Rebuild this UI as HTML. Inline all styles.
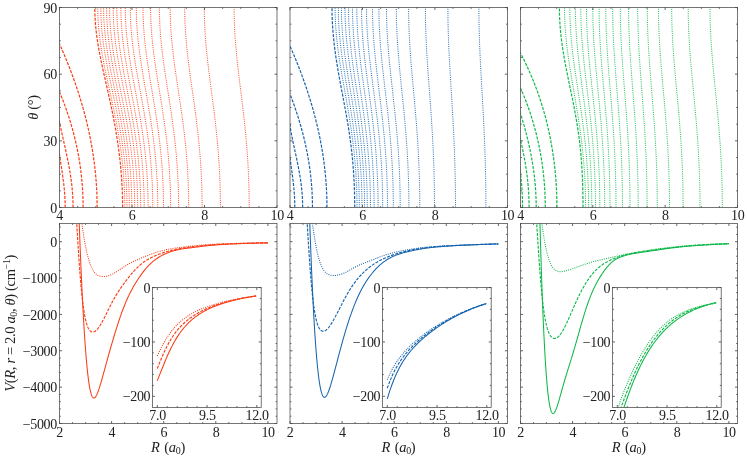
<!DOCTYPE html>
<html lang="en"><head><meta charset="utf-8"><title>Potential energy surfaces</title>
<style>html,body{margin:0;padding:0;background:#fff}svg{display:block}</style></head>
<body>
<svg width="747" height="458" viewBox="0 0 747 458">
<rect width="747" height="458" fill="#fff"/>
<defs>
<clipPath id="ct0"><rect x="59.5" y="7.5" width="217.5" height="200"/></clipPath>
<clipPath id="cb0"><rect x="59.5" y="223.5" width="217.5" height="200"/></clipPath>
<clipPath id="ct1"><rect x="290" y="7.5" width="217.4" height="200"/></clipPath>
<clipPath id="cb1"><rect x="290" y="223.5" width="217.4" height="200"/></clipPath>
<clipPath id="ct2"><rect x="520.5" y="7.5" width="217" height="200"/></clipPath>
<clipPath id="cb2"><rect x="520.5" y="223.5" width="217" height="200"/></clipPath>
</defs>
<g clip-path="url(#ct0)" fill="none" stroke="#fb3b14" stroke-width="1">
<g stroke-dasharray="3 1.3" stroke-width="1.2">
<path d="M122.6 207.5 L122.59 204.17 L122.55 200.83 L122.48 197.5 L122.39 194.17 L122.27 190.83 L122.13 187.5 L121.96 184.17 L121.76 180.83 L121.54 177.5 L121.29 174.17 L121.02 170.83 L120.72 167.5 L120.4 164.17 L120.05 160.83 L119.68 157.5 L119.28 154.17 L118.86 150.83 L118.42 147.5 L117.95 144.17 L117.46 140.83 L116.94 137.5 L116.41 134.17 L115.85 130.83 L115.27 127.5 L114.67 124.17 L114.05 120.83 L113.41 117.5 L112.75 114.17 L112.08 110.83 L111.39 107.5 L110.68 104.17 L109.96 100.83 L109.23 97.5 L108.49 94.17 L107.74 90.83 L106.99 87.5 L106.23 84.17 L105.48 80.83 L104.72 77.5 L103.97 74.17 L103.23 70.83 L102.5 67.5 L101.79 64.17 L101.09 60.83 L100.41 57.5 L99.76 54.17 L99.13 50.83 L98.54 47.5 L97.98 44.17 L97.45 40.83 L96.97 37.5 L96.53 34.17 L96.14 30.83 L95.79 27.5 L95.49 24.17 L95.24 20.83 L95.05 17.5 L94.91 14.17 L94.83 10.83 L94.8 7.5"/>
<path d="M65.19 207.5 L65.18 206.39 L65.17 205.27 L65.15 204.16 L65.13 203.04 L65.1 201.93 L65.06 200.82 L65.02 199.7 L64.97 198.59 L64.91 197.47 L64.84 196.36 L64.77 195.25 L64.7 194.13 L64.61 193.02 L64.53 191.9 L64.43 190.79 L64.33 189.68 L64.22 188.56 L64.11 187.45 L64 186.33 L63.87 185.22 L63.75 184.11 L63.61 182.99 L63.48 181.88 L63.34 180.76 L63.19 179.65 L63.05 178.54 L62.89 177.42 L62.74 176.31 L62.58 175.19 L62.42 174.08 L62.26 172.97 L62.09 171.85 L61.92 170.74 L61.76 169.62 L61.59 168.51 L61.42 167.4 L61.25 166.28 L61.08 165.17 L60.9 164.05 L60.73 162.94 L60.57 161.83 L60.4 160.71 L60.23 159.6 L60.07 158.48 L59.91 157.37 L59.75 156.26 L59.6 155.14 L59.45 154.03 L59.31 152.91 L59.17 151.8 L59.03 150.69 L58.91 149.57 L58.78 148.46 L58.67 147.34 L58.56 146.23 L58.47 145.12 L58.38 144 L58.3 142.89 L58.23 141.77 L58.17 140.66 L58.12 139.55 L58.08 138.43 L58.06 137.32 L58.04 136.2 L58.05 135.09 L58.06 133.98 L58.09 132.86 L58.14 131.75 L58.2 130.63"/>
<path d="M73.05 207.5 L73.04 205.9 L73.02 204.3 L72.99 202.71 L72.94 201.11 L72.89 199.51 L72.81 197.91 L72.73 196.31 L72.63 194.72 L72.52 193.12 L72.4 191.52 L72.27 189.92 L72.12 188.32 L71.96 186.73 L71.79 185.13 L71.61 183.53 L71.42 181.93 L71.21 180.33 L71 178.73 L70.77 177.14 L70.54 175.54 L70.29 173.94 L70.03 172.34 L69.77 170.74 L69.49 169.15 L69.21 167.55 L68.92 165.95 L68.62 164.35 L68.31 162.75 L68 161.16 L67.68 159.56 L67.35 157.96 L67.02 156.36 L66.68 154.76 L66.34 153.17 L65.99 151.57 L65.64 149.97 L65.29 148.37 L64.93 146.77 L64.57 145.18 L64.21 143.58 L63.85 141.98 L63.49 140.38 L63.13 138.78 L62.77 137.19 L62.41 135.59 L62.05 133.99 L61.7 132.39 L61.35 130.79 L61.01 129.19 L60.67 127.6 L60.33 126 L60.01 124.4 L59.69 122.8 L59.37 121.2 L59.07 119.61 L58.78 118.01 L58.5 116.41 L58.23 114.81 L57.97 113.21 L57.72 111.62 L57.49 110.02 L57.28 108.42 L57.08 106.82 L56.9 105.22 L56.73 103.63 L56.59 102.03 L56.46 100.43 L56.36 98.83 L56.28 97.23"/>
<path d="M83.11 207.5 L83.1 205.45 L83.08 203.41 L83.05 201.36 L83 199.31 L82.93 197.26 L82.85 195.22 L82.76 193.17 L82.65 191.12 L82.53 189.07 L82.4 187.03 L82.25 184.98 L82.08 182.93 L81.9 180.88 L81.71 178.84 L81.5 176.79 L81.28 174.74 L81.04 172.7 L80.79 170.65 L80.53 168.6 L80.25 166.55 L79.95 164.51 L79.64 162.46 L79.32 160.41 L78.98 158.36 L78.62 156.32 L78.25 154.27 L77.87 152.22 L77.47 150.17 L77.05 148.13 L76.62 146.08 L76.18 144.03 L75.72 141.99 L75.24 139.94 L74.75 137.89 L74.25 135.84 L73.72 133.8 L73.19 131.75 L72.63 129.7 L72.06 127.65 L71.48 125.61 L70.88 123.56 L70.26 121.51 L69.63 119.46 L68.98 117.42 L68.31 115.37 L67.63 113.32 L66.93 111.27 L66.21 109.23 L65.48 107.18 L64.73 105.13 L63.96 103.09 L63.18 101.04 L62.38 98.99 L61.56 96.94 L60.72 94.9 L59.87 92.85 L59 90.8 L58.11 88.75 L57.2 86.71 L56.28 84.66 L55.33 82.61 L54.37 80.56 L53.39 78.52 L52.39 76.47 L51.38 74.42 L50.34 72.38 L49.28 70.33 L48.21 68.28 L47.12 66.23"/>
<path d="M97.13 207.5 L97.12 204.75 L97.08 202.01 L97.03 199.26 L96.95 196.52 L96.86 193.77 L96.74 191.02 L96.6 188.28 L96.43 185.53 L96.25 182.79 L96.04 180.04 L95.82 177.3 L95.57 174.55 L95.3 171.8 L95 169.06 L94.69 166.31 L94.36 163.57 L94 160.82 L93.62 158.07 L93.22 155.33 L92.8 152.58 L92.36 149.84 L91.9 147.09 L91.41 144.34 L90.9 141.6 L90.38 138.85 L89.83 136.11 L89.26 133.36 L88.67 130.61 L88.06 127.87 L87.42 125.12 L86.77 122.38 L86.1 119.63 L85.4 116.89 L84.68 114.14 L83.95 111.39 L83.19 108.65 L82.41 105.9 L81.61 103.16 L80.79 100.41 L79.96 97.66 L79.1 94.92 L78.22 92.17 L77.32 89.43 L76.39 86.68 L75.45 83.93 L74.49 81.19 L73.51 78.44 L72.51 75.7 L71.49 72.95 L70.45 70.21 L69.4 67.46 L68.32 64.71 L67.22 61.97 L66.1 59.22 L64.96 56.48 L63.81 53.73 L62.63 50.98 L61.44 48.24 L60.23 45.49 L59 42.75 L57.75 40 L56.48 37.25 L55.19 34.51 L53.89 31.76 L52.56 29.02 L51.22 26.27 L49.86 23.53 L48.49 20.78 L47.09 18.03"/>
</g>
<g stroke-dasharray="1 1.2" stroke-width="0.95">
<path d="M124.8 207.5 L124.79 204.17 L124.75 200.83 L124.68 197.5 L124.59 194.17 L124.48 190.83 L124.33 187.5 L124.16 184.17 L123.97 180.83 L123.74 177.5 L123.5 174.17 L123.22 170.83 L122.92 167.5 L122.59 164.17 L122.24 160.83 L121.85 157.5 L121.45 154.17 L121.01 150.83 L120.55 147.5 L120.07 144.17 L119.56 140.83 L119.03 137.5 L118.47 134.17 L117.9 130.83 L117.3 127.5 L116.68 124.17 L116.04 120.83 L115.38 117.5 L114.71 114.17 L114.02 110.83 L113.32 107.5 L112.6 104.17 L111.88 100.83 L111.15 97.5 L110.42 94.17 L109.69 90.83 L108.95 87.5 L108.22 84.17 L107.49 80.83 L106.77 77.5 L106.06 74.17 L105.37 70.83 L104.68 67.5 L104.02 64.17 L103.38 60.83 L102.76 57.5 L102.17 54.17 L101.61 50.83 L101.07 47.5 L100.58 44.17 L100.11 40.83 L99.69 37.5 L99.3 34.17 L98.96 30.83 L98.65 27.5 L98.4 24.17 L98.18 20.83 L98.02 17.5 L97.9 14.17 L97.82 10.83 L97.8 7.5"/>
<path d="M127 207.5 L126.99 204.17 L126.95 200.83 L126.89 197.5 L126.8 194.17 L126.68 190.83 L126.55 187.5 L126.38 184.17 L126.19 180.83 L125.98 177.5 L125.73 174.17 L125.47 170.83 L125.17 167.5 L124.86 164.17 L124.51 160.83 L124.14 157.5 L123.75 154.17 L123.33 150.83 L122.88 147.5 L122.41 144.17 L121.92 140.83 L121.4 137.5 L120.86 134.17 L120.3 130.83 L119.72 127.5 L119.12 124.17 L118.5 120.83 L117.86 117.5 L117.2 114.17 L116.54 110.83 L115.86 107.5 L115.17 104.17 L114.47 100.83 L113.76 97.5 L113.05 94.17 L112.33 90.83 L111.62 87.5 L110.91 84.17 L110.2 80.83 L109.51 77.5 L108.82 74.17 L108.14 70.83 L107.48 67.5 L106.84 64.17 L106.21 60.83 L105.62 57.5 L105.04 54.17 L104.49 50.83 L103.98 47.5 L103.49 44.17 L103.04 40.83 L102.63 37.5 L102.26 34.17 L101.92 30.83 L101.63 27.5 L101.38 24.17 L101.17 20.83 L101.01 17.5 L100.89 14.17 L100.82 10.83 L100.8 7.5"/>
<path d="M129.3 207.5 L129.29 204.17 L129.25 200.83 L129.19 197.5 L129.1 194.17 L128.99 190.83 L128.85 187.5 L128.69 184.17 L128.51 180.83 L128.29 177.5 L128.06 174.17 L127.8 170.83 L127.51 167.5 L127.2 164.17 L126.86 160.83 L126.5 157.5 L126.11 154.17 L125.7 150.83 L125.26 147.5 L124.8 144.17 L124.31 140.83 L123.81 137.5 L123.28 134.17 L122.73 130.83 L122.16 127.5 L121.57 124.17 L120.96 120.83 L120.33 117.5 L119.69 114.17 L119.04 110.83 L118.37 107.5 L117.69 104.17 L117 100.83 L116.31 97.5 L115.61 94.17 L114.91 90.83 L114.21 87.5 L113.52 84.17 L112.82 80.83 L112.14 77.5 L111.46 74.17 L110.8 70.83 L110.15 67.5 L109.52 64.17 L108.91 60.83 L108.32 57.5 L107.76 54.17 L107.22 50.83 L106.72 47.5 L106.24 44.17 L105.8 40.83 L105.4 37.5 L105.03 34.17 L104.7 30.83 L104.41 27.5 L104.17 24.17 L103.96 20.83 L103.81 17.5 L103.69 14.17 L103.62 10.83 L103.6 7.5"/>
<path d="M131.8 207.5 L131.79 204.17 L131.75 200.83 L131.69 197.5 L131.61 194.17 L131.5 190.83 L131.36 187.5 L131.2 184.17 L131.02 180.83 L130.81 177.5 L130.58 174.17 L130.33 170.83 L130.04 167.5 L129.74 164.17 L129.41 160.83 L129.05 157.5 L128.67 154.17 L128.27 150.83 L127.84 147.5 L127.39 144.17 L126.91 140.83 L126.41 137.5 L125.9 134.17 L125.36 130.83 L124.8 127.5 L124.22 124.17 L123.62 120.83 L123.01 117.5 L122.38 114.17 L121.74 110.83 L121.08 107.5 L120.42 104.17 L119.74 100.83 L119.06 97.5 L118.38 94.17 L117.69 90.83 L117.01 87.5 L116.32 84.17 L115.65 80.83 L114.97 77.5 L114.31 74.17 L113.66 70.83 L113.03 67.5 L112.41 64.17 L111.81 60.83 L111.23 57.5 L110.68 54.17 L110.15 50.83 L109.66 47.5 L109.19 44.17 L108.76 40.83 L108.36 37.5 L108 34.17 L107.68 30.83 L107.4 27.5 L107.16 24.17 L106.96 20.83 L106.8 17.5 L106.69 14.17 L106.62 10.83 L106.6 7.5"/>
<path d="M134.7 207.5 L134.69 204.17 L134.65 200.83 L134.59 197.5 L134.51 194.17 L134.4 190.83 L134.26 187.5 L134.11 184.17 L133.93 180.83 L133.72 177.5 L133.49 174.17 L133.23 170.83 L132.95 167.5 L132.65 164.17 L132.32 160.83 L131.96 157.5 L131.58 154.17 L131.18 150.83 L130.75 147.5 L130.3 144.17 L129.83 140.83 L129.34 137.5 L128.82 134.17 L128.28 130.83 L127.72 127.5 L127.15 124.17 L126.55 120.83 L125.94 117.5 L125.32 114.17 L124.68 110.83 L124.02 107.5 L123.36 104.17 L122.69 100.83 L122.02 97.5 L121.33 94.17 L120.65 90.83 L119.97 87.5 L119.29 84.17 L118.61 80.83 L117.94 77.5 L117.28 74.17 L116.63 70.83 L116 67.5 L115.38 64.17 L114.79 60.83 L114.21 57.5 L113.66 54.17 L113.14 50.83 L112.64 47.5 L112.18 44.17 L111.75 40.83 L111.35 37.5 L111 34.17 L110.67 30.83 L110.39 27.5 L110.15 24.17 L109.96 20.83 L109.8 17.5 L109.69 14.17 L109.62 10.83 L109.6 7.5"/>
<path d="M137.7 207.5 L137.69 204.17 L137.65 200.83 L137.59 197.5 L137.51 194.17 L137.41 190.83 L137.28 187.5 L137.12 184.17 L136.94 180.83 L136.74 177.5 L136.52 174.17 L136.27 170.83 L135.99 167.5 L135.69 164.17 L135.37 160.83 L135.03 157.5 L134.66 154.17 L134.26 150.83 L133.85 147.5 L133.41 144.17 L132.95 140.83 L132.46 137.5 L131.96 134.17 L131.43 130.83 L130.89 127.5 L130.33 124.17 L129.75 120.83 L129.15 117.5 L128.54 114.17 L127.92 110.83 L127.28 107.5 L126.63 104.17 L125.98 100.83 L125.32 97.5 L124.65 94.17 L123.99 90.83 L123.32 87.5 L122.65 84.17 L121.99 80.83 L121.34 77.5 L120.7 74.17 L120.06 70.83 L119.45 67.5 L118.85 64.17 L118.26 60.83 L117.7 57.5 L117.17 54.17 L116.65 50.83 L116.17 47.5 L115.72 44.17 L115.3 40.83 L114.91 37.5 L114.56 34.17 L114.25 30.83 L113.97 27.5 L113.74 24.17 L113.55 20.83 L113.4 17.5 L113.29 14.17 L113.22 10.83 L113.2 7.5"/>
<path d="M140.7 207.5 L140.69 204.17 L140.65 200.83 L140.6 197.5 L140.52 194.17 L140.41 190.83 L140.29 187.5 L140.14 184.17 L139.96 180.83 L139.77 177.5 L139.55 174.17 L139.3 170.83 L139.03 167.5 L138.74 164.17 L138.43 160.83 L138.09 157.5 L137.73 154.17 L137.35 150.83 L136.94 147.5 L136.51 144.17 L136.06 140.83 L135.59 137.5 L135.1 134.17 L134.59 130.83 L134.06 127.5 L133.51 124.17 L132.94 120.83 L132.36 117.5 L131.76 114.17 L131.16 110.83 L130.53 107.5 L129.9 104.17 L129.27 100.83 L128.62 97.5 L127.97 94.17 L127.32 90.83 L126.67 87.5 L126.02 84.17 L125.38 80.83 L124.74 77.5 L124.11 74.17 L123.5 70.83 L122.89 67.5 L122.31 64.17 L121.74 60.83 L121.19 57.5 L120.67 54.17 L120.17 50.83 L119.7 47.5 L119.26 44.17 L118.85 40.83 L118.47 37.5 L118.13 34.17 L117.82 30.83 L117.56 27.5 L117.33 24.17 L117.14 20.83 L116.99 17.5 L116.88 14.17 L116.82 10.83 L116.8 7.5"/>
<path d="M144.2 207.5 L144.19 204.17 L144.16 200.83 L144.1 197.5 L144.02 194.17 L143.92 190.83 L143.8 187.5 L143.65 184.17 L143.48 180.83 L143.29 177.5 L143.07 174.17 L142.84 170.83 L142.58 167.5 L142.29 164.17 L141.99 160.83 L141.66 157.5 L141.31 154.17 L140.93 150.83 L140.54 147.5 L140.12 144.17 L139.68 140.83 L139.22 137.5 L138.74 134.17 L138.24 130.83 L137.72 127.5 L137.19 124.17 L136.64 120.83 L136.07 117.5 L135.49 114.17 L134.89 110.83 L134.29 107.5 L133.68 104.17 L133.05 100.83 L132.42 97.5 L131.79 94.17 L131.16 90.83 L130.52 87.5 L129.89 84.17 L129.26 80.83 L128.64 77.5 L128.03 74.17 L127.43 70.83 L126.84 67.5 L126.27 64.17 L125.72 60.83 L125.18 57.5 L124.67 54.17 L124.19 50.83 L123.73 47.5 L123.3 44.17 L122.9 40.83 L122.53 37.5 L122.2 34.17 L121.9 30.83 L121.64 27.5 L121.41 24.17 L121.23 20.83 L121.09 17.5 L120.98 14.17 L120.92 10.83 L120.9 7.5"/>
<path d="M148.1 207.5 L148.09 204.17 L148.06 200.83 L148 197.5 L147.92 194.17 L147.83 190.83 L147.7 187.5 L147.56 184.17 L147.4 180.83 L147.21 177.5 L147 174.17 L146.77 170.83 L146.51 167.5 L146.23 164.17 L145.93 160.83 L145.61 157.5 L145.27 154.17 L144.9 150.83 L144.51 147.5 L144.11 144.17 L143.68 140.83 L143.23 137.5 L142.76 134.17 L142.27 130.83 L141.76 127.5 L141.24 124.17 L140.7 120.83 L140.14 117.5 L139.58 114.17 L138.99 110.83 L138.4 107.5 L137.8 104.17 L137.19 100.83 L136.58 97.5 L135.96 94.17 L135.34 90.83 L134.72 87.5 L134.1 84.17 L133.48 80.83 L132.88 77.5 L132.28 74.17 L131.69 70.83 L131.11 67.5 L130.55 64.17 L130.01 60.83 L129.49 57.5 L128.99 54.17 L128.51 50.83 L128.07 47.5 L127.64 44.17 L127.25 40.83 L126.89 37.5 L126.57 34.17 L126.28 30.83 L126.02 27.5 L125.8 24.17 L125.62 20.83 L125.48 17.5 L125.38 14.17 L125.32 10.83 L125.3 7.5"/>
<path d="M152.8 207.5 L152.79 204.17 L152.76 200.83 L152.7 197.5 L152.63 194.17 L152.53 190.83 L152.41 187.5 L152.27 184.17 L152.11 180.83 L151.92 177.5 L151.71 174.17 L151.48 170.83 L151.23 167.5 L150.96 164.17 L150.66 160.83 L150.34 157.5 L150.01 154.17 L149.64 150.83 L149.26 147.5 L148.86 144.17 L148.44 140.83 L147.99 137.5 L147.53 134.17 L147.05 130.83 L146.55 127.5 L146.03 124.17 L145.5 120.83 L144.95 117.5 L144.39 114.17 L143.81 110.83 L143.23 107.5 L142.64 104.17 L142.04 100.83 L141.43 97.5 L140.82 94.17 L140.21 90.83 L139.59 87.5 L138.98 84.17 L138.38 80.83 L137.78 77.5 L137.19 74.17 L136.6 70.83 L136.04 67.5 L135.48 64.17 L134.95 60.83 L134.44 57.5 L133.94 54.17 L133.47 50.83 L133.03 47.5 L132.61 44.17 L132.23 40.83 L131.87 37.5 L131.55 34.17 L131.26 30.83 L131.01 27.5 L130.8 24.17 L130.62 20.83 L130.48 17.5 L130.38 14.17 L130.32 10.83 L130.3 7.5"/>
<path d="M157.8 207.5 L157.79 204.17 L157.76 200.83 L157.71 197.5 L157.63 194.17 L157.54 190.83 L157.43 187.5 L157.29 184.17 L157.14 180.83 L156.96 177.5 L156.76 174.17 L156.54 170.83 L156.3 167.5 L156.04 164.17 L155.76 160.83 L155.45 157.5 L155.13 154.17 L154.78 150.83 L154.42 147.5 L154.03 144.17 L153.63 140.83 L153.2 137.5 L152.76 134.17 L152.3 130.83 L151.82 127.5 L151.33 124.17 L150.82 120.83 L150.3 117.5 L149.76 114.17 L149.21 110.83 L148.66 107.5 L148.09 104.17 L147.51 100.83 L146.93 97.5 L146.35 94.17 L145.77 90.83 L145.18 87.5 L144.6 84.17 L144.02 80.83 L143.44 77.5 L142.88 74.17 L142.32 70.83 L141.78 67.5 L141.25 64.17 L140.74 60.83 L140.25 57.5 L139.78 54.17 L139.33 50.83 L138.91 47.5 L138.51 44.17 L138.14 40.83 L137.8 37.5 L137.49 34.17 L137.22 30.83 L136.98 27.5 L136.77 24.17 L136.6 20.83 L136.47 17.5 L136.38 14.17 L136.32 10.83 L136.3 7.5"/>
<path d="M163.5 207.5 L163.49 204.17 L163.46 200.83 L163.41 197.5 L163.34 194.17 L163.25 190.83 L163.14 187.5 L163.02 184.17 L162.87 180.83 L162.7 177.5 L162.51 174.17 L162.3 170.83 L162.07 167.5 L161.82 164.17 L161.55 160.83 L161.26 157.5 L160.95 154.17 L160.62 150.83 L160.28 147.5 L159.91 144.17 L159.52 140.83 L159.12 137.5 L158.7 134.17 L158.26 130.83 L157.8 127.5 L157.33 124.17 L156.85 120.83 L156.35 117.5 L155.84 114.17 L155.31 110.83 L154.78 107.5 L154.24 104.17 L153.69 100.83 L153.14 97.5 L152.58 94.17 L152.03 90.83 L151.47 87.5 L150.91 84.17 L150.36 80.83 L149.81 77.5 L149.27 74.17 L148.74 70.83 L148.23 67.5 L147.72 64.17 L147.24 60.83 L146.77 57.5 L146.32 54.17 L145.89 50.83 L145.49 47.5 L145.11 44.17 L144.76 40.83 L144.43 37.5 L144.14 34.17 L143.88 30.83 L143.65 27.5 L143.45 24.17 L143.29 20.83 L143.16 17.5 L143.07 14.17 L143.02 10.83 L143 7.5"/>
<path d="M170.6 207.5 L170.59 204.17 L170.56 200.83 L170.51 197.5 L170.45 194.17 L170.36 190.83 L170.25 187.5 L170.13 184.17 L169.98 180.83 L169.82 177.5 L169.63 174.17 L169.43 170.83 L169.21 167.5 L168.96 164.17 L168.7 160.83 L168.42 157.5 L168.12 154.17 L167.8 150.83 L167.46 147.5 L167.1 144.17 L166.72 140.83 L166.33 137.5 L165.91 134.17 L165.49 130.83 L165.04 127.5 L164.58 124.17 L164.11 120.83 L163.62 117.5 L163.12 114.17 L162.61 110.83 L162.09 107.5 L161.57 104.17 L161.03 100.83 L160.49 97.5 L159.95 94.17 L159.41 90.83 L158.86 87.5 L158.32 84.17 L157.78 80.83 L157.25 77.5 L156.72 74.17 L156.2 70.83 L155.7 67.5 L155.21 64.17 L154.73 60.83 L154.28 57.5 L153.84 54.17 L153.42 50.83 L153.03 47.5 L152.66 44.17 L152.31 40.83 L152 37.5 L151.71 34.17 L151.46 30.83 L151.23 27.5 L151.04 24.17 L150.88 20.83 L150.76 17.5 L150.67 14.17 L150.62 10.83 L150.6 7.5"/>
<path d="M178.6 207.5 L178.59 204.17 L178.56 200.83 L178.52 197.5 L178.45 194.17 L178.37 190.83 L178.27 187.5 L178.15 184.17 L178.01 180.83 L177.85 177.5 L177.67 174.17 L177.48 170.83 L177.26 167.5 L177.03 164.17 L176.78 160.83 L176.51 157.5 L176.22 154.17 L175.91 150.83 L175.58 147.5 L175.24 144.17 L174.88 140.83 L174.5 137.5 L174.1 134.17 L173.69 130.83 L173.26 127.5 L172.82 124.17 L172.37 120.83 L171.9 117.5 L171.42 114.17 L170.93 110.83 L170.43 107.5 L169.93 104.17 L169.41 100.83 L168.9 97.5 L168.38 94.17 L167.85 90.83 L167.33 87.5 L166.81 84.17 L166.29 80.83 L165.78 77.5 L165.28 74.17 L164.78 70.83 L164.3 67.5 L163.82 64.17 L163.37 60.83 L162.93 57.5 L162.51 54.17 L162.11 50.83 L161.73 47.5 L161.37 44.17 L161.04 40.83 L160.74 37.5 L160.47 34.17 L160.22 30.83 L160.01 27.5 L159.82 24.17 L159.67 20.83 L159.55 17.5 L159.47 14.17 L159.42 10.83 L159.4 7.5"/>
<path d="M188.7 207.5 L188.69 204.17 L188.66 200.83 L188.62 197.5 L188.56 194.17 L188.48 190.83 L188.38 187.5 L188.26 184.17 L188.13 180.83 L187.98 177.5 L187.81 174.17 L187.62 170.83 L187.41 167.5 L187.19 164.17 L186.94 160.83 L186.68 157.5 L186.4 154.17 L186.11 150.83 L185.79 147.5 L185.46 144.17 L185.11 140.83 L184.75 137.5 L184.37 134.17 L183.97 130.83 L183.56 127.5 L183.13 124.17 L182.69 120.83 L182.24 117.5 L181.78 114.17 L181.31 110.83 L180.83 107.5 L180.34 104.17 L179.85 100.83 L179.35 97.5 L178.85 94.17 L178.34 90.83 L177.84 87.5 L177.34 84.17 L176.84 80.83 L176.35 77.5 L175.86 74.17 L175.38 70.83 L174.92 67.5 L174.46 64.17 L174.02 60.83 L173.6 57.5 L173.19 54.17 L172.81 50.83 L172.44 47.5 L172.1 44.17 L171.78 40.83 L171.49 37.5 L171.23 34.17 L170.99 30.83 L170.78 27.5 L170.61 24.17 L170.46 20.83 L170.35 17.5 L170.27 14.17 L170.22 10.83 L170.2 7.5"/>
<path d="M202.1 207.5 L202.09 204.17 L202.07 200.83 L202.02 197.5 L201.97 194.17 L201.89 190.83 L201.8 187.5 L201.69 184.17 L201.56 180.83 L201.42 177.5 L201.26 174.17 L201.08 170.83 L200.89 167.5 L200.68 164.17 L200.45 160.83 L200.2 157.5 L199.94 154.17 L199.66 150.83 L199.36 147.5 L199.05 144.17 L198.72 140.83 L198.38 137.5 L198.02 134.17 L197.65 130.83 L197.26 127.5 L196.86 124.17 L196.45 120.83 L196.03 117.5 L195.59 114.17 L195.15 110.83 L194.7 107.5 L194.24 104.17 L193.78 100.83 L193.31 97.5 L192.83 94.17 L192.36 90.83 L191.89 87.5 L191.41 84.17 L190.95 80.83 L190.48 77.5 L190.02 74.17 L189.58 70.83 L189.14 67.5 L188.71 64.17 L188.3 60.83 L187.9 57.5 L187.52 54.17 L187.15 50.83 L186.81 47.5 L186.49 44.17 L186.19 40.83 L185.92 37.5 L185.67 34.17 L185.44 30.83 L185.25 27.5 L185.08 24.17 L184.95 20.83 L184.84 17.5 L184.76 14.17 L184.72 10.83 L184.7 7.5"/>
<path d="M220.4 207.5 L220.39 204.17 L220.37 200.83 L220.33 197.5 L220.28 194.17 L220.21 190.83 L220.12 187.5 L220.02 184.17 L219.9 180.83 L219.77 177.5 L219.62 174.17 L219.46 170.83 L219.28 167.5 L219.08 164.17 L218.87 160.83 L218.64 157.5 L218.4 154.17 L218.14 150.83 L217.87 147.5 L217.58 144.17 L217.28 140.83 L216.96 137.5 L216.63 134.17 L216.28 130.83 L215.92 127.5 L215.56 124.17 L215.17 120.83 L214.78 117.5 L214.38 114.17 L213.97 110.83 L213.55 107.5 L213.13 104.17 L212.7 100.83 L212.26 97.5 L211.83 94.17 L211.39 90.83 L210.95 87.5 L210.51 84.17 L210.08 80.83 L209.65 77.5 L209.23 74.17 L208.81 70.83 L208.41 67.5 L208.01 64.17 L207.63 60.83 L207.26 57.5 L206.91 54.17 L206.57 50.83 L206.25 47.5 L205.96 44.17 L205.68 40.83 L205.43 37.5 L205.19 34.17 L204.99 30.83 L204.81 27.5 L204.65 24.17 L204.53 20.83 L204.43 17.5 L204.36 14.17 L204.31 10.83 L204.3 7.5"/>
<path d="M249.2 207.5 L249.19 204.17 L249.17 200.83 L249.13 197.5 L249.08 194.17 L249.02 190.83 L248.94 187.5 L248.84 184.17 L248.73 180.83 L248.61 177.5 L248.47 174.17 L248.32 170.83 L248.15 167.5 L247.96 164.17 L247.77 160.83 L247.55 157.5 L247.32 154.17 L247.08 150.83 L246.83 147.5 L246.56 144.17 L246.27 140.83 L245.97 137.5 L245.66 134.17 L245.34 130.83 L245 127.5 L244.66 124.17 L244.3 120.83 L243.93 117.5 L243.55 114.17 L243.17 110.83 L242.78 107.5 L242.38 104.17 L241.98 100.83 L241.57 97.5 L241.16 94.17 L240.75 90.83 L240.34 87.5 L239.93 84.17 L239.52 80.83 L239.12 77.5 L238.72 74.17 L238.33 70.83 L237.95 67.5 L237.58 64.17 L237.22 60.83 L236.88 57.5 L236.54 54.17 L236.23 50.83 L235.93 47.5 L235.65 44.17 L235.39 40.83 L235.16 37.5 L234.94 34.17 L234.75 30.83 L234.58 27.5 L234.43 24.17 L234.31 20.83 L234.22 17.5 L234.15 14.17 L234.11 10.83 L234.1 7.5"/>
</g></g>
<g clip-path="url(#ct1)" fill="none" stroke="#1563ae" stroke-width="1">
<g stroke-dasharray="3 1.3" stroke-width="1.2">
<path d="M354.7 207.5 L354.69 204.17 L354.66 200.83 L354.61 197.5 L354.54 194.17 L354.45 190.83 L354.34 187.5 L354.2 184.17 L354.05 180.83 L353.87 177.5 L353.67 174.17 L353.45 170.83 L353.21 167.5 L352.94 164.17 L352.65 160.83 L352.33 157.5 L351.99 154.17 L351.63 150.83 L351.24 147.5 L350.82 144.17 L350.39 140.83 L349.93 137.5 L349.45 134.17 L348.94 130.83 L348.42 127.5 L347.88 124.17 L347.32 120.83 L346.74 117.5 L346.15 114.17 L345.55 110.83 L344.94 107.5 L344.32 104.17 L343.69 100.83 L343.06 97.5 L342.42 94.17 L341.79 90.83 L341.15 87.5 L340.53 84.17 L339.91 80.83 L339.3 77.5 L338.7 74.17 L338.11 70.83 L337.54 67.5 L336.99 64.17 L336.47 60.83 L335.96 57.5 L335.48 54.17 L335.02 50.83 L334.59 47.5 L334.19 44.17 L333.82 40.83 L333.48 37.5 L333.18 34.17 L332.9 30.83 L332.67 27.5 L332.46 24.17 L332.3 20.83 L332.17 17.5 L332.07 14.17 L332.02 10.83 L332 7.5"/>
<path d="M294.79 207.5 L294.78 206.43 L294.77 205.36 L294.76 204.29 L294.74 203.22 L294.71 202.15 L294.68 201.08 L294.64 200.01 L294.6 198.94 L294.55 197.87 L294.49 196.79 L294.43 195.72 L294.37 194.65 L294.29 193.58 L294.22 192.51 L294.13 191.44 L294.05 190.37 L293.96 189.3 L293.86 188.23 L293.76 187.16 L293.65 186.09 L293.54 185.02 L293.43 183.95 L293.31 182.88 L293.19 181.81 L293.06 180.74 L292.93 179.67 L292.8 178.6 L292.67 177.53 L292.53 176.45 L292.39 175.38 L292.24 174.31 L292.1 173.24 L291.95 172.17 L291.81 171.1 L291.66 170.03 L291.51 168.96 L291.36 167.89 L291.21 166.82 L291.06 165.75 L290.91 164.68 L290.76 163.61 L290.61 162.54 L290.46 161.47 L290.31 160.4 L290.17 159.33 L290.03 158.26 L289.89 157.19 L289.75 156.11 L289.62 155.04 L289.49 153.97 L289.37 152.9 L289.25 151.83 L289.14 150.76 L289.03 149.69 L288.93 148.62 L288.83 147.55 L288.74 146.48 L288.66 145.41 L288.59 144.34 L288.52 143.27 L288.47 142.2 L288.42 141.13 L288.38 140.06 L288.36 138.99 L288.34 137.92 L288.34 136.84 L288.35 135.77 L288.37 134.7 L288.4 133.63"/>
<path d="M302.64 207.5 L302.64 205.96 L302.62 204.42 L302.58 202.88 L302.53 201.34 L302.47 199.8 L302.4 198.26 L302.31 196.72 L302.21 195.18 L302.1 193.64 L301.97 192.1 L301.83 190.56 L301.68 189.02 L301.52 187.48 L301.35 185.94 L301.16 184.4 L300.96 182.86 L300.75 181.32 L300.53 179.78 L300.3 178.24 L300.06 176.7 L299.81 175.16 L299.55 173.62 L299.28 172.08 L299.01 170.54 L298.72 169 L298.43 167.46 L298.13 165.92 L297.82 164.38 L297.51 162.84 L297.2 161.3 L296.87 159.76 L296.55 158.22 L296.22 156.68 L295.89 155.14 L295.55 153.6 L295.22 152.06 L294.88 150.52 L294.54 148.98 L294.2 147.44 L293.87 145.9 L293.53 144.36 L293.2 142.82 L292.87 141.28 L292.55 139.74 L292.23 138.2 L291.92 136.66 L291.61 135.12 L291.32 133.58 L291.03 132.04 L290.75 130.5 L290.48 128.96 L290.22 127.41 L289.98 125.87 L289.75 124.33 L289.54 122.79 L289.34 121.25 L289.15 119.71 L288.99 118.17 L288.84 116.63 L288.72 115.09 L288.62 113.55 L288.53 112.01 L288.48 110.47 L288.44 108.93 L288.44 107.39 L288.46 105.85 L288.51 104.31 L288.59 102.77 L288.7 101.23"/>
<path d="M312.46 207.5 L312.46 205.48 L312.43 203.46 L312.4 201.44 L312.35 199.43 L312.28 197.41 L312.2 195.39 L312.11 193.37 L312 191.35 L311.88 189.33 L311.74 187.32 L311.59 185.3 L311.42 183.28 L311.24 181.26 L311.05 179.24 L310.84 177.22 L310.62 175.21 L310.38 173.19 L310.13 171.17 L309.86 169.15 L309.58 167.13 L309.28 165.11 L308.97 163.1 L308.65 161.08 L308.31 159.06 L307.96 157.04 L307.59 155.02 L307.21 153 L306.82 150.99 L306.41 148.97 L305.99 146.95 L305.55 144.93 L305.1 142.91 L304.64 140.89 L304.16 138.88 L303.66 136.86 L303.16 134.84 L302.64 132.82 L302.1 130.8 L301.55 128.78 L300.99 126.77 L300.42 124.75 L299.83 122.73 L299.22 120.71 L298.61 118.69 L297.98 116.67 L297.33 114.66 L296.67 112.64 L296 110.62 L295.32 108.6 L294.62 106.58 L293.91 104.56 L293.18 102.55 L292.44 100.53 L291.69 98.51 L290.93 96.49 L290.15 94.47 L289.36 92.45 L288.55 90.44 L287.74 88.42 L286.91 86.4 L286.06 84.38 L285.21 82.36 L284.34 80.34 L283.46 78.33 L282.56 76.31 L281.65 74.29 L280.73 72.27 L279.8 70.25 L278.86 68.23"/>
<path d="M326.97 207.5 L326.96 204.78 L326.92 202.07 L326.87 199.35 L326.79 196.63 L326.7 193.92 L326.58 191.2 L326.44 188.48 L326.27 185.76 L326.09 183.05 L325.88 180.33 L325.65 177.61 L325.41 174.9 L325.14 172.18 L324.84 169.46 L324.53 166.75 L324.19 164.03 L323.84 161.31 L323.46 158.6 L323.06 155.88 L322.64 153.16 L322.2 150.44 L321.74 147.73 L321.25 145.01 L320.75 142.29 L320.22 139.58 L319.68 136.86 L319.11 134.14 L318.52 131.43 L317.91 128.71 L317.28 125.99 L316.63 123.28 L315.96 120.56 L315.27 117.84 L314.56 115.13 L313.83 112.41 L313.08 109.69 L312.31 106.97 L311.51 104.26 L310.7 101.54 L309.87 98.82 L309.02 96.11 L308.15 93.39 L307.26 90.67 L306.36 87.96 L305.43 85.24 L304.48 82.52 L303.52 79.81 L302.53 77.09 L301.53 74.37 L300.51 71.65 L299.47 68.94 L298.41 66.22 L297.33 63.5 L296.24 60.79 L295.12 58.07 L293.99 55.35 L292.85 52.64 L291.68 49.92 L290.5 47.2 L289.3 44.49 L288.08 41.77 L286.85 39.05 L285.6 36.33 L284.33 33.62 L283.05 30.9 L281.75 28.18 L280.44 25.47 L279.11 22.75 L277.76 20.03"/>
</g>
<g stroke-dasharray="1 1.2" stroke-width="0.95">
<path d="M357 207.5 L356.99 204.17 L356.96 200.83 L356.91 197.5 L356.83 194.17 L356.74 190.83 L356.62 187.5 L356.48 184.17 L356.32 180.83 L356.14 177.5 L355.94 174.17 L355.72 170.83 L355.47 167.5 L355.21 164.17 L354.92 160.83 L354.61 157.5 L354.28 154.17 L353.93 150.83 L353.56 147.5 L353.16 144.17 L352.75 140.83 L352.32 137.5 L351.87 134.17 L351.4 130.83 L350.91 127.5 L350.41 124.17 L349.89 120.83 L349.36 117.5 L348.81 114.17 L348.25 110.83 L347.69 107.5 L347.11 104.17 L346.52 100.83 L345.93 97.5 L345.34 94.17 L344.74 90.83 L344.15 87.5 L343.55 84.17 L342.96 80.83 L342.38 77.5 L341.8 74.17 L341.24 70.83 L340.68 67.5 L340.15 64.17 L339.63 60.83 L339.12 57.5 L338.64 54.17 L338.19 50.83 L337.76 47.5 L337.35 44.17 L336.98 40.83 L336.63 37.5 L336.32 34.17 L336.04 30.83 L335.79 27.5 L335.58 24.17 L335.41 20.83 L335.27 17.5 L335.18 14.17 L335.12 10.83 L335.1 7.5"/>
<path d="M359.3 207.5 L359.29 204.17 L359.26 200.83 L359.21 197.5 L359.14 194.17 L359.05 190.83 L358.94 187.5 L358.8 184.17 L358.65 180.83 L358.48 177.5 L358.29 174.17 L358.07 170.83 L357.84 167.5 L357.58 164.17 L357.31 160.83 L357.01 157.5 L356.69 154.17 L356.35 150.83 L356 147.5 L355.62 144.17 L355.23 140.83 L354.81 137.5 L354.38 134.17 L353.93 130.83 L353.46 127.5 L352.98 124.17 L352.48 120.83 L351.97 117.5 L351.45 114.17 L350.91 110.83 L350.37 107.5 L349.81 104.17 L349.25 100.83 L348.69 97.5 L348.12 94.17 L347.55 90.83 L346.97 87.5 L346.4 84.17 L345.84 80.83 L345.28 77.5 L344.73 74.17 L344.18 70.83 L343.65 67.5 L343.14 64.17 L342.64 60.83 L342.16 57.5 L341.7 54.17 L341.26 50.83 L340.85 47.5 L340.46 44.17 L340.1 40.83 L339.77 37.5 L339.47 34.17 L339.2 30.83 L338.96 27.5 L338.76 24.17 L338.6 20.83 L338.47 17.5 L338.37 14.17 L338.32 10.83 L338.3 7.5"/>
<path d="M362 207.5 L361.99 204.17 L361.96 200.83 L361.91 197.5 L361.84 194.17 L361.75 190.83 L361.64 187.5 L361.51 184.17 L361.36 180.83 L361.19 177.5 L361 174.17 L360.79 170.83 L360.56 167.5 L360.31 164.17 L360.04 160.83 L359.75 157.5 L359.44 154.17 L359.11 150.83 L358.76 147.5 L358.39 144.17 L358 140.83 L357.6 137.5 L357.17 134.17 L356.73 130.83 L356.27 127.5 L355.8 124.17 L355.31 120.83 L354.81 117.5 L354.3 114.17 L353.77 110.83 L353.24 107.5 L352.69 104.17 L352.14 100.83 L351.59 97.5 L351.03 94.17 L350.47 90.83 L349.91 87.5 L349.35 84.17 L348.79 80.83 L348.25 77.5 L347.7 74.17 L347.17 70.83 L346.65 67.5 L346.15 64.17 L345.66 60.83 L345.19 57.5 L344.73 54.17 L344.3 50.83 L343.9 47.5 L343.52 44.17 L343.16 40.83 L342.84 37.5 L342.54 34.17 L342.28 30.83 L342.05 27.5 L341.85 24.17 L341.69 20.83 L341.56 17.5 L341.47 14.17 L341.42 10.83 L341.4 7.5"/>
<path d="M364.6 207.5 L364.59 204.17 L364.56 200.83 L364.52 197.5 L364.45 194.17 L364.36 190.83 L364.26 187.5 L364.14 184.17 L363.99 180.83 L363.83 177.5 L363.65 174.17 L363.45 170.83 L363.23 167.5 L363 164.17 L362.74 160.83 L362.46 157.5 L362.17 154.17 L361.85 150.83 L361.52 147.5 L361.17 144.17 L360.8 140.83 L360.41 137.5 L360.01 134.17 L359.59 130.83 L359.15 127.5 L358.7 124.17 L358.24 120.83 L357.76 117.5 L357.27 114.17 L356.77 110.83 L356.26 107.5 L355.75 104.17 L355.22 100.83 L354.69 97.5 L354.16 94.17 L353.63 90.83 L353.1 87.5 L352.56 84.17 L352.04 80.83 L351.51 77.5 L351 74.17 L350.49 70.83 L350 67.5 L349.52 64.17 L349.05 60.83 L348.6 57.5 L348.17 54.17 L347.76 50.83 L347.38 47.5 L347.02 44.17 L346.68 40.83 L346.37 37.5 L346.09 34.17 L345.84 30.83 L345.62 27.5 L345.43 24.17 L345.28 20.83 L345.16 17.5 L345.07 14.17 L345.02 10.83 L345 7.5"/>
<path d="M367.3 207.5 L367.29 204.17 L367.26 200.83 L367.22 197.5 L367.16 194.17 L367.07 190.83 L366.97 187.5 L366.86 184.17 L366.72 180.83 L366.56 177.5 L366.39 174.17 L366.2 170.83 L365.99 167.5 L365.76 164.17 L365.51 160.83 L365.25 157.5 L364.97 154.17 L364.66 150.83 L364.34 147.5 L364.01 144.17 L363.65 140.83 L363.28 137.5 L362.89 134.17 L362.49 130.83 L362.07 127.5 L361.64 124.17 L361.2 120.83 L360.74 117.5 L360.27 114.17 L359.79 110.83 L359.3 107.5 L358.81 104.17 L358.31 100.83 L357.8 97.5 L357.29 94.17 L356.78 90.83 L356.26 87.5 L355.75 84.17 L355.25 80.83 L354.75 77.5 L354.25 74.17 L353.77 70.83 L353.29 67.5 L352.83 64.17 L352.39 60.83 L351.96 57.5 L351.54 54.17 L351.15 50.83 L350.78 47.5 L350.43 44.17 L350.11 40.83 L349.81 37.5 L349.54 34.17 L349.3 30.83 L349.09 27.5 L348.91 24.17 L348.77 20.83 L348.65 17.5 L348.57 14.17 L348.52 10.83 L348.5 7.5"/>
<path d="M370.5 207.5 L370.49 204.17 L370.47 200.83 L370.42 197.5 L370.36 194.17 L370.28 190.83 L370.19 187.5 L370.07 184.17 L369.94 180.83 L369.8 177.5 L369.63 174.17 L369.45 170.83 L369.25 167.5 L369.03 164.17 L368.79 160.83 L368.54 157.5 L368.26 154.17 L367.98 150.83 L367.67 147.5 L367.35 144.17 L367.01 140.83 L366.65 137.5 L366.28 134.17 L365.9 130.83 L365.5 127.5 L365.08 124.17 L364.66 120.83 L364.22 117.5 L363.77 114.17 L363.31 110.83 L362.84 107.5 L362.37 104.17 L361.89 100.83 L361.4 97.5 L360.91 94.17 L360.42 90.83 L359.93 87.5 L359.45 84.17 L358.96 80.83 L358.48 77.5 L358.01 74.17 L357.54 70.83 L357.09 67.5 L356.65 64.17 L356.22 60.83 L355.81 57.5 L355.41 54.17 L355.04 50.83 L354.68 47.5 L354.35 44.17 L354.04 40.83 L353.76 37.5 L353.5 34.17 L353.27 30.83 L353.07 27.5 L352.9 24.17 L352.75 20.83 L352.64 17.5 L352.56 14.17 L352.52 10.83 L352.5 7.5"/>
<path d="M374.1 207.5 L374.09 204.17 L374.07 200.83 L374.03 197.5 L373.97 194.17 L373.89 190.83 L373.8 187.5 L373.69 184.17 L373.57 180.83 L373.42 177.5 L373.26 174.17 L373.09 170.83 L372.89 167.5 L372.68 164.17 L372.46 160.83 L372.21 157.5 L371.95 154.17 L371.67 150.83 L371.38 147.5 L371.07 144.17 L370.74 140.83 L370.4 137.5 L370.05 134.17 L369.68 130.83 L369.29 127.5 L368.89 124.17 L368.48 120.83 L368.06 117.5 L367.63 114.17 L367.19 110.83 L366.74 107.5 L366.29 104.17 L365.82 100.83 L365.36 97.5 L364.89 94.17 L364.42 90.83 L363.95 87.5 L363.48 84.17 L363.01 80.83 L362.55 77.5 L362.09 74.17 L361.65 70.83 L361.21 67.5 L360.79 64.17 L360.38 60.83 L359.98 57.5 L359.6 54.17 L359.24 50.83 L358.9 47.5 L358.58 44.17 L358.28 40.83 L358.01 37.5 L357.76 34.17 L357.54 30.83 L357.35 27.5 L357.18 24.17 L357.04 20.83 L356.94 17.5 L356.86 14.17 L356.82 10.83 L356.8 7.5"/>
<path d="M378.1 207.5 L378.09 204.17 L378.07 200.83 L378.03 197.5 L377.97 194.17 L377.9 190.83 L377.81 187.5 L377.71 184.17 L377.59 180.83 L377.45 177.5 L377.3 174.17 L377.13 170.83 L376.94 167.5 L376.74 164.17 L376.52 160.83 L376.29 157.5 L376.04 154.17 L375.77 150.83 L375.49 147.5 L375.19 144.17 L374.88 140.83 L374.55 137.5 L374.21 134.17 L373.85 130.83 L373.49 127.5 L373.1 124.17 L372.71 120.83 L372.31 117.5 L371.89 114.17 L371.47 110.83 L371.04 107.5 L370.6 104.17 L370.16 100.83 L369.71 97.5 L369.26 94.17 L368.81 90.83 L368.36 87.5 L367.91 84.17 L367.46 80.83 L367.02 77.5 L366.58 74.17 L366.15 70.83 L365.73 67.5 L365.33 64.17 L364.93 60.83 L364.55 57.5 L364.19 54.17 L363.84 50.83 L363.51 47.5 L363.21 44.17 L362.92 40.83 L362.66 37.5 L362.42 34.17 L362.21 30.83 L362.02 27.5 L361.87 24.17 L361.73 20.83 L361.63 17.5 L361.56 14.17 L361.51 10.83 L361.5 7.5"/>
<path d="M382.7 207.5 L382.69 204.17 L382.67 200.83 L382.63 197.5 L382.58 194.17 L382.51 190.83 L382.42 187.5 L382.32 184.17 L382.2 180.83 L382.07 177.5 L381.92 174.17 L381.75 170.83 L381.57 167.5 L381.37 164.17 L381.16 160.83 L380.93 157.5 L380.69 154.17 L380.43 150.83 L380.15 147.5 L379.86 144.17 L379.56 140.83 L379.24 137.5 L378.9 134.17 L378.56 130.83 L378.2 127.5 L377.83 124.17 L377.44 120.83 L377.05 117.5 L376.64 114.17 L376.23 110.83 L375.81 107.5 L375.38 104.17 L374.95 100.83 L374.51 97.5 L374.07 94.17 L373.63 90.83 L373.19 87.5 L372.75 84.17 L372.31 80.83 L371.88 77.5 L371.46 74.17 L371.04 70.83 L370.63 67.5 L370.23 64.17 L369.85 60.83 L369.48 57.5 L369.12 54.17 L368.78 50.83 L368.46 47.5 L368.17 44.17 L367.89 40.83 L367.63 37.5 L367.4 34.17 L367.19 30.83 L367.01 27.5 L366.86 24.17 L366.73 20.83 L366.63 17.5 L366.56 14.17 L366.51 10.83 L366.5 7.5"/>
<path d="M387.5 207.5 L387.49 204.17 L387.47 200.83 L387.44 197.5 L387.38 194.17 L387.32 190.83 L387.24 187.5 L387.15 184.17 L387.04 180.83 L386.91 177.5 L386.78 174.17 L386.62 170.83 L386.45 167.5 L386.27 164.17 L386.08 160.83 L385.86 157.5 L385.64 154.17 L385.4 150.83 L385.14 147.5 L384.87 144.17 L384.59 140.83 L384.29 137.5 L383.99 134.17 L383.66 130.83 L383.33 127.5 L382.99 124.17 L382.63 120.83 L382.27 117.5 L381.89 114.17 L381.51 110.83 L381.12 107.5 L380.72 104.17 L380.32 100.83 L379.92 97.5 L379.51 94.17 L379.1 90.83 L378.7 87.5 L378.29 84.17 L377.88 80.83 L377.48 77.5 L377.09 74.17 L376.7 70.83 L376.32 67.5 L375.96 64.17 L375.6 60.83 L375.26 57.5 L374.93 54.17 L374.61 50.83 L374.32 47.5 L374.04 44.17 L373.78 40.83 L373.55 37.5 L373.33 34.17 L373.14 30.83 L372.97 27.5 L372.83 24.17 L372.71 20.83 L372.62 17.5 L372.55 14.17 L372.51 10.83 L372.5 7.5"/>
<path d="M393.3 207.5 L393.29 204.17 L393.27 200.83 L393.24 197.5 L393.19 194.17 L393.13 190.83 L393.05 187.5 L392.96 184.17 L392.86 180.83 L392.74 177.5 L392.6 174.17 L392.46 170.83 L392.3 167.5 L392.12 164.17 L391.93 160.83 L391.73 157.5 L391.51 154.17 L391.28 150.83 L391.04 147.5 L390.78 144.17 L390.51 140.83 L390.22 137.5 L389.93 134.17 L389.62 130.83 L389.3 127.5 L388.97 124.17 L388.63 120.83 L388.28 117.5 L387.92 114.17 L387.55 110.83 L387.18 107.5 L386.8 104.17 L386.41 100.83 L386.02 97.5 L385.63 94.17 L385.24 90.83 L384.85 87.5 L384.46 84.17 L384.07 80.83 L383.68 77.5 L383.31 74.17 L382.93 70.83 L382.57 67.5 L382.22 64.17 L381.88 60.83 L381.55 57.5 L381.23 54.17 L380.93 50.83 L380.65 47.5 L380.38 44.17 L380.13 40.83 L379.91 37.5 L379.7 34.17 L379.52 30.83 L379.36 27.5 L379.22 24.17 L379.1 20.83 L379.01 17.5 L378.95 14.17 L378.91 10.83 L378.9 7.5"/>
<path d="M400.2 207.5 L400.19 204.17 L400.17 200.83 L400.14 197.5 L400.09 194.17 L400.04 190.83 L399.96 187.5 L399.88 184.17 L399.78 180.83 L399.66 177.5 L399.54 174.17 L399.4 170.83 L399.25 167.5 L399.08 164.17 L398.9 160.83 L398.71 157.5 L398.5 154.17 L398.28 150.83 L398.05 147.5 L397.8 144.17 L397.54 140.83 L397.27 137.5 L396.99 134.17 L396.7 130.83 L396.39 127.5 L396.08 124.17 L395.75 120.83 L395.42 117.5 L395.08 114.17 L394.73 110.83 L394.37 107.5 L394.01 104.17 L393.65 100.83 L393.28 97.5 L392.9 94.17 L392.53 90.83 L392.16 87.5 L391.79 84.17 L391.42 80.83 L391.05 77.5 L390.69 74.17 L390.34 70.83 L389.99 67.5 L389.66 64.17 L389.33 60.83 L389.02 57.5 L388.72 54.17 L388.43 50.83 L388.16 47.5 L387.91 44.17 L387.67 40.83 L387.46 37.5 L387.26 34.17 L387.09 30.83 L386.93 27.5 L386.8 24.17 L386.69 20.83 L386.61 17.5 L386.55 14.17 L386.51 10.83 L386.5 7.5"/>
<path d="M408.9 207.5 L408.89 204.17 L408.88 200.83 L408.85 197.5 L408.8 194.17 L408.75 190.83 L408.68 187.5 L408.6 184.17 L408.51 180.83 L408.41 177.5 L408.29 174.17 L408.16 170.83 L408.02 167.5 L407.87 164.17 L407.7 160.83 L407.53 157.5 L407.34 154.17 L407.13 150.83 L406.92 147.5 L406.69 144.17 L406.46 140.83 L406.21 137.5 L405.95 134.17 L405.68 130.83 L405.4 127.5 L405.11 124.17 L404.81 120.83 L404.5 117.5 L404.19 114.17 L403.87 110.83 L403.54 107.5 L403.21 104.17 L402.87 100.83 L402.53 97.5 L402.19 94.17 L401.85 90.83 L401.5 87.5 L401.16 84.17 L400.82 80.83 L400.49 77.5 L400.16 74.17 L399.83 70.83 L399.51 67.5 L399.2 64.17 L398.9 60.83 L398.62 57.5 L398.34 54.17 L398.08 50.83 L397.83 47.5 L397.6 44.17 L397.38 40.83 L397.18 37.5 L397 34.17 L396.84 30.83 L396.7 27.5 L396.58 24.17 L396.48 20.83 L396.4 17.5 L396.34 14.17 L396.31 10.83 L396.3 7.5"/>
<path d="M419.8 207.5 L419.79 204.17 L419.78 200.83 L419.75 197.5 L419.71 194.17 L419.67 190.83 L419.61 187.5 L419.54 184.17 L419.45 180.83 L419.36 177.5 L419.26 174.17 L419.14 170.83 L419.02 167.5 L418.88 164.17 L418.74 160.83 L418.58 157.5 L418.41 154.17 L418.23 150.83 L418.04 147.5 L417.84 144.17 L417.63 140.83 L417.41 137.5 L417.18 134.17 L416.94 130.83 L416.69 127.5 L416.43 124.17 L416.16 120.83 L415.89 117.5 L415.61 114.17 L415.33 110.83 L415.04 107.5 L414.74 104.17 L414.44 100.83 L414.14 97.5 L413.84 94.17 L413.53 90.83 L413.23 87.5 L412.92 84.17 L412.62 80.83 L412.32 77.5 L412.03 74.17 L411.74 70.83 L411.46 67.5 L411.18 64.17 L410.91 60.83 L410.66 57.5 L410.41 54.17 L410.18 50.83 L409.96 47.5 L409.75 44.17 L409.56 40.83 L409.38 37.5 L409.22 34.17 L409.08 30.83 L408.95 27.5 L408.85 24.17 L408.76 20.83 L408.69 17.5 L408.64 14.17 L408.61 10.83 L408.6 7.5"/>
<path d="M434.5 207.5 L434.5 204.17 L434.48 200.83 L434.46 197.5 L434.43 194.17 L434.39 190.83 L434.34 187.5 L434.29 184.17 L434.22 180.83 L434.14 177.5 L434.06 174.17 L433.97 170.83 L433.87 167.5 L433.76 164.17 L433.64 160.83 L433.51 157.5 L433.37 154.17 L433.22 150.83 L433.07 147.5 L432.91 144.17 L432.73 140.83 L432.56 137.5 L432.37 134.17 L432.17 130.83 L431.97 127.5 L431.76 124.17 L431.55 120.83 L431.32 117.5 L431.1 114.17 L430.87 110.83 L430.63 107.5 L430.39 104.17 L430.15 100.83 L429.9 97.5 L429.65 94.17 L429.41 90.83 L429.16 87.5 L428.91 84.17 L428.67 80.83 L428.42 77.5 L428.18 74.17 L427.95 70.83 L427.72 67.5 L427.5 64.17 L427.28 60.83 L427.07 57.5 L426.87 54.17 L426.68 50.83 L426.5 47.5 L426.34 44.17 L426.18 40.83 L426.04 37.5 L425.91 34.17 L425.79 30.83 L425.69 27.5 L425.6 24.17 L425.53 20.83 L425.47 17.5 L425.43 14.17 L425.41 10.83 L425.4 7.5"/>
<path d="M455.5 207.5 L455.5 204.17 L455.49 200.83 L455.47 197.5 L455.44 194.17 L455.41 190.83 L455.37 187.5 L455.32 184.17 L455.27 180.83 L455.2 177.5 L455.13 174.17 L455.06 170.83 L454.97 167.5 L454.88 164.17 L454.78 160.83 L454.67 157.5 L454.56 154.17 L454.43 150.83 L454.3 147.5 L454.17 144.17 L454.03 140.83 L453.88 137.5 L453.72 134.17 L453.56 130.83 L453.39 127.5 L453.21 124.17 L453.03 120.83 L452.85 117.5 L452.66 114.17 L452.46 110.83 L452.27 107.5 L452.07 104.17 L451.86 100.83 L451.66 97.5 L451.45 94.17 L451.25 90.83 L451.04 87.5 L450.83 84.17 L450.63 80.83 L450.43 77.5 L450.23 74.17 L450.03 70.83 L449.84 67.5 L449.65 64.17 L449.47 60.83 L449.3 57.5 L449.13 54.17 L448.97 50.83 L448.82 47.5 L448.68 44.17 L448.55 40.83 L448.43 37.5 L448.32 34.17 L448.23 30.83 L448.14 27.5 L448.07 24.17 L448.01 20.83 L447.96 17.5 L447.93 14.17 L447.91 10.83 L447.9 7.5"/>
<path d="M485.9 207.5 L485.9 204.17 L485.89 200.83 L485.87 197.5 L485.85 194.17 L485.82 190.83 L485.78 187.5 L485.73 184.17 L485.68 180.83 L485.63 177.5 L485.56 174.17 L485.49 170.83 L485.41 167.5 L485.33 164.17 L485.24 160.83 L485.14 157.5 L485.03 154.17 L484.92 150.83 L484.8 147.5 L484.67 144.17 L484.54 140.83 L484.4 137.5 L484.26 134.17 L484.11 130.83 L483.95 127.5 L483.79 124.17 L483.63 120.83 L483.46 117.5 L483.28 114.17 L483.1 110.83 L482.92 107.5 L482.74 104.17 L482.55 100.83 L482.36 97.5 L482.17 94.17 L481.98 90.83 L481.79 87.5 L481.6 84.17 L481.41 80.83 L481.23 77.5 L481.04 74.17 L480.86 70.83 L480.68 67.5 L480.51 64.17 L480.35 60.83 L480.19 57.5 L480.03 54.17 L479.89 50.83 L479.75 47.5 L479.62 44.17 L479.5 40.83 L479.39 37.5 L479.29 34.17 L479.2 30.83 L479.12 27.5 L479.05 24.17 L479 20.83 L478.96 17.5 L478.92 14.17 L478.91 10.83 L478.9 7.5"/>
</g></g>
<g clip-path="url(#ct2)" fill="none" stroke="#0cb848" stroke-width="1">
<g stroke-dasharray="3 1.3" stroke-width="1.2">
<path d="M583 207.5 L582.99 204.17 L582.97 200.83 L582.94 197.5 L582.89 194.17 L582.82 190.83 L582.74 187.5 L582.65 184.17 L582.53 180.83 L582.4 177.5 L582.25 174.17 L582.08 170.83 L581.88 167.5 L581.67 164.17 L581.43 160.83 L581.17 157.5 L580.88 154.17 L580.56 150.83 L580.22 147.5 L579.85 144.17 L579.46 140.83 L579.04 137.5 L578.59 134.17 L578.11 130.83 L577.61 127.5 L577.08 124.17 L576.53 120.83 L575.96 117.5 L575.36 114.17 L574.74 110.83 L574.11 107.5 L573.46 104.17 L572.8 100.83 L572.12 97.5 L571.44 94.17 L570.75 90.83 L570.05 87.5 L569.36 84.17 L568.67 80.83 L567.98 77.5 L567.31 74.17 L566.64 70.83 L565.99 67.5 L565.35 64.17 L564.74 60.83 L564.14 57.5 L563.58 54.17 L563.04 50.83 L562.53 47.5 L562.05 44.17 L561.61 40.83 L561.2 37.5 L560.83 34.17 L560.5 30.83 L560.21 27.5 L559.97 24.17 L559.76 20.83 L559.61 17.5 L559.49 14.17 L559.42 10.83 L559.4 7.5"/>
<path d="M522.5 207.5 L522.5 206.61 L522.49 205.73 L522.49 204.84 L522.48 203.95 L522.47 203.07 L522.45 202.18 L522.43 201.29 L522.41 200.41 L522.39 199.52 L522.36 198.64 L522.34 197.75 L522.3 196.86 L522.27 195.98 L522.23 195.09 L522.2 194.2 L522.15 193.32 L522.11 192.43 L522.06 191.54 L522.01 190.66 L521.96 189.77 L521.91 188.88 L521.85 188 L521.79 187.11 L521.73 186.22 L521.66 185.34 L521.59 184.45 L521.52 183.57 L521.45 182.68 L521.37 181.79 L521.3 180.91 L521.22 180.02 L521.13 179.13 L521.05 178.25 L520.96 177.36 L520.87 176.47 L520.78 175.59 L520.69 174.7 L520.59 173.81 L520.49 172.93 L520.39 172.04 L520.29 171.15 L520.18 170.27 L520.07 169.38 L519.96 168.5 L519.85 167.61 L519.74 166.72 L519.62 165.84 L519.51 164.95 L519.39 164.06 L519.26 163.18 L519.14 162.29 L519.01 161.4 L518.89 160.52 L518.76 159.63 L518.63 158.74 L518.49 157.86 L518.36 156.97 L518.22 156.08 L518.08 155.2 L517.94 154.31 L517.8 153.43 L517.66 152.54 L517.51 151.65 L517.37 150.77 L517.22 149.88 L517.07 148.99 L516.92 148.11 L516.77 147.22 L516.62 146.33"/>
<path d="M529.1 207.5 L529.1 206.13 L529.09 204.76 L529.07 203.39 L529.04 202.02 L529.01 200.65 L528.97 199.29 L528.92 197.92 L528.86 196.55 L528.8 195.18 L528.72 193.81 L528.65 192.44 L528.56 191.07 L528.46 189.7 L528.36 188.33 L528.25 186.96 L528.14 185.59 L528.01 184.23 L527.88 182.86 L527.75 181.49 L527.6 180.12 L527.45 178.75 L527.29 177.38 L527.13 176.01 L526.95 174.64 L526.77 173.27 L526.59 171.9 L526.4 170.53 L526.2 169.17 L525.99 167.8 L525.78 166.43 L525.56 165.06 L525.34 163.69 L525.11 162.32 L524.87 160.95 L524.63 159.58 L524.38 158.21 L524.12 156.84 L523.86 155.47 L523.6 154.11 L523.33 152.74 L523.05 151.37 L522.77 150 L522.48 148.63 L522.19 147.26 L521.9 145.89 L521.59 144.52 L521.29 143.15 L520.98 141.78 L520.66 140.41 L520.35 139.05 L520.02 137.68 L519.7 136.31 L519.37 134.94 L519.03 133.57 L518.7 132.2 L518.35 130.83 L518.01 129.46 L517.66 128.09 L517.31 126.72 L516.96 125.36 L516.61 123.99 L516.25 122.62 L515.89 121.25 L515.53 119.88 L515.17 118.51 L514.8 117.14 L514.44 115.77 L514.07 114.4 L513.7 113.03"/>
<path d="M536.2 207.5 L536.19 205.75 L536.18 204 L536.15 202.25 L536.11 200.5 L536.05 198.76 L535.99 197.01 L535.91 195.26 L535.83 193.51 L535.73 191.76 L535.62 190.01 L535.5 188.26 L535.36 186.51 L535.22 184.77 L535.06 183.02 L534.9 181.27 L534.72 179.52 L534.53 177.77 L534.33 176.02 L534.12 174.27 L533.89 172.52 L533.66 170.78 L533.41 169.03 L533.16 167.28 L532.89 165.53 L532.61 163.78 L532.33 162.03 L532.03 160.28 L531.72 158.53 L531.4 156.79 L531.07 155.04 L530.73 153.29 L530.38 151.54 L530.02 149.79 L529.65 148.04 L529.27 146.29 L528.88 144.54 L528.48 142.79 L528.07 141.05 L527.66 139.3 L527.23 137.55 L526.79 135.8 L526.35 134.05 L525.9 132.3 L525.43 130.55 L524.96 128.8 L524.48 127.06 L524 125.31 L523.5 123.56 L523 121.81 L522.49 120.06 L521.97 118.31 L521.44 116.56 L520.91 114.81 L520.37 113.07 L519.82 111.32 L519.27 109.57 L518.71 107.82 L518.14 106.07 L517.57 104.32 L516.99 102.57 L516.4 100.82 L515.81 99.07 L515.21 97.33 L514.61 95.58 L514 93.83 L513.39 92.08 L512.78 90.33 L512.16 88.58 L511.53 86.83"/>
<path d="M545.26 207.5 L545.25 205.38 L545.23 203.26 L545.19 201.14 L545.14 199.03 L545.08 196.91 L545 194.79 L544.9 192.67 L544.79 190.55 L544.67 188.43 L544.53 186.32 L544.38 184.2 L544.21 182.08 L544.03 179.96 L543.83 177.84 L543.62 175.72 L543.39 173.61 L543.15 171.49 L542.89 169.37 L542.62 167.25 L542.33 165.13 L542.03 163.01 L541.71 160.9 L541.38 158.78 L541.03 156.66 L540.67 154.54 L540.29 152.42 L539.89 150.3 L539.48 148.19 L539.05 146.07 L538.61 143.95 L538.14 141.83 L537.67 139.71 L537.17 137.59 L536.66 135.48 L536.14 133.36 L535.59 131.24 L535.03 129.12 L534.45 127 L533.86 124.88 L533.24 122.77 L532.61 120.65 L531.96 118.53 L531.3 116.41 L530.61 114.29 L529.91 112.17 L529.19 110.06 L528.44 107.94 L527.69 105.82 L526.91 103.7 L526.11 101.58 L525.29 99.46 L524.45 97.35 L523.6 95.23 L522.72 93.11 L521.82 90.99 L520.9 88.87 L519.96 86.75 L519 84.64 L518.02 82.52 L517.02 80.4 L515.99 78.28 L514.95 76.16 L513.88 74.04 L512.79 71.93 L511.67 69.81 L510.54 67.69 L509.38 65.57 L508.19 63.45 L506.99 61.33"/>
<path d="M556.93 207.5 L556.92 204.88 L556.89 202.25 L556.85 199.63 L556.78 197.01 L556.7 194.39 L556.6 191.76 L556.48 189.14 L556.34 186.52 L556.18 183.9 L556 181.27 L555.8 178.65 L555.59 176.03 L555.35 173.4 L555.1 170.78 L554.83 168.16 L554.53 165.54 L554.22 162.91 L553.89 160.29 L553.54 157.67 L553.16 155.05 L552.77 152.42 L552.36 149.8 L551.92 147.18 L551.47 144.56 L550.99 141.93 L550.5 139.31 L549.98 136.69 L549.44 134.06 L548.88 131.44 L548.29 128.82 L547.69 126.2 L547.06 123.57 L546.4 120.95 L545.73 118.33 L545.03 115.71 L544.31 113.08 L543.56 110.46 L542.79 107.84 L541.99 105.21 L541.17 102.59 L540.32 99.97 L539.45 97.35 L538.55 94.72 L537.62 92.1 L536.67 89.48 L535.69 86.86 L534.68 84.23 L533.65 81.61 L532.58 78.99 L531.49 76.36 L530.37 73.74 L529.22 71.12 L528.03 68.5 L526.82 65.87 L525.58 63.25 L524.3 60.63 L522.99 58.01 L521.65 55.38 L520.28 52.76 L518.87 50.14 L517.43 47.51 L515.95 44.89 L514.44 42.27 L512.89 39.65 L511.31 37.02 L509.69 34.4 L508.03 31.78 L506.33 29.16 L504.6 26.53"/>
</g>
<g stroke-dasharray="1 1.2" stroke-width="0.95">
<path d="M585.6 207.5 L585.59 204.17 L585.56 200.83 L585.51 197.5 L585.44 194.17 L585.35 190.83 L585.23 187.5 L585.1 184.17 L584.95 180.83 L584.77 177.5 L584.58 174.17 L584.37 170.83 L584.13 167.5 L583.87 164.17 L583.6 160.83 L583.3 157.5 L582.98 154.17 L582.64 150.83 L582.28 147.5 L581.9 144.17 L581.51 140.83 L581.09 137.5 L580.66 134.17 L580.2 130.83 L579.74 127.5 L579.25 124.17 L578.75 120.83 L578.24 117.5 L577.71 114.17 L577.17 110.83 L576.63 107.5 L576.07 104.17 L575.51 100.83 L574.94 97.5 L574.36 94.17 L573.79 90.83 L573.21 87.5 L572.64 84.17 L572.07 80.83 L571.51 77.5 L570.96 74.17 L570.41 70.83 L569.88 67.5 L569.36 64.17 L568.86 60.83 L568.38 57.5 L567.92 54.17 L567.48 50.83 L567.06 47.5 L566.67 44.17 L566.31 40.83 L565.97 37.5 L565.67 34.17 L565.4 30.83 L565.17 27.5 L564.97 24.17 L564.8 20.83 L564.67 17.5 L564.58 14.17 L564.52 10.83 L564.5 7.5"/>
<path d="M588.6 207.5 L588.59 204.17 L588.56 200.83 L588.52 197.5 L588.46 194.17 L588.37 190.83 L588.27 187.5 L588.16 184.17 L588.02 180.83 L587.86 177.5 L587.69 174.17 L587.5 170.83 L587.29 167.5 L587.06 164.17 L586.81 160.83 L586.55 157.5 L586.27 154.17 L585.96 150.83 L585.64 147.5 L585.31 144.17 L584.95 140.83 L584.58 137.5 L584.19 134.17 L583.79 130.83 L583.37 127.5 L582.94 124.17 L582.5 120.83 L582.04 117.5 L581.57 114.17 L581.09 110.83 L580.6 107.5 L580.11 104.17 L579.61 100.83 L579.1 97.5 L578.59 94.17 L578.08 90.83 L577.56 87.5 L577.05 84.17 L576.55 80.83 L576.05 77.5 L575.55 74.17 L575.07 70.83 L574.59 67.5 L574.13 64.17 L573.69 60.83 L573.26 57.5 L572.84 54.17 L572.45 50.83 L572.08 47.5 L571.73 44.17 L571.41 40.83 L571.11 37.5 L570.84 34.17 L570.6 30.83 L570.39 27.5 L570.21 24.17 L570.07 20.83 L569.95 17.5 L569.87 14.17 L569.82 10.83 L569.8 7.5"/>
<path d="M591.8 207.5 L591.79 204.17 L591.77 200.83 L591.73 197.5 L591.67 194.17 L591.6 190.83 L591.52 187.5 L591.41 184.17 L591.29 180.83 L591.16 177.5 L591.01 174.17 L590.84 170.83 L590.66 167.5 L590.46 164.17 L590.24 160.83 L590.01 157.5 L589.76 154.17 L589.5 150.83 L589.22 147.5 L588.93 144.17 L588.62 140.83 L588.29 137.5 L587.96 134.17 L587.61 130.83 L587.24 127.5 L586.86 124.17 L586.48 120.83 L586.08 117.5 L585.67 114.17 L585.25 110.83 L584.82 107.5 L584.39 104.17 L583.95 100.83 L583.51 97.5 L583.07 94.17 L582.62 90.83 L582.17 87.5 L581.73 84.17 L581.29 80.83 L580.85 77.5 L580.42 74.17 L580 70.83 L579.58 67.5 L579.18 64.17 L578.79 60.83 L578.41 57.5 L578.05 54.17 L577.71 50.83 L577.39 47.5 L577.09 44.17 L576.8 40.83 L576.55 37.5 L576.31 34.17 L576.1 30.83 L575.92 27.5 L575.76 24.17 L575.63 20.83 L575.53 17.5 L575.46 14.17 L575.41 10.83 L575.4 7.5"/>
<path d="M595.5 207.5 L595.49 204.17 L595.47 200.83 L595.44 197.5 L595.39 194.17 L595.32 190.83 L595.25 187.5 L595.15 184.17 L595.05 180.83 L594.93 177.5 L594.79 174.17 L594.64 170.83 L594.48 167.5 L594.3 164.17 L594.1 160.83 L593.9 157.5 L593.67 154.17 L593.44 150.83 L593.19 147.5 L592.93 144.17 L592.65 140.83 L592.36 137.5 L592.06 134.17 L591.74 130.83 L591.41 127.5 L591.08 124.17 L590.73 120.83 L590.37 117.5 L590 114.17 L589.63 110.83 L589.25 107.5 L588.86 104.17 L588.47 100.83 L588.07 97.5 L587.67 94.17 L587.27 90.83 L586.87 87.5 L586.47 84.17 L586.08 80.83 L585.68 77.5 L585.3 74.17 L584.92 70.83 L584.55 67.5 L584.19 64.17 L583.84 60.83 L583.5 57.5 L583.18 54.17 L582.87 50.83 L582.58 47.5 L582.31 44.17 L582.06 40.83 L581.83 37.5 L581.62 34.17 L581.43 30.83 L581.26 27.5 L581.12 24.17 L581.01 20.83 L580.92 17.5 L580.85 14.17 L580.81 10.83 L580.8 7.5"/>
<path d="M599.8 207.5 L599.79 204.17 L599.77 200.83 L599.74 197.5 L599.7 194.17 L599.64 190.83 L599.57 187.5 L599.49 184.17 L599.39 180.83 L599.28 177.5 L599.16 174.17 L599.02 170.83 L598.87 167.5 L598.71 164.17 L598.54 160.83 L598.35 157.5 L598.15 154.17 L597.93 150.83 L597.71 147.5 L597.47 144.17 L597.22 140.83 L596.96 137.5 L596.68 134.17 L596.4 130.83 L596.1 127.5 L595.8 124.17 L595.48 120.83 L595.16 117.5 L594.83 114.17 L594.49 110.83 L594.14 107.5 L593.79 104.17 L593.44 100.83 L593.08 97.5 L592.72 94.17 L592.36 90.83 L591.99 87.5 L591.63 84.17 L591.27 80.83 L590.92 77.5 L590.57 74.17 L590.23 70.83 L589.89 67.5 L589.56 64.17 L589.25 60.83 L588.94 57.5 L588.65 54.17 L588.38 50.83 L588.11 47.5 L587.87 44.17 L587.64 40.83 L587.43 37.5 L587.24 34.17 L587.07 30.83 L586.92 27.5 L586.79 24.17 L586.69 20.83 L586.61 17.5 L586.55 14.17 L586.51 10.83 L586.5 7.5"/>
<path d="M604.7 207.5 L604.69 204.17 L604.68 200.83 L604.65 197.5 L604.61 194.17 L604.56 190.83 L604.49 187.5 L604.42 184.17 L604.33 180.83 L604.23 177.5 L604.12 174.17 L604 170.83 L603.87 167.5 L603.73 164.17 L603.57 160.83 L603.4 157.5 L603.22 154.17 L603.03 150.83 L602.83 147.5 L602.62 144.17 L602.39 140.83 L602.16 137.5 L601.91 134.17 L601.66 130.83 L601.39 127.5 L601.12 124.17 L600.84 120.83 L600.55 117.5 L600.25 114.17 L599.95 110.83 L599.64 107.5 L599.32 104.17 L599.01 100.83 L598.69 97.5 L598.36 94.17 L598.04 90.83 L597.72 87.5 L597.39 84.17 L597.07 80.83 L596.75 77.5 L596.44 74.17 L596.13 70.83 L595.83 67.5 L595.54 64.17 L595.26 60.83 L594.99 57.5 L594.73 54.17 L594.48 50.83 L594.24 47.5 L594.02 44.17 L593.82 40.83 L593.63 37.5 L593.46 34.17 L593.31 30.83 L593.18 27.5 L593.06 24.17 L592.97 20.83 L592.89 17.5 L592.84 14.17 L592.81 10.83 L592.8 7.5"/>
<path d="M610 207.5 L609.99 204.17 L609.98 200.83 L609.95 197.5 L609.92 194.17 L609.87 190.83 L609.81 187.5 L609.74 184.17 L609.66 180.83 L609.57 177.5 L609.47 174.17 L609.36 170.83 L609.24 167.5 L609.11 164.17 L608.96 160.83 L608.81 157.5 L608.65 154.17 L608.47 150.83 L608.29 147.5 L608.09 144.17 L607.89 140.83 L607.67 137.5 L607.45 134.17 L607.21 130.83 L606.97 127.5 L606.72 124.17 L606.46 120.83 L606.2 117.5 L605.92 114.17 L605.65 110.83 L605.36 107.5 L605.08 104.17 L604.79 100.83 L604.49 97.5 L604.2 94.17 L603.9 90.83 L603.6 87.5 L603.31 84.17 L603.01 80.83 L602.72 77.5 L602.44 74.17 L602.15 70.83 L601.88 67.5 L601.61 64.17 L601.35 60.83 L601.1 57.5 L600.86 54.17 L600.64 50.83 L600.42 47.5 L600.22 44.17 L600.03 40.83 L599.86 37.5 L599.71 34.17 L599.57 30.83 L599.44 27.5 L599.34 24.17 L599.25 20.83 L599.19 17.5 L599.14 14.17 L599.11 10.83 L599.1 7.5"/>
<path d="M616 207.5 L616 204.17 L615.98 200.83 L615.96 197.5 L615.92 194.17 L615.88 190.83 L615.82 187.5 L615.76 184.17 L615.69 180.83 L615.6 177.5 L615.51 174.17 L615.4 170.83 L615.29 167.5 L615.17 164.17 L615.03 160.83 L614.89 157.5 L614.73 154.17 L614.57 150.83 L614.4 147.5 L614.21 144.17 L614.02 140.83 L613.82 137.5 L613.61 134.17 L613.39 130.83 L613.16 127.5 L612.93 124.17 L612.69 120.83 L612.44 117.5 L612.19 114.17 L611.93 110.83 L611.66 107.5 L611.39 104.17 L611.12 100.83 L610.85 97.5 L610.57 94.17 L610.29 90.83 L610.01 87.5 L609.74 84.17 L609.46 80.83 L609.19 77.5 L608.92 74.17 L608.66 70.83 L608.4 67.5 L608.15 64.17 L607.91 60.83 L607.67 57.5 L607.45 54.17 L607.24 50.83 L607.04 47.5 L606.85 44.17 L606.67 40.83 L606.51 37.5 L606.37 34.17 L606.24 30.83 L606.12 27.5 L606.02 24.17 L605.94 20.83 L605.88 17.5 L605.84 14.17 L605.81 10.83 L605.8 7.5"/>
<path d="M622.5 207.5 L622.5 204.17 L622.48 200.83 L622.46 197.5 L622.42 194.17 L622.38 190.83 L622.33 187.5 L622.27 184.17 L622.2 180.83 L622.12 177.5 L622.03 174.17 L621.93 170.83 L621.82 167.5 L621.7 164.17 L621.57 160.83 L621.43 157.5 L621.28 154.17 L621.13 150.83 L620.96 147.5 L620.78 144.17 L620.6 140.83 L620.41 137.5 L620.2 134.17 L619.99 130.83 L619.78 127.5 L619.55 124.17 L619.32 120.83 L619.08 117.5 L618.84 114.17 L618.59 110.83 L618.33 107.5 L618.07 104.17 L617.81 100.83 L617.55 97.5 L617.28 94.17 L617.01 90.83 L616.75 87.5 L616.48 84.17 L616.22 80.83 L615.96 77.5 L615.7 74.17 L615.45 70.83 L615.2 67.5 L614.96 64.17 L614.73 60.83 L614.5 57.5 L614.29 54.17 L614.08 50.83 L613.89 47.5 L613.71 44.17 L613.54 40.83 L613.38 37.5 L613.24 34.17 L613.12 30.83 L613.01 27.5 L612.92 24.17 L612.84 20.83 L612.78 17.5 L612.73 14.17 L612.71 10.83 L612.7 7.5"/>
<path d="M630 207.5 L630 204.17 L629.98 200.83 L629.96 197.5 L629.93 194.17 L629.88 190.83 L629.83 187.5 L629.77 184.17 L629.7 180.83 L629.62 177.5 L629.53 174.17 L629.43 170.83 L629.32 167.5 L629.21 164.17 L629.08 160.83 L628.94 157.5 L628.8 154.17 L628.64 150.83 L628.47 147.5 L628.3 144.17 L628.12 140.83 L627.93 137.5 L627.73 134.17 L627.52 130.83 L627.3 127.5 L627.08 124.17 L626.85 120.83 L626.62 117.5 L626.37 114.17 L626.13 110.83 L625.87 107.5 L625.62 104.17 L625.36 100.83 L625.1 97.5 L624.83 94.17 L624.57 90.83 L624.31 87.5 L624.04 84.17 L623.78 80.83 L623.52 77.5 L623.27 74.17 L623.02 70.83 L622.77 67.5 L622.54 64.17 L622.3 60.83 L622.08 57.5 L621.87 54.17 L621.67 50.83 L621.48 47.5 L621.3 44.17 L621.13 40.83 L620.98 37.5 L620.84 34.17 L620.72 30.83 L620.61 27.5 L620.51 24.17 L620.44 20.83 L620.38 17.5 L620.33 14.17 L620.31 10.83 L620.3 7.5"/>
<path d="M638.2 207.5 L638.2 204.17 L638.18 200.83 L638.16 197.5 L638.13 194.17 L638.08 190.83 L638.03 187.5 L637.97 184.17 L637.9 180.83 L637.82 177.5 L637.74 174.17 L637.64 170.83 L637.53 167.5 L637.41 164.17 L637.29 160.83 L637.15 157.5 L637.01 154.17 L636.85 150.83 L636.69 147.5 L636.52 144.17 L636.34 140.83 L636.15 137.5 L635.95 134.17 L635.74 130.83 L635.53 127.5 L635.31 124.17 L635.08 120.83 L634.85 117.5 L634.61 114.17 L634.37 110.83 L634.12 107.5 L633.86 104.17 L633.61 100.83 L633.35 97.5 L633.09 94.17 L632.83 90.83 L632.57 87.5 L632.3 84.17 L632.05 80.83 L631.79 77.5 L631.54 74.17 L631.29 70.83 L631.05 67.5 L630.81 64.17 L630.58 60.83 L630.36 57.5 L630.15 54.17 L629.95 50.83 L629.76 47.5 L629.59 44.17 L629.42 40.83 L629.27 37.5 L629.13 34.17 L629.01 30.83 L628.9 27.5 L628.81 24.17 L628.74 20.83 L628.68 17.5 L628.63 14.17 L628.61 10.83 L628.6 7.5"/>
<path d="M647.1 207.5 L647.1 204.17 L647.08 200.83 L647.06 197.5 L647.03 194.17 L646.99 190.83 L646.94 187.5 L646.88 184.17 L646.81 180.83 L646.73 177.5 L646.65 174.17 L646.55 170.83 L646.44 167.5 L646.33 164.17 L646.21 160.83 L646.07 157.5 L645.93 154.17 L645.78 150.83 L645.62 147.5 L645.45 144.17 L645.28 140.83 L645.09 137.5 L644.9 134.17 L644.7 130.83 L644.49 127.5 L644.27 124.17 L644.05 120.83 L643.82 117.5 L643.59 114.17 L643.35 110.83 L643.1 107.5 L642.85 104.17 L642.6 100.83 L642.35 97.5 L642.09 94.17 L641.84 90.83 L641.58 87.5 L641.33 84.17 L641.07 80.83 L640.82 77.5 L640.58 74.17 L640.33 70.83 L640.1 67.5 L639.87 64.17 L639.64 60.83 L639.43 57.5 L639.22 54.17 L639.03 50.83 L638.84 47.5 L638.67 44.17 L638.51 40.83 L638.36 37.5 L638.22 34.17 L638.1 30.83 L638 27.5 L637.91 24.17 L637.83 20.83 L637.78 17.5 L637.73 14.17 L637.71 10.83 L637.7 7.5"/>
<path d="M657.3 207.5 L657.3 204.17 L657.28 200.83 L657.26 197.5 L657.22 194.17 L657.18 190.83 L657.13 187.5 L657.06 184.17 L656.99 180.83 L656.91 177.5 L656.82 174.17 L656.71 170.83 L656.6 167.5 L656.48 164.17 L656.35 160.83 L656.21 157.5 L656.06 154.17 L655.9 150.83 L655.73 147.5 L655.55 144.17 L655.36 140.83 L655.16 137.5 L654.96 134.17 L654.74 130.83 L654.52 127.5 L654.29 124.17 L654.05 120.83 L653.81 117.5 L653.56 114.17 L653.31 110.83 L653.05 107.5 L652.78 104.17 L652.52 100.83 L652.25 97.5 L651.97 94.17 L651.7 90.83 L651.43 87.5 L651.16 84.17 L650.89 80.83 L650.62 77.5 L650.36 74.17 L650.1 70.83 L649.85 67.5 L649.6 64.17 L649.37 60.83 L649.14 57.5 L648.92 54.17 L648.71 50.83 L648.51 47.5 L648.33 44.17 L648.16 40.83 L648 37.5 L647.86 34.17 L647.73 30.83 L647.62 27.5 L647.52 24.17 L647.44 20.83 L647.38 17.5 L647.34 14.17 L647.31 10.83 L647.3 7.5"/>
<path d="M669.5 207.5 L669.49 204.17 L669.48 200.83 L669.45 197.5 L669.42 194.17 L669.37 190.83 L669.31 187.5 L669.24 184.17 L669.16 180.83 L669.07 177.5 L668.97 174.17 L668.86 170.83 L668.73 167.5 L668.6 164.17 L668.46 160.83 L668.3 157.5 L668.13 154.17 L667.96 150.83 L667.77 147.5 L667.57 144.17 L667.37 140.83 L667.15 137.5 L666.92 134.17 L666.69 130.83 L666.44 127.5 L666.19 124.17 L665.93 120.83 L665.66 117.5 L665.39 114.17 L665.11 110.83 L664.82 107.5 L664.53 104.17 L664.24 100.83 L663.94 97.5 L663.64 94.17 L663.34 90.83 L663.04 87.5 L662.74 84.17 L662.45 80.83 L662.16 77.5 L661.87 74.17 L661.58 70.83 L661.3 67.5 L661.03 64.17 L660.77 60.83 L660.52 57.5 L660.28 54.17 L660.05 50.83 L659.83 47.5 L659.63 44.17 L659.44 40.83 L659.27 37.5 L659.11 34.17 L658.97 30.83 L658.85 27.5 L658.74 24.17 L658.66 20.83 L658.59 17.5 L658.54 14.17 L658.51 10.83 L658.5 7.5"/>
<path d="M683.1 207.5 L683.09 204.17 L683.08 200.83 L683.05 197.5 L683.01 194.17 L682.96 190.83 L682.9 187.5 L682.83 184.17 L682.75 180.83 L682.65 177.5 L682.55 174.17 L682.43 170.83 L682.31 167.5 L682.17 164.17 L682.02 160.83 L681.86 157.5 L681.68 154.17 L681.5 150.83 L681.31 147.5 L681.1 144.17 L680.89 140.83 L680.66 137.5 L680.43 134.17 L680.18 130.83 L679.93 127.5 L679.67 124.17 L679.4 120.83 L679.12 117.5 L678.84 114.17 L678.55 110.83 L678.25 107.5 L677.95 104.17 L677.65 100.83 L677.34 97.5 L677.03 94.17 L676.72 90.83 L676.41 87.5 L676.1 84.17 L675.79 80.83 L675.49 77.5 L675.19 74.17 L674.89 70.83 L674.61 67.5 L674.33 64.17 L674.06 60.83 L673.8 57.5 L673.55 54.17 L673.31 50.83 L673.08 47.5 L672.87 44.17 L672.68 40.83 L672.5 37.5 L672.33 34.17 L672.19 30.83 L672.06 27.5 L671.95 24.17 L671.86 20.83 L671.79 17.5 L671.74 14.17 L671.71 10.83 L671.7 7.5"/>
<path d="M700 207.5 L699.99 204.17 L699.98 200.83 L699.95 197.5 L699.91 194.17 L699.86 190.83 L699.8 187.5 L699.72 184.17 L699.64 180.83 L699.54 177.5 L699.43 174.17 L699.31 170.83 L699.18 167.5 L699.03 164.17 L698.88 160.83 L698.71 157.5 L698.53 154.17 L698.35 150.83 L698.14 147.5 L697.93 144.17 L697.71 140.83 L697.48 137.5 L697.24 134.17 L696.98 130.83 L696.72 127.5 L696.45 124.17 L696.17 120.83 L695.88 117.5 L695.59 114.17 L695.29 110.83 L694.98 107.5 L694.67 104.17 L694.35 100.83 L694.04 97.5 L693.72 94.17 L693.4 90.83 L693.07 87.5 L692.75 84.17 L692.44 80.83 L692.12 77.5 L691.81 74.17 L691.51 70.83 L691.21 67.5 L690.92 64.17 L690.64 60.83 L690.37 57.5 L690.11 54.17 L689.86 50.83 L689.63 47.5 L689.41 44.17 L689.21 40.83 L689.02 37.5 L688.86 34.17 L688.71 30.83 L688.57 27.5 L688.46 24.17 L688.37 20.83 L688.29 17.5 L688.24 14.17 L688.21 10.83 L688.2 7.5"/>
<path d="M722.3 207.5 L722.29 204.17 L722.28 200.83 L722.25 197.5 L722.21 194.17 L722.15 190.83 L722.09 187.5 L722.01 184.17 L721.92 180.83 L721.82 177.5 L721.71 174.17 L721.58 170.83 L721.44 167.5 L721.29 164.17 L721.13 160.83 L720.96 157.5 L720.77 154.17 L720.57 150.83 L720.37 147.5 L720.15 144.17 L719.91 140.83 L719.67 137.5 L719.42 134.17 L719.15 130.83 L718.88 127.5 L718.6 124.17 L718.31 120.83 L718.01 117.5 L717.7 114.17 L717.39 110.83 L717.07 107.5 L716.74 104.17 L716.42 100.83 L716.08 97.5 L715.75 94.17 L715.42 90.83 L715.08 87.5 L714.75 84.17 L714.42 80.83 L714.09 77.5 L713.76 74.17 L713.45 70.83 L713.14 67.5 L712.83 64.17 L712.54 60.83 L712.26 57.5 L711.99 54.17 L711.73 50.83 L711.49 47.5 L711.26 44.17 L711.05 40.83 L710.86 37.5 L710.68 34.17 L710.53 30.83 L710.39 27.5 L710.27 24.17 L710.17 20.83 L710.1 17.5 L710.04 14.17 L710.01 10.83 L710 7.5"/>
</g></g>
<g fill="none" stroke="#fb3b14" stroke-width="1.05">
<clipPath id="ci0"><rect x="152.5" y="287.5" width="108.7" height="120"/></clipPath>
<path clip-path="url(#cb0)" d="M81.06 217.01 L81.23 218.33 L81.4 219.63 L81.56 220.91 L81.73 222.17 L81.89 223.41 L82.06 224.64 L82.23 225.84 L82.39 227.03 L82.56 228.2 L82.72 229.36 L82.89 230.49 L83.06 231.61 L83.22 232.71 L83.39 233.79 L83.55 234.85 L83.72 235.9 L83.89 236.93 L84.05 237.94 L84.22 238.93 L84.38 239.91 L84.55 240.87 L84.72 241.81 L84.88 242.74 L85.05 243.64 L85.21 244.54 L85.38 245.41 L85.54 246.27 L85.71 247.11 L85.88 247.94 L86.04 248.75 L86.21 249.54 L86.37 250.32 L86.54 251.08 L86.71 251.82 L86.87 252.55 L87.04 253.27 L87.2 253.97 L87.37 254.65 L87.54 255.32 L87.7 255.98 L87.87 256.62 L88.03 257.25 L88.2 257.86 L88.37 258.46 L88.53 259.04 L88.7 259.61 L88.86 260.17 L89.03 260.71 L89.2 261.25 L89.36 261.76 L89.53 262.27 L89.69 262.76 L89.86 263.24 L90.03 263.71 L90.19 264.17 L90.36 264.61 L90.52 265.04 L90.69 265.46 L90.86 265.87 L91.02 266.27 L91.19 266.66 L91.35 267.04 L91.52 267.4 L91.69 267.76 L91.85 268.1 L92.02 268.44 L92.18 268.77 L92.35 269.08 L92.52 269.39 L92.68 269.69 L92.85 269.98 L93.01 270.26 L93.18 270.53 L93.34 270.79 L93.51 271.04 L93.68 271.29 L93.84 271.53 L94.01 271.76 L94.17 271.98 L94.34 272.2 L94.51 272.4 L94.67 272.61 L94.84 272.8 L95 272.99 L95.17 273.17 L95.34 273.34 L95.5 273.51 L95.67 273.67 L95.83 273.83 L96 273.98 L96.17 274.12 L96.33 274.26 L96.5 274.39 L96.66 274.52 L96.83 274.64 L97 274.76 L97.16 274.87 L97.33 274.98 L97.49 275.09 L97.66 275.19 L97.83 275.28 L97.99 275.37 L98.16 275.46 L98.32 275.54 L98.49 275.62 L98.66 275.69 L98.82 275.77 L98.99 275.83 L99.15 275.9 L99.32 275.96 L99.49 276.02 L99.65 276.07 L99.82 276.12 L99.98 276.17 L100.15 276.22 L100.32 276.26 L100.48 276.3 L100.65 276.34 L100.81 276.37 L100.98 276.4 L101.14 276.43 L101.31 276.46 L101.48 276.48 L101.64 276.5 L101.81 276.52 L101.97 276.54 L102.14 276.55 L102.31 276.57 L102.47 276.58 L102.64 276.59 L102.8 276.59 L102.97 276.6 L103.14 276.6 L103.3 276.6 L103.47 276.6 L103.63 276.6 L103.8 276.59 L103.97 276.58 L104.13 276.57 L104.3 276.56 L104.46 276.55 L104.63 276.54 L104.8 276.52 L104.96 276.5 L105.13 276.48 L105.29 276.46 L105.46 276.44 L105.63 276.41 L105.79 276.39 L105.96 276.36 L106.12 276.33 L106.29 276.3 L106.46 276.26 L106.62 276.23 L106.79 276.19 L106.95 276.16 L107.12 276.12 L107.29 276.08 L107.45 276.03 L107.62 275.99 L107.78 275.94 L107.95 275.9 L108.11 275.85 L108.28 275.8 L108.45 275.75 L108.61 275.69 L108.78 275.64 L108.94 275.58 L109.11 275.52 L109.28 275.47 L109.44 275.41 L109.61 275.34 L109.77 275.28 L109.94 275.22 L110.11 275.15 L110.27 275.08 L110.44 275.01 L110.6 274.94 L110.77 274.87 L110.94 274.8 L111.1 274.73 L111.27 274.65 L111.43 274.57 L111.6 274.5 L112.39 274.11 L113.17 273.71 L113.96 273.27 L114.74 272.82 L115.53 272.35 L116.31 271.87 L117.1 271.37 L117.88 270.86 L118.67 270.34 L119.45 269.82 L120.24 269.29 L121.03 268.77 L121.81 268.24 L122.6 267.72 L123.38 267.21 L124.17 266.71 L124.95 266.21 L125.74 265.73 L126.52 265.26 L127.31 264.8 L128.09 264.35 L128.88 263.92 L129.66 263.49 L130.45 263.08 L131.24 262.68 L132.02 262.29 L132.81 261.9 L133.59 261.53 L134.38 261.16 L135.16 260.79 L135.95 260.44 L136.73 260.08 L137.52 259.73 L138.3 259.38 L139.09 259.04 L139.88 258.7 L140.66 258.36 L141.45 258.03 L142.23 257.69 L143.02 257.36 L143.8 257.04 L144.59 256.71 L145.37 256.39 L146.16 256.08 L146.94 255.76 L147.73 255.45 L148.52 255.15 L149.3 254.84 L150.09 254.55 L150.87 254.25 L151.66 253.96 L152.44 253.68 L153.23 253.4 L154.01 253.13 L154.8 252.86 L155.58 252.6 L156.37 252.35 L157.15 252.1 L157.94 251.86 L158.73 251.62 L159.51 251.39 L160.3 251.17 L161.08 250.95 L161.87 250.74 L162.65 250.54 L163.44 250.34 L164.22 250.15 L165.01 249.97 L165.79 249.79 L166.58 249.62 L167.37 249.46 L168.15 249.3 L168.94 249.15 L169.72 249 L170.51 248.86 L171.29 248.72 L172.08 248.59 L172.86 248.46 L173.65 248.33 L174.43 248.21 L175.22 248.09 L176.01 247.98 L176.79 247.86 L177.58 247.75 L178.36 247.64 L179.15 247.53 L179.93 247.43 L180.72 247.33 L181.5 247.23 L182.29 247.13 L183.07 247.03 L183.86 246.93 L184.64 246.84 L185.43 246.74 L186.22 246.65 L187 246.56 L187.79 246.47 L188.57 246.38 L189.36 246.3 L190.14 246.21 L190.93 246.13 L191.71 246.04 L192.5 245.96 L193.28 245.88 L194.07 245.8 L194.86 245.72 L195.64 245.64 L196.43 245.57 L197.21 245.49 L198 245.42 L198.78 245.35 L199.57 245.28 L200.35 245.21 L201.14 245.14 L201.92 245.08 L202.71 245.01 L203.49 244.95 L204.28 244.89 L205.07 244.83 L205.85 244.77 L206.64 244.72 L207.42 244.66 L208.21 244.61 L208.99 244.56 L209.78 244.51 L210.56 244.46 L211.35 244.41 L212.13 244.36 L212.92 244.32 L213.71 244.27 L214.49 244.23 L215.28 244.19 L216.06 244.15 L216.85 244.11 L217.63 244.07 L218.42 244.03 L219.2 243.99 L219.99 243.96 L220.77 243.92 L221.56 243.89 L222.35 243.86 L223.13 243.82 L223.92 243.79 L224.7 243.76 L225.49 243.73 L226.27 243.7 L227.06 243.67 L227.84 243.65 L228.63 243.62 L229.41 243.59 L230.2 243.57 L230.98 243.54 L231.77 243.52 L232.56 243.49 L233.34 243.47 L234.13 243.44 L234.91 243.42 L235.7 243.4 L236.48 243.38 L237.27 243.36 L238.05 243.33 L238.84 243.31 L239.62 243.29 L240.41 243.27 L241.2 243.25 L241.98 243.24 L242.77 243.22 L243.55 243.2 L244.34 243.18 L245.12 243.16 L245.91 243.15 L246.69 243.13 L247.48 243.11 L248.26 243.1 L249.05 243.08 L249.84 243.06 L250.62 243.05 L251.41 243.03 L252.19 243.02 L252.98 243 L253.76 242.99 L254.55 242.97 L255.33 242.96 L256.12 242.94 L256.9 242.93 L257.69 242.92 L258.47 242.9 L259.26 242.89 L260.05 242.88 L260.83 242.87 L261.62 242.85 L262.4 242.84 L263.19 242.83 L263.97 242.82 L264.76 242.8 L265.54 242.79 L266.33 242.78 L267.11 242.77 L267.9 242.76" stroke-dasharray="1 1.2"/>
<path clip-path="url(#ci0)" d="M157.3 355.94 L158.41 353.59 L159.52 351.3 L160.63 349.08 L161.75 346.92 L162.86 344.84 L163.97 342.82 L165.08 340.88 L166.19 339.02 L167.3 337.24 L168.41 335.54 L169.52 333.91 L170.64 332.37 L171.75 330.9 L172.86 329.5 L173.97 328.17 L175.08 326.9 L176.19 325.7 L177.3 324.55 L178.41 323.46 L179.53 322.42 L180.64 321.43 L181.75 320.49 L182.86 319.58 L183.97 318.72 L185.08 317.9 L186.19 317.11 L187.3 316.35 L188.42 315.63 L189.53 314.94 L190.64 314.27 L191.75 313.63 L192.86 313.02 L193.97 312.42 L195.08 311.85 L196.19 311.3 L197.31 310.77 L198.42 310.26 L199.53 309.77 L200.64 309.29 L201.75 308.83 L202.86 308.38 L203.97 307.95 L205.08 307.53 L206.2 307.12 L207.31 306.72 L208.42 306.33 L209.53 305.96 L210.64 305.6 L211.75 305.24 L212.86 304.89 L213.97 304.56 L215.09 304.23 L216.2 303.91 L217.31 303.59 L218.42 303.29 L219.53 302.99 L220.64 302.7 L221.75 302.41 L222.86 302.13 L223.98 301.86 L225.09 301.59 L226.2 301.33 L227.31 301.07 L228.42 300.82 L229.53 300.57 L230.64 300.33 L231.76 300.09 L232.87 299.86 L233.98 299.63 L235.09 299.41 L236.2 299.19 L237.31 298.97 L238.42 298.76 L239.53 298.55 L240.65 298.35 L241.76 298.15 L242.87 297.95 L243.98 297.76 L245.09 297.57 L246.2 297.38 L247.31 297.2 L248.42 297.02 L249.54 296.84 L250.65 296.67 L251.76 296.5 L252.87 296.33 L253.98 296.17 L255.09 296.01 L256.2 295.85" stroke-dasharray="1 1.2"/>
<path clip-path="url(#cb0)" d="M76.25 215.62 L76.42 218.4 L76.58 221.18 L76.75 223.97 L76.92 226.74 L77.08 229.51 L77.25 232.26 L77.41 235 L77.58 237.72 L77.75 240.41 L77.91 243.08 L78.08 245.71 L78.24 248.32 L78.41 250.89 L78.57 253.42 L78.74 255.92 L78.91 258.38 L79.07 260.79 L79.24 263.17 L79.4 265.49 L79.57 267.78 L79.74 270.02 L79.9 272.21 L80.07 274.35 L80.23 276.45 L80.4 278.5 L80.57 280.5 L80.73 282.45 L80.9 284.35 L81.06 286.2 L81.23 288.01 L81.4 289.76 L81.56 291.47 L81.73 293.13 L81.89 294.74 L82.06 296.31 L82.23 297.83 L82.39 299.3 L82.56 300.73 L82.72 302.11 L82.89 303.45 L83.06 304.74 L83.22 306 L83.39 307.21 L83.55 308.38 L83.72 309.51 L83.89 310.6 L84.05 311.65 L84.22 312.66 L84.38 313.64 L84.55 314.58 L84.72 315.49 L84.88 316.36 L85.05 317.2 L85.21 318 L85.38 318.78 L85.54 319.52 L85.71 320.23 L85.88 320.92 L86.04 321.57 L86.21 322.2 L86.37 322.81 L86.54 323.38 L86.71 323.93 L86.87 324.46 L87.04 324.96 L87.2 325.44 L87.37 325.9 L87.54 326.34 L87.7 326.76 L87.87 327.15 L88.03 327.53 L88.2 327.89 L88.37 328.23 L88.53 328.55 L88.7 328.85 L88.86 329.14 L89.03 329.41 L89.2 329.67 L89.36 329.91 L89.53 330.13 L89.69 330.34 L89.86 330.54 L90.03 330.72 L90.19 330.89 L90.36 331.05 L90.52 331.2 L90.69 331.33 L90.86 331.45 L91.02 331.56 L91.19 331.66 L91.35 331.75 L91.52 331.82 L91.69 331.89 L91.85 331.94 L92.02 331.99 L92.18 332.03 L92.35 332.05 L92.52 332.07 L92.68 332.08 L92.85 332.08 L93.01 332.07 L93.18 332.05 L93.34 332.02 L93.51 331.99 L93.68 331.94 L93.84 331.89 L94.01 331.83 L94.17 331.76 L94.34 331.69 L94.51 331.61 L94.67 331.52 L94.84 331.42 L95 331.32 L95.17 331.2 L95.34 331.09 L95.5 330.96 L95.67 330.83 L95.83 330.69 L96 330.55 L96.17 330.4 L96.33 330.24 L96.5 330.08 L96.66 329.92 L96.83 329.74 L97 329.56 L97.16 329.38 L97.33 329.19 L97.49 328.99 L97.66 328.79 L97.83 328.59 L97.99 328.38 L98.16 328.16 L98.32 327.94 L98.49 327.72 L98.66 327.49 L98.82 327.25 L98.99 327.02 L99.15 326.77 L99.32 326.53 L99.49 326.28 L99.65 326.03 L99.82 325.77 L99.98 325.51 L100.15 325.24 L100.32 324.98 L100.48 324.7 L100.65 324.43 L100.81 324.15 L100.98 323.87 L101.14 323.59 L101.31 323.3 L101.48 323.01 L101.64 322.72 L101.81 322.43 L101.97 322.13 L102.14 321.83 L102.31 321.53 L102.47 321.23 L102.64 320.92 L102.8 320.62 L102.97 320.31 L103.14 320 L103.3 319.68 L103.47 319.37 L103.63 319.05 L103.8 318.74 L103.97 318.42 L104.13 318.1 L104.3 317.77 L104.46 317.45 L104.63 317.13 L104.8 316.8 L104.96 316.47 L105.13 316.15 L105.29 315.82 L105.46 315.49 L105.63 315.16 L105.79 314.83 L105.96 314.5 L106.12 314.16 L106.29 313.83 L106.46 313.5 L106.62 313.16 L106.79 312.83 L106.95 312.5 L107.12 312.16 L107.29 311.83 L107.45 311.49 L107.62 311.16 L107.78 310.82 L107.95 310.49 L108.11 310.15 L108.28 309.82 L108.45 309.48 L108.61 309.15 L108.78 308.82 L108.94 308.48 L109.11 308.15 L109.28 307.82 L109.44 307.49 L109.61 307.16 L109.77 306.83 L109.94 306.5 L110.11 306.17 L110.27 305.84 L110.44 305.51 L110.6 305.19 L110.77 304.86 L110.94 304.54 L111.1 304.22 L111.27 303.89 L111.43 303.57 L111.6 303.26 L112.39 301.76 L113.17 300.3 L113.96 298.88 L114.74 297.49 L115.53 296.15 L116.31 294.83 L117.1 293.56 L117.88 292.32 L118.67 291.11 L119.45 289.92 L120.24 288.77 L121.03 287.63 L121.81 286.51 L122.6 285.41 L123.38 284.32 L124.17 283.25 L124.95 282.19 L125.74 281.14 L126.52 280.1 L127.31 279.08 L128.09 278.07 L128.88 277.07 L129.66 276.09 L130.45 275.12 L131.24 274.17 L132.02 273.24 L132.81 272.33 L133.59 271.44 L134.38 270.57 L135.16 269.72 L135.95 268.9 L136.73 268.1 L137.52 267.33 L138.3 266.58 L139.09 265.86 L139.88 265.16 L140.66 264.49 L141.45 263.85 L142.23 263.23 L143.02 262.64 L143.8 262.07 L144.59 261.52 L145.37 260.99 L146.16 260.49 L146.94 260 L147.73 259.53 L148.52 259.07 L149.3 258.64 L150.09 258.21 L150.87 257.8 L151.66 257.41 L152.44 257.02 L153.23 256.65 L154.01 256.29 L154.8 255.94 L155.58 255.6 L156.37 255.27 L157.15 254.95 L157.94 254.64 L158.73 254.33 L159.51 254.04 L160.3 253.75 L161.08 253.47 L161.87 253.19 L162.65 252.93 L163.44 252.67 L164.22 252.41 L165.01 252.17 L165.79 251.93 L166.58 251.69 L167.37 251.46 L168.15 251.24 L168.94 251.02 L169.72 250.81 L170.51 250.61 L171.29 250.41 L172.08 250.21 L172.86 250.02 L173.65 249.84 L174.43 249.67 L175.22 249.49 L176.01 249.33 L176.79 249.17 L177.58 249.01 L178.36 248.86 L179.15 248.72 L179.93 248.57 L180.72 248.44 L181.5 248.3 L182.29 248.17 L183.07 248.05 L183.86 247.93 L184.64 247.81 L185.43 247.69 L186.22 247.58 L187 247.47 L187.79 247.36 L188.57 247.25 L189.36 247.14 L190.14 247.04 L190.93 246.94 L191.71 246.84 L192.5 246.74 L193.28 246.64 L194.07 246.54 L194.86 246.45 L195.64 246.35 L196.43 246.26 L197.21 246.17 L198 246.08 L198.78 245.99 L199.57 245.91 L200.35 245.82 L201.14 245.74 L201.92 245.66 L202.71 245.58 L203.49 245.51 L204.28 245.43 L205.07 245.36 L205.85 245.29 L206.64 245.22 L207.42 245.15 L208.21 245.09 L208.99 245.03 L209.78 244.96 L210.56 244.9 L211.35 244.85 L212.13 244.79 L212.92 244.74 L213.71 244.68 L214.49 244.63 L215.28 244.58 L216.06 244.53 L216.85 244.48 L217.63 244.43 L218.42 244.39 L219.2 244.34 L219.99 244.3 L220.77 244.26 L221.56 244.22 L222.35 244.18 L223.13 244.14 L223.92 244.1 L224.7 244.06 L225.49 244.03 L226.27 243.99 L227.06 243.96 L227.84 243.92 L228.63 243.89 L229.41 243.86 L230.2 243.82 L230.98 243.79 L231.77 243.76 L232.56 243.73 L233.34 243.7 L234.13 243.67 L234.91 243.64 L235.7 243.62 L236.48 243.59 L237.27 243.56 L238.05 243.54 L238.84 243.51 L239.62 243.49 L240.41 243.46 L241.2 243.44 L241.98 243.41 L242.77 243.39 L243.55 243.37 L244.34 243.35 L245.12 243.32 L245.91 243.3 L246.69 243.28 L247.48 243.26 L248.26 243.24 L249.05 243.22 L249.84 243.2 L250.62 243.18 L251.41 243.16 L252.19 243.14 L252.98 243.12 L253.76 243.11 L254.55 243.09 L255.33 243.07 L256.12 243.05 L256.9 243.04 L257.69 243.02 L258.47 243 L259.26 242.99 L260.05 242.97 L260.83 242.96 L261.62 242.94 L262.4 242.92 L263.19 242.91 L263.97 242.89 L264.76 242.88 L265.54 242.87 L266.33 242.85 L267.11 242.84 L267.9 242.82" stroke-dasharray="3 1.3" stroke-width="1.15"/>
<path clip-path="url(#ci0)" d="M157.3 368.45 L158.41 365.62 L159.52 362.85 L160.63 360.16 L161.75 357.54 L162.86 354.99 L163.97 352.54 L165.08 350.17 L166.19 347.89 L167.3 345.71 L168.41 343.63 L169.52 341.65 L170.64 339.77 L171.75 337.98 L172.86 336.28 L173.97 334.66 L175.08 333.13 L176.19 331.67 L177.3 330.28 L178.41 328.96 L179.53 327.7 L180.64 326.5 L181.75 325.35 L182.86 324.26 L183.97 323.21 L185.08 322.21 L186.19 321.24 L187.3 320.32 L188.42 319.43 L189.53 318.58 L190.64 317.76 L191.75 316.98 L192.86 316.22 L193.97 315.48 L195.08 314.78 L196.19 314.1 L197.31 313.44 L198.42 312.8 L199.53 312.19 L200.64 311.59 L201.75 311.02 L202.86 310.46 L203.97 309.92 L205.08 309.4 L206.2 308.89 L207.31 308.4 L208.42 307.92 L209.53 307.46 L210.64 307.01 L211.75 306.57 L212.86 306.15 L213.97 305.73 L215.09 305.33 L216.2 304.94 L217.31 304.56 L218.42 304.19 L219.53 303.84 L220.64 303.49 L221.75 303.15 L222.86 302.81 L223.98 302.49 L225.09 302.18 L226.2 301.87 L227.31 301.57 L228.42 301.28 L229.53 301 L230.64 300.73 L231.76 300.46 L232.87 300.2 L233.98 299.94 L235.09 299.69 L236.2 299.45 L237.31 299.21 L238.42 298.98 L239.53 298.75 L240.65 298.53 L241.76 298.32 L242.87 298.11 L243.98 297.91 L245.09 297.71 L246.2 297.51 L247.31 297.32 L248.42 297.14 L249.54 296.96 L250.65 296.78 L251.76 296.61 L252.87 296.44 L253.98 296.27 L255.09 296.11 L256.2 295.96" stroke-dasharray="3 1.3" stroke-width="1.15"/>
<path clip-path="url(#cb0)" d="M78.91 214.42 L79.07 219.14 L79.24 223.78 L79.4 228.33 L79.57 232.8 L79.74 237.2 L79.9 241.52 L80.07 245.76 L80.23 249.93 L80.4 254.02 L80.57 258.05 L80.73 262 L80.9 265.89 L81.06 269.71 L81.23 273.46 L81.4 277.15 L81.56 280.77 L81.73 284.33 L81.89 287.83 L82.06 291.26 L82.23 294.64 L82.39 297.95 L82.56 301.2 L82.72 304.39 L82.89 307.52 L83.06 310.58 L83.22 313.6 L83.39 316.55 L83.55 319.44 L83.72 322.27 L83.89 325.05 L84.05 327.77 L84.22 330.43 L84.38 333.03 L84.55 335.58 L84.72 338.07 L84.88 340.5 L85.05 342.87 L85.21 345.19 L85.38 347.46 L85.54 349.66 L85.71 351.81 L85.88 353.91 L86.04 355.95 L86.21 357.94 L86.37 359.87 L86.54 361.75 L86.71 363.57 L86.87 365.34 L87.04 367.05 L87.2 368.72 L87.37 370.33 L87.54 371.88 L87.7 373.39 L87.87 374.85 L88.03 376.25 L88.2 377.6 L88.37 378.91 L88.53 380.16 L88.7 381.37 L88.86 382.52 L89.03 383.63 L89.2 384.7 L89.36 385.71 L89.53 386.68 L89.69 387.6 L89.86 388.48 L90.03 389.32 L90.19 390.11 L90.36 390.86 L90.52 391.56 L90.69 392.23 L90.86 392.85 L91.02 393.44 L91.19 393.98 L91.35 394.49 L91.52 394.96 L91.69 395.39 L91.85 395.79 L92.02 396.15 L92.18 396.47 L92.35 396.77 L92.52 397.02 L92.68 397.25 L92.85 397.45 L93.01 397.61 L93.18 397.74 L93.34 397.85 L93.51 397.92 L93.68 397.97 L93.84 397.99 L94.01 397.98 L94.17 397.95 L94.34 397.9 L94.51 397.81 L94.67 397.71 L94.84 397.58 L95 397.44 L95.17 397.27 L95.34 397.07 L95.5 396.86 L95.67 396.63 L95.83 396.39 L96 396.12 L96.17 395.84 L96.33 395.54 L96.5 395.22 L96.66 394.89 L96.83 394.54 L97 394.18 L97.16 393.8 L97.33 393.42 L97.49 393.01 L97.66 392.6 L97.83 392.18 L97.99 391.74 L98.16 391.29 L98.32 390.84 L98.49 390.37 L98.66 389.89 L98.82 389.41 L98.99 388.92 L99.15 388.42 L99.32 387.91 L99.49 387.39 L99.65 386.87 L99.82 386.34 L99.98 385.8 L100.15 385.26 L100.32 384.72 L100.48 384.16 L100.65 383.61 L100.81 383.05 L100.98 382.48 L101.14 381.91 L101.31 381.34 L101.48 380.76 L101.64 380.18 L101.81 379.6 L101.97 379.01 L102.14 378.42 L102.31 377.83 L102.47 377.24 L102.64 376.64 L102.8 376.04 L102.97 375.45 L103.14 374.85 L103.3 374.24 L103.47 373.64 L103.63 373.04 L103.8 372.43 L103.97 371.83 L104.13 371.22 L104.3 370.62 L104.46 370.01 L104.63 369.4 L104.8 368.79 L104.96 368.19 L105.13 367.58 L105.29 366.97 L105.46 366.37 L105.63 365.76 L105.79 365.15 L105.96 364.55 L106.12 363.94 L106.29 363.34 L106.46 362.73 L106.62 362.13 L106.79 361.53 L106.95 360.92 L107.12 360.32 L107.29 359.72 L107.45 359.12 L107.62 358.52 L107.78 357.92 L107.95 357.33 L108.11 356.73 L108.28 356.14 L108.45 355.54 L108.61 354.95 L108.78 354.36 L108.94 353.77 L109.11 353.18 L109.28 352.59 L109.44 352 L109.61 351.42 L109.77 350.83 L109.94 350.25 L110.11 349.67 L110.27 349.09 L110.44 348.51 L110.6 347.93 L110.77 347.35 L110.94 346.77 L111.1 346.2 L111.27 345.62 L111.43 345.05 L111.6 344.48 L112.39 341.8 L113.17 339.14 L113.96 336.51 L114.74 333.92 L115.53 331.36 L116.31 328.84 L117.1 326.36 L117.88 323.92 L118.67 321.52 L119.45 319.17 L120.24 316.87 L121.03 314.62 L121.81 312.43 L122.6 310.3 L123.38 308.22 L124.17 306.21 L124.95 304.25 L125.74 302.36 L126.52 300.52 L127.31 298.74 L128.09 297.02 L128.88 295.35 L129.66 293.74 L130.45 292.17 L131.24 290.66 L132.02 289.18 L132.81 287.75 L133.59 286.36 L134.38 285.01 L135.16 283.7 L135.95 282.41 L136.73 281.16 L137.52 279.94 L138.3 278.75 L139.09 277.58 L139.88 276.44 L140.66 275.33 L141.45 274.24 L142.23 273.18 L143.02 272.14 L143.8 271.13 L144.59 270.15 L145.37 269.19 L146.16 268.26 L146.94 267.36 L147.73 266.49 L148.52 265.65 L149.3 264.83 L150.09 264.05 L150.87 263.3 L151.66 262.57 L152.44 261.88 L153.23 261.21 L154.01 260.58 L154.8 259.96 L155.58 259.38 L156.37 258.82 L157.15 258.28 L157.94 257.77 L158.73 257.27 L159.51 256.8 L160.3 256.35 L161.08 255.91 L161.87 255.49 L162.65 255.09 L163.44 254.7 L164.22 254.32 L165.01 253.96 L165.79 253.62 L166.58 253.28 L167.37 252.96 L168.15 252.65 L168.94 252.35 L169.72 252.07 L170.51 251.79 L171.29 251.53 L172.08 251.27 L172.86 251.03 L173.65 250.8 L174.43 250.58 L175.22 250.37 L176.01 250.18 L176.79 249.99 L177.58 249.81 L178.36 249.64 L179.15 249.48 L179.93 249.33 L180.72 249.19 L181.5 249.06 L182.29 248.93 L183.07 248.81 L183.86 248.69 L184.64 248.58 L185.43 248.47 L186.22 248.36 L187 248.26 L187.79 248.16 L188.57 248.05 L189.36 247.95 L190.14 247.86 L190.93 247.76 L191.71 247.66 L192.5 247.56 L193.28 247.46 L194.07 247.36 L194.86 247.26 L195.64 247.16 L196.43 247.06 L197.21 246.96 L198 246.86 L198.78 246.76 L199.57 246.66 L200.35 246.56 L201.14 246.47 L201.92 246.37 L202.71 246.28 L203.49 246.19 L204.28 246.1 L205.07 246.01 L205.85 245.92 L206.64 245.84 L207.42 245.76 L208.21 245.68 L208.99 245.6 L209.78 245.52 L210.56 245.44 L211.35 245.37 L212.13 245.3 L212.92 245.23 L213.71 245.16 L214.49 245.09 L215.28 245.03 L216.06 244.97 L216.85 244.91 L217.63 244.85 L218.42 244.79 L219.2 244.73 L219.99 244.67 L220.77 244.62 L221.56 244.57 L222.35 244.52 L223.13 244.47 L223.92 244.42 L224.7 244.37 L225.49 244.32 L226.27 244.28 L227.06 244.23 L227.84 244.19 L228.63 244.15 L229.41 244.1 L230.2 244.06 L230.98 244.02 L231.77 243.99 L232.56 243.95 L233.34 243.91 L234.13 243.88 L234.91 243.84 L235.7 243.81 L236.48 243.77 L237.27 243.74 L238.05 243.71 L238.84 243.68 L239.62 243.65 L240.41 243.62 L241.2 243.59 L241.98 243.56 L242.77 243.53 L243.55 243.5 L244.34 243.48 L245.12 243.45 L245.91 243.42 L246.69 243.4 L247.48 243.37 L248.26 243.35 L249.05 243.33 L249.84 243.3 L250.62 243.28 L251.41 243.26 L252.19 243.24 L252.98 243.21 L253.76 243.19 L254.55 243.17 L255.33 243.15 L256.12 243.13 L256.9 243.11 L257.69 243.09 L258.47 243.08 L259.26 243.06 L260.05 243.04 L260.83 243.02 L261.62 243 L262.4 242.99 L263.19 242.97 L263.97 242.95 L264.76 242.94 L265.54 242.92 L266.33 242.91 L267.11 242.89 L267.9 242.88"/>
<path clip-path="url(#ci0)" d="M157.3 380.61 L158.41 377.85 L159.52 375.09 L160.63 372.32 L161.75 369.55 L162.86 366.78 L163.97 364.03 L165.08 361.32 L166.19 358.66 L167.3 356.08 L168.41 353.58 L169.52 351.16 L170.64 348.84 L171.75 346.61 L172.86 344.47 L173.97 342.43 L175.08 340.49 L176.19 338.63 L177.3 336.85 L178.41 335.16 L179.53 333.55 L180.64 332 L181.75 330.53 L182.86 329.13 L183.97 327.78 L185.08 326.5 L186.19 325.28 L187.3 324.1 L188.42 322.98 L189.53 321.91 L190.64 320.88 L191.75 319.9 L192.86 318.96 L193.97 318.06 L195.08 317.19 L196.19 316.36 L197.31 315.56 L198.42 314.8 L199.53 314.06 L200.64 313.36 L201.75 312.67 L202.86 312.02 L203.97 311.39 L205.08 310.78 L206.2 310.2 L207.31 309.63 L208.42 309.09 L209.53 308.56 L210.64 308.05 L211.75 307.56 L212.86 307.09 L213.97 306.63 L215.09 306.18 L216.2 305.75 L217.31 305.33 L218.42 304.92 L219.53 304.53 L220.64 304.15 L221.75 303.78 L222.86 303.42 L223.98 303.07 L225.09 302.73 L226.2 302.39 L227.31 302.07 L228.42 301.76 L229.53 301.45 L230.64 301.15 L231.76 300.86 L232.87 300.58 L233.98 300.3 L235.09 300.03 L236.2 299.77 L237.31 299.51 L238.42 299.26 L239.53 299.01 L240.65 298.77 L241.76 298.54 L242.87 298.31 L243.98 298.08 L245.09 297.86 L246.2 297.65 L247.31 297.44 L248.42 297.23 L249.54 297.03 L250.65 296.84 L251.76 296.64 L252.87 296.46 L253.98 296.27 L255.09 296.09 L256.2 295.91"/>
</g>
<g fill="none" stroke="#1563ae" stroke-width="1.05">
<clipPath id="ci1"><rect x="382.5" y="287.5" width="108.7" height="120"/></clipPath>
<path clip-path="url(#cb1)" d="M311.56 216.75 L311.73 218.1 L311.9 219.43 L312.06 220.73 L312.23 222.02 L312.39 223.29 L312.56 224.54 L312.73 225.77 L312.89 226.98 L313.06 228.17 L313.22 229.34 L313.39 230.5 L313.56 231.63 L313.72 232.75 L313.89 233.84 L314.05 234.92 L314.22 235.98 L314.39 237.02 L314.55 238.05 L314.72 239.05 L314.88 240.04 L315.05 241.01 L315.22 241.96 L315.38 242.89 L315.55 243.81 L315.71 244.7 L315.88 245.58 L316.04 246.44 L316.21 247.29 L316.38 248.12 L316.54 248.93 L316.71 249.72 L316.87 250.5 L317.04 251.26 L317.21 252.01 L317.37 252.74 L317.54 253.45 L317.7 254.14 L317.87 254.82 L318.04 255.49 L318.2 256.14 L318.37 256.77 L318.53 257.39 L318.7 258 L318.87 258.58 L319.03 259.16 L319.2 259.72 L319.36 260.27 L319.53 260.8 L319.7 261.32 L319.86 261.82 L320.03 262.31 L320.19 262.79 L320.36 263.25 L320.53 263.71 L320.69 264.15 L320.86 264.57 L321.02 264.99 L321.19 265.39 L321.36 265.78 L321.52 266.16 L321.69 266.53 L321.85 266.89 L322.02 267.24 L322.19 267.57 L322.35 267.9 L322.52 268.21 L322.68 268.52 L322.85 268.81 L323.02 269.1 L323.18 269.38 L323.35 269.64 L323.51 269.9 L323.68 270.15 L323.84 270.39 L324.01 270.63 L324.18 270.85 L324.34 271.07 L324.51 271.28 L324.67 271.48 L324.84 271.67 L325.01 271.86 L325.17 272.04 L325.34 272.22 L325.5 272.38 L325.67 272.54 L325.84 272.7 L326 272.85 L326.17 272.99 L326.33 273.13 L326.5 273.26 L326.67 273.39 L326.83 273.51 L327 273.62 L327.16 273.73 L327.33 273.84 L327.5 273.94 L327.66 274.04 L327.83 274.13 L327.99 274.22 L328.16 274.31 L328.33 274.39 L328.49 274.47 L328.66 274.54 L328.82 274.61 L328.99 274.68 L329.16 274.74 L329.32 274.8 L329.49 274.86 L329.65 274.91 L329.82 274.96 L329.99 275.01 L330.15 275.05 L330.32 275.1 L330.48 275.14 L330.65 275.17 L330.82 275.21 L330.98 275.24 L331.15 275.27 L331.31 275.3 L331.48 275.33 L331.64 275.35 L331.81 275.37 L331.98 275.39 L332.14 275.41 L332.31 275.43 L332.47 275.44 L332.64 275.45 L332.81 275.46 L332.97 275.47 L333.14 275.48 L333.3 275.49 L333.47 275.49 L333.64 275.49 L333.8 275.49 L333.97 275.49 L334.13 275.49 L334.3 275.49 L334.47 275.48 L334.63 275.47 L334.8 275.47 L334.96 275.46 L335.13 275.45 L335.3 275.43 L335.46 275.42 L335.63 275.41 L335.79 275.39 L335.96 275.37 L336.13 275.35 L336.29 275.33 L336.46 275.31 L336.62 275.29 L336.79 275.27 L336.96 275.24 L337.12 275.21 L337.29 275.19 L337.45 275.16 L337.62 275.13 L337.79 275.1 L337.95 275.06 L338.12 275.03 L338.28 275 L338.45 274.96 L338.61 274.92 L338.78 274.88 L338.95 274.84 L339.11 274.8 L339.28 274.76 L339.44 274.72 L339.61 274.67 L339.78 274.63 L339.94 274.58 L340.11 274.53 L340.27 274.48 L340.44 274.43 L340.61 274.38 L340.77 274.33 L340.94 274.27 L341.1 274.22 L341.27 274.16 L341.44 274.11 L341.6 274.05 L341.77 273.99 L341.93 273.93 L342.1 273.86 L342.89 273.56 L343.67 273.23 L344.46 272.88 L345.24 272.5 L346.03 272.12 L346.81 271.71 L347.6 271.29 L348.38 270.87 L349.17 270.43 L349.95 269.99 L350.74 269.55 L351.53 269.1 L352.31 268.66 L353.1 268.23 L353.88 267.8 L354.67 267.38 L355.45 266.97 L356.24 266.57 L357.02 266.19 L357.81 265.81 L358.59 265.44 L359.38 265.09 L360.16 264.74 L360.95 264.41 L361.74 264.08 L362.52 263.76 L363.31 263.44 L364.09 263.13 L364.88 262.83 L365.66 262.52 L366.45 262.22 L367.23 261.91 L368.02 261.61 L368.8 261.31 L369.59 261 L370.38 260.7 L371.16 260.39 L371.95 260.08 L372.73 259.77 L373.52 259.46 L374.3 259.15 L375.09 258.84 L375.87 258.53 L376.66 258.22 L377.44 257.91 L378.23 257.6 L379.02 257.3 L379.8 257 L380.59 256.7 L381.37 256.41 L382.16 256.12 L382.94 255.84 L383.73 255.56 L384.51 255.29 L385.3 255.02 L386.08 254.76 L386.87 254.5 L387.65 254.25 L388.44 254.01 L389.23 253.77 L390.01 253.54 L390.8 253.32 L391.58 253.1 L392.37 252.89 L393.15 252.68 L393.94 252.48 L394.72 252.29 L395.51 252.11 L396.29 251.92 L397.08 251.75 L397.87 251.58 L398.65 251.41 L399.44 251.25 L400.22 251.1 L401.01 250.94 L401.79 250.8 L402.58 250.65 L403.36 250.51 L404.15 250.36 L404.93 250.23 L405.72 250.09 L406.51 249.95 L407.29 249.82 L408.08 249.69 L408.86 249.55 L409.65 249.42 L410.43 249.29 L411.22 249.16 L412 249.04 L412.79 248.91 L413.57 248.79 L414.36 248.67 L415.14 248.55 L415.93 248.43 L416.72 248.32 L417.5 248.21 L418.29 248.1 L419.07 247.99 L419.86 247.89 L420.64 247.79 L421.43 247.7 L422.21 247.6 L423 247.51 L423.78 247.43 L424.57 247.34 L425.36 247.26 L426.14 247.19 L426.93 247.11 L427.71 247.04 L428.5 246.97 L429.28 246.9 L430.07 246.84 L430.85 246.78 L431.64 246.71 L432.42 246.65 L433.21 246.6 L433.99 246.54 L434.78 246.48 L435.57 246.43 L436.35 246.38 L437.14 246.32 L437.92 246.27 L438.71 246.22 L439.49 246.18 L440.28 246.13 L441.06 246.08 L441.85 246.03 L442.63 245.99 L443.42 245.94 L444.21 245.9 L444.99 245.86 L445.78 245.81 L446.56 245.77 L447.35 245.73 L448.13 245.69 L448.92 245.65 L449.7 245.61 L450.49 245.57 L451.27 245.53 L452.06 245.49 L452.85 245.46 L453.63 245.42 L454.42 245.38 L455.2 245.35 L455.99 245.31 L456.77 245.28 L457.56 245.24 L458.34 245.21 L459.13 245.17 L459.91 245.14 L460.7 245.11 L461.48 245.07 L462.27 245.04 L463.06 245.01 L463.84 244.98 L464.63 244.95 L465.41 244.92 L466.2 244.88 L466.98 244.85 L467.77 244.82 L468.55 244.79 L469.34 244.76 L470.12 244.74 L470.91 244.71 L471.7 244.68 L472.48 244.65 L473.27 244.62 L474.05 244.59 L474.84 244.57 L475.62 244.54 L476.41 244.51 L477.19 244.48 L477.98 244.46 L478.76 244.43 L479.55 244.4 L480.34 244.38 L481.12 244.35 L481.91 244.33 L482.69 244.3 L483.48 244.28 L484.26 244.25 L485.05 244.23 L485.83 244.2 L486.62 244.18 L487.4 244.15 L488.19 244.13 L488.97 244.11 L489.76 244.08 L490.55 244.06 L491.33 244.04 L492.12 244.01 L492.9 243.99 L493.69 243.97 L494.47 243.95 L495.26 243.92 L496.04 243.9 L496.83 243.88 L497.61 243.86 L498.4 243.84" stroke-dasharray="1 1.2"/>
<path clip-path="url(#ci1)" d="M387.3 379.65 L388.41 376.99 L389.52 374.5 L390.63 372.17 L391.75 369.99 L392.86 367.95 L393.97 366.03 L395.08 364.23 L396.19 362.52 L397.3 360.9 L398.41 359.35 L399.52 357.87 L400.64 356.45 L401.75 355.07 L402.86 353.75 L403.97 352.46 L405.08 351.22 L406.19 350.01 L407.3 348.84 L408.41 347.7 L409.53 346.59 L410.64 345.51 L411.75 344.45 L412.86 343.42 L413.97 342.42 L415.08 341.44 L416.19 340.48 L417.3 339.54 L418.42 338.62 L419.53 337.72 L420.64 336.84 L421.75 335.97 L422.86 335.12 L423.97 334.29 L425.08 333.47 L426.19 332.67 L427.31 331.88 L428.42 331.1 L429.53 330.34 L430.64 329.59 L431.75 328.85 L432.86 328.12 L433.97 327.41 L435.08 326.71 L436.2 326.01 L437.31 325.33 L438.42 324.66 L439.53 324 L440.64 323.35 L441.75 322.71 L442.86 322.07 L443.97 321.45 L445.09 320.84 L446.2 320.23 L447.31 319.64 L448.42 319.05 L449.53 318.47 L450.64 317.9 L451.75 317.34 L452.86 316.79 L453.98 316.24 L455.09 315.7 L456.2 315.17 L457.31 314.65 L458.42 314.14 L459.53 313.63 L460.64 313.14 L461.76 312.65 L462.87 312.16 L463.98 311.69 L465.09 311.22 L466.2 310.76 L467.31 310.31 L468.42 309.86 L469.53 309.42 L470.65 308.99 L471.76 308.56 L472.87 308.14 L473.98 307.73 L475.09 307.33 L476.2 306.93 L477.31 306.54 L478.42 306.15 L479.54 305.77 L480.65 305.4 L481.76 305.04 L482.87 304.68 L483.98 304.32 L485.09 303.98 L486.2 303.64" stroke-dasharray="1 1.2"/>
<path clip-path="url(#cb1)" d="M306.75 215.7 L306.92 218.49 L307.08 221.29 L307.25 224.08 L307.42 226.86 L307.58 229.63 L307.75 232.39 L307.91 235.12 L308.08 237.84 L308.25 240.53 L308.41 243.19 L308.58 245.81 L308.74 248.41 L308.91 250.97 L309.07 253.49 L309.24 255.98 L309.41 258.42 L309.57 260.82 L309.74 263.18 L309.9 265.5 L310.07 267.76 L310.24 269.99 L310.4 272.16 L310.57 274.29 L310.73 276.37 L310.9 278.4 L311.07 280.38 L311.23 282.31 L311.4 284.2 L311.56 286.04 L311.73 287.82 L311.9 289.56 L312.06 291.25 L312.23 292.9 L312.39 294.49 L312.56 296.04 L312.73 297.55 L312.89 299 L313.06 300.41 L313.22 301.78 L313.39 303.11 L313.56 304.39 L313.72 305.62 L313.89 306.82 L314.05 307.98 L314.22 309.09 L314.39 310.17 L314.55 311.21 L314.72 312.21 L314.88 313.17 L315.05 314.1 L315.22 314.99 L315.38 315.85 L315.55 316.68 L315.71 317.47 L315.88 318.24 L316.04 318.97 L316.21 319.67 L316.38 320.35 L316.54 320.99 L316.71 321.61 L316.87 322.2 L317.04 322.77 L317.21 323.31 L317.37 323.83 L317.54 324.32 L317.7 324.79 L317.87 325.24 L318.04 325.67 L318.2 326.08 L318.37 326.47 L318.53 326.84 L318.7 327.19 L318.87 327.52 L319.03 327.83 L319.2 328.13 L319.36 328.41 L319.53 328.67 L319.7 328.92 L319.86 329.16 L320.03 329.38 L320.19 329.58 L320.36 329.77 L320.53 329.95 L320.69 330.11 L320.86 330.27 L321.02 330.41 L321.19 330.53 L321.36 330.65 L321.52 330.75 L321.69 330.85 L321.85 330.93 L322.02 331 L322.19 331.07 L322.35 331.12 L322.52 331.16 L322.68 331.19 L322.85 331.22 L323.02 331.23 L323.18 331.24 L323.35 331.23 L323.51 331.22 L323.68 331.2 L323.84 331.17 L324.01 331.14 L324.18 331.09 L324.34 331.04 L324.51 330.98 L324.67 330.91 L324.84 330.84 L325.01 330.76 L325.17 330.67 L325.34 330.57 L325.5 330.47 L325.67 330.36 L325.84 330.25 L326 330.13 L326.17 330 L326.33 329.87 L326.5 329.73 L326.67 329.58 L326.83 329.43 L327 329.28 L327.16 329.12 L327.33 328.95 L327.5 328.78 L327.66 328.6 L327.83 328.42 L327.99 328.23 L328.16 328.04 L328.33 327.84 L328.49 327.64 L328.66 327.44 L328.82 327.23 L328.99 327.01 L329.16 326.79 L329.32 326.57 L329.49 326.35 L329.65 326.12 L329.82 325.88 L329.99 325.65 L330.15 325.41 L330.32 325.16 L330.48 324.92 L330.65 324.67 L330.82 324.42 L330.98 324.16 L331.15 323.9 L331.31 323.64 L331.48 323.38 L331.64 323.11 L331.81 322.84 L331.98 322.57 L332.14 322.29 L332.31 322.02 L332.47 321.74 L332.64 321.46 L332.81 321.17 L332.97 320.89 L333.14 320.6 L333.3 320.31 L333.47 320.02 L333.64 319.73 L333.8 319.44 L333.97 319.14 L334.13 318.84 L334.3 318.54 L334.47 318.24 L334.63 317.94 L334.8 317.64 L334.96 317.33 L335.13 317.03 L335.3 316.72 L335.46 316.41 L335.63 316.1 L335.79 315.79 L335.96 315.48 L336.13 315.16 L336.29 314.85 L336.46 314.54 L336.62 314.22 L336.79 313.9 L336.96 313.58 L337.12 313.27 L337.29 312.95 L337.45 312.63 L337.62 312.31 L337.79 311.98 L337.95 311.66 L338.12 311.34 L338.28 311.02 L338.45 310.69 L338.61 310.37 L338.78 310.05 L338.95 309.72 L339.11 309.4 L339.28 309.07 L339.44 308.75 L339.61 308.42 L339.78 308.1 L339.94 307.77 L340.11 307.44 L340.27 307.12 L340.44 306.79 L340.61 306.47 L340.77 306.14 L340.94 305.82 L341.1 305.5 L341.27 305.17 L341.44 304.85 L341.6 304.52 L341.77 304.2 L341.93 303.88 L342.1 303.56 L342.89 302.04 L343.67 300.55 L344.46 299.07 L345.24 297.62 L346.03 296.2 L346.81 294.81 L347.6 293.44 L348.38 292.11 L349.17 290.82 L349.95 289.55 L350.74 288.31 L351.53 287.11 L352.31 285.93 L353.1 284.79 L353.88 283.68 L354.67 282.59 L355.45 281.54 L356.24 280.51 L357.02 279.52 L357.81 278.56 L358.59 277.62 L359.38 276.72 L360.16 275.84 L360.95 274.99 L361.74 274.17 L362.52 273.37 L363.31 272.6 L364.09 271.85 L364.88 271.12 L365.66 270.42 L366.45 269.73 L367.23 269.07 L368.02 268.42 L368.8 267.79 L369.59 267.17 L370.38 266.58 L371.16 266 L371.95 265.44 L372.73 264.89 L373.52 264.36 L374.3 263.84 L375.09 263.34 L375.87 262.85 L376.66 262.37 L377.44 261.91 L378.23 261.46 L379.02 261.02 L379.8 260.6 L380.59 260.19 L381.37 259.78 L382.16 259.39 L382.94 259.01 L383.73 258.63 L384.51 258.27 L385.3 257.92 L386.08 257.58 L386.87 257.24 L387.65 256.92 L388.44 256.6 L389.23 256.29 L390.01 255.99 L390.8 255.7 L391.58 255.41 L392.37 255.13 L393.15 254.86 L393.94 254.59 L394.72 254.33 L395.51 254.07 L396.29 253.82 L397.08 253.58 L397.87 253.34 L398.65 253.11 L399.44 252.88 L400.22 252.66 L401.01 252.44 L401.79 252.22 L402.58 252.02 L403.36 251.81 L404.15 251.61 L404.93 251.42 L405.72 251.23 L406.51 251.04 L407.29 250.86 L408.08 250.68 L408.86 250.5 L409.65 250.33 L410.43 250.17 L411.22 250 L412 249.84 L412.79 249.69 L413.57 249.54 L414.36 249.39 L415.14 249.25 L415.93 249.11 L416.72 248.97 L417.5 248.84 L418.29 248.71 L419.07 248.59 L419.86 248.47 L420.64 248.35 L421.43 248.24 L422.21 248.13 L423 248.03 L423.78 247.93 L424.57 247.83 L425.36 247.73 L426.14 247.64 L426.93 247.55 L427.71 247.46 L428.5 247.38 L429.28 247.3 L430.07 247.22 L430.85 247.15 L431.64 247.07 L432.42 247 L433.21 246.93 L433.99 246.86 L434.78 246.8 L435.57 246.73 L436.35 246.67 L437.14 246.61 L437.92 246.55 L438.71 246.49 L439.49 246.44 L440.28 246.38 L441.06 246.33 L441.85 246.27 L442.63 246.22 L443.42 246.17 L444.21 246.12 L444.99 246.07 L445.78 246.02 L446.56 245.98 L447.35 245.93 L448.13 245.89 L448.92 245.84 L449.7 245.8 L450.49 245.76 L451.27 245.71 L452.06 245.67 L452.85 245.63 L453.63 245.59 L454.42 245.55 L455.2 245.51 L455.99 245.47 L456.77 245.43 L457.56 245.4 L458.34 245.36 L459.13 245.32 L459.91 245.29 L460.7 245.25 L461.48 245.21 L462.27 245.18 L463.06 245.14 L463.84 245.11 L464.63 245.08 L465.41 245.04 L466.2 245.01 L466.98 244.98 L467.77 244.94 L468.55 244.91 L469.34 244.88 L470.12 244.85 L470.91 244.82 L471.7 244.78 L472.48 244.75 L473.27 244.72 L474.05 244.69 L474.84 244.66 L475.62 244.63 L476.41 244.6 L477.19 244.57 L477.98 244.55 L478.76 244.52 L479.55 244.49 L480.34 244.46 L481.12 244.43 L481.91 244.41 L482.69 244.38 L483.48 244.35 L484.26 244.32 L485.05 244.3 L485.83 244.27 L486.62 244.24 L487.4 244.22 L488.19 244.19 L488.97 244.17 L489.76 244.14 L490.55 244.12 L491.33 244.09 L492.12 244.07 L492.9 244.04 L493.69 244.02 L494.47 243.99 L495.26 243.97 L496.04 243.95 L496.83 243.92 L497.61 243.9 L498.4 243.88" stroke-dasharray="3 1.3" stroke-width="1.15"/>
<path clip-path="url(#ci1)" d="M387.3 388.17 L388.41 385.06 L389.52 382.12 L390.63 379.37 L391.75 376.77 L392.86 374.33 L393.97 372.03 L395.08 369.86 L396.19 367.81 L397.3 365.87 L398.41 364.03 L399.52 362.27 L400.64 360.6 L401.75 359 L402.86 357.47 L403.97 356.01 L405.08 354.6 L406.19 353.24 L407.3 351.92 L408.41 350.66 L409.53 349.43 L410.64 348.24 L411.75 347.08 L412.86 345.95 L413.97 344.86 L415.08 343.79 L416.19 342.75 L417.3 341.73 L418.42 340.73 L419.53 339.75 L420.64 338.8 L421.75 337.86 L422.86 336.94 L423.97 336.04 L425.08 335.16 L426.19 334.29 L427.31 333.43 L428.42 332.59 L429.53 331.77 L430.64 330.96 L431.75 330.16 L432.86 329.37 L433.97 328.6 L435.08 327.84 L436.2 327.09 L437.31 326.35 L438.42 325.63 L439.53 324.92 L440.64 324.21 L441.75 323.52 L442.86 322.84 L443.97 322.17 L445.09 321.52 L446.2 320.87 L447.31 320.23 L448.42 319.6 L449.53 318.99 L450.64 318.38 L451.75 317.78 L452.86 317.2 L453.98 316.62 L455.09 316.05 L456.2 315.5 L457.31 314.95 L458.42 314.41 L459.53 313.88 L460.64 313.36 L461.76 312.85 L462.87 312.35 L463.98 311.85 L465.09 311.37 L466.2 310.89 L467.31 310.42 L468.42 309.97 L469.53 309.52 L470.65 309.07 L471.76 308.64 L472.87 308.21 L473.98 307.8 L475.09 307.39 L476.2 306.98 L477.31 306.59 L478.42 306.2 L479.54 305.82 L480.65 305.45 L481.76 305.08 L482.87 304.73 L483.98 304.37 L485.09 304.03 L486.2 303.69" stroke-dasharray="3 1.3" stroke-width="1.15"/>
<path clip-path="url(#cb1)" d="M309.57 217.46 L309.74 222.23 L309.9 226.92 L310.07 231.53 L310.24 236.07 L310.4 240.53 L310.57 244.91 L310.73 249.22 L310.9 253.45 L311.07 257.61 L311.23 261.7 L311.4 265.71 L311.56 269.65 L311.73 273.51 L311.9 277.3 L312.06 281.02 L312.23 284.68 L312.39 288.25 L312.56 291.76 L312.73 295.2 L312.89 298.58 L313.06 301.88 L313.22 305.11 L313.39 308.28 L313.56 311.38 L313.72 314.41 L313.89 317.38 L314.05 320.28 L314.22 323.12 L314.39 325.89 L314.55 328.6 L314.72 331.25 L314.88 333.83 L315.05 336.35 L315.22 338.81 L315.38 341.21 L315.55 343.55 L315.71 345.83 L315.88 348.05 L316.04 350.21 L316.21 352.31 L316.38 354.35 L316.54 356.34 L316.71 358.27 L316.87 360.15 L317.04 361.97 L317.21 363.74 L317.37 365.45 L317.54 367.11 L317.7 368.72 L317.87 370.27 L318.04 371.78 L318.2 373.23 L318.37 374.63 L318.53 375.99 L318.7 377.29 L318.87 378.55 L319.03 379.76 L319.2 380.92 L319.36 382.03 L319.53 383.1 L319.7 384.13 L319.86 385.11 L320.03 386.05 L320.19 386.94 L320.36 387.79 L320.53 388.6 L320.69 389.37 L320.86 390.1 L321.02 390.79 L321.19 391.44 L321.36 392.05 L321.52 392.63 L321.69 393.17 L321.85 393.67 L322.02 394.13 L322.19 394.57 L322.35 394.96 L322.52 395.33 L322.68 395.66 L322.85 395.95 L323.02 396.22 L323.18 396.46 L323.35 396.66 L323.51 396.84 L323.68 396.99 L323.84 397.11 L324.01 397.2 L324.18 397.26 L324.34 397.3 L324.51 397.31 L324.67 397.3 L324.84 397.26 L325.01 397.2 L325.17 397.12 L325.34 397.02 L325.5 396.89 L325.67 396.74 L325.84 396.57 L326 396.38 L326.17 396.17 L326.33 395.95 L326.5 395.7 L326.67 395.44 L326.83 395.16 L327 394.86 L327.16 394.55 L327.33 394.22 L327.5 393.88 L327.66 393.52 L327.83 393.15 L327.99 392.77 L328.16 392.37 L328.33 391.96 L328.49 391.54 L328.66 391.11 L328.82 390.66 L328.99 390.21 L329.16 389.74 L329.32 389.27 L329.49 388.78 L329.65 388.29 L329.82 387.79 L329.99 387.28 L330.15 386.76 L330.32 386.24 L330.48 385.71 L330.65 385.17 L330.82 384.63 L330.98 384.07 L331.15 383.52 L331.31 382.96 L331.48 382.39 L331.64 381.82 L331.81 381.24 L331.98 380.66 L332.14 380.07 L332.31 379.48 L332.47 378.89 L332.64 378.3 L332.81 377.7 L332.97 377.09 L333.14 376.49 L333.3 375.88 L333.47 375.27 L333.64 374.66 L333.8 374.04 L333.97 373.43 L334.13 372.81 L334.3 372.19 L334.47 371.56 L334.63 370.94 L334.8 370.32 L334.96 369.69 L335.13 369.07 L335.3 368.44 L335.46 367.81 L335.63 367.18 L335.79 366.55 L335.96 365.92 L336.13 365.29 L336.29 364.66 L336.46 364.03 L336.62 363.4 L336.79 362.77 L336.96 362.14 L337.12 361.51 L337.29 360.88 L337.45 360.25 L337.62 359.62 L337.79 358.99 L337.95 358.36 L338.12 357.73 L338.28 357.1 L338.45 356.47 L338.61 355.85 L338.78 355.22 L338.95 354.59 L339.11 353.97 L339.28 353.35 L339.44 352.73 L339.61 352.1 L339.78 351.48 L339.94 350.87 L340.11 350.25 L340.27 349.63 L340.44 349.02 L340.61 348.4 L340.77 347.79 L340.94 347.18 L341.1 346.57 L341.27 345.96 L341.44 345.35 L341.6 344.75 L341.77 344.15 L341.93 343.55 L342.1 342.95 L342.89 340.13 L343.67 337.36 L344.46 334.64 L345.24 331.97 L346.03 329.35 L346.81 326.79 L347.6 324.28 L348.38 321.84 L349.17 319.44 L349.95 317.11 L350.74 314.83 L351.53 312.62 L352.31 310.46 L353.1 308.36 L353.88 306.32 L354.67 304.33 L355.45 302.41 L356.24 300.54 L357.02 298.74 L357.81 296.98 L358.59 295.29 L359.38 293.65 L360.16 292.06 L360.95 290.53 L361.74 289.05 L362.52 287.61 L363.31 286.22 L364.09 284.87 L364.88 283.57 L365.66 282.31 L366.45 281.08 L367.23 279.9 L368.02 278.74 L368.8 277.63 L369.59 276.54 L370.38 275.49 L371.16 274.47 L371.95 273.49 L372.73 272.53 L373.52 271.6 L374.3 270.7 L375.09 269.83 L375.87 268.98 L376.66 268.17 L377.44 267.38 L378.23 266.61 L379.02 265.88 L379.8 265.16 L380.59 264.47 L381.37 263.81 L382.16 263.16 L382.94 262.54 L383.73 261.95 L384.51 261.37 L385.3 260.82 L386.08 260.29 L386.87 259.78 L387.65 259.29 L388.44 258.81 L389.23 258.36 L390.01 257.93 L390.8 257.51 L391.58 257.12 L392.37 256.73 L393.15 256.37 L393.94 256.02 L394.72 255.69 L395.51 255.37 L396.29 255.06 L397.08 254.77 L397.87 254.49 L398.65 254.22 L399.44 253.96 L400.22 253.71 L401.01 253.48 L401.79 253.24 L402.58 253.02 L403.36 252.81 L404.15 252.6 L404.93 252.39 L405.72 252.2 L406.51 252 L407.29 251.81 L408.08 251.62 L408.86 251.44 L409.65 251.26 L410.43 251.08 L411.22 250.91 L412 250.74 L412.79 250.57 L413.57 250.4 L414.36 250.24 L415.14 250.08 L415.93 249.93 L416.72 249.77 L417.5 249.62 L418.29 249.48 L419.07 249.33 L419.86 249.19 L420.64 249.06 L421.43 248.93 L422.21 248.8 L423 248.67 L423.78 248.55 L424.57 248.43 L425.36 248.32 L426.14 248.21 L426.93 248.1 L427.71 247.99 L428.5 247.89 L429.28 247.79 L430.07 247.7 L430.85 247.6 L431.64 247.51 L432.42 247.42 L433.21 247.34 L433.99 247.26 L434.78 247.18 L435.57 247.1 L436.35 247.02 L437.14 246.95 L437.92 246.88 L438.71 246.81 L439.49 246.74 L440.28 246.67 L441.06 246.61 L441.85 246.55 L442.63 246.49 L443.42 246.43 L444.21 246.37 L444.99 246.31 L445.78 246.25 L446.56 246.2 L447.35 246.15 L448.13 246.1 L448.92 246.04 L449.7 245.99 L450.49 245.95 L451.27 245.9 L452.06 245.85 L452.85 245.8 L453.63 245.76 L454.42 245.71 L455.2 245.67 L455.99 245.63 L456.77 245.58 L457.56 245.54 L458.34 245.5 L459.13 245.46 L459.91 245.42 L460.7 245.38 L461.48 245.34 L462.27 245.31 L463.06 245.27 L463.84 245.23 L464.63 245.19 L465.41 245.16 L466.2 245.12 L466.98 245.09 L467.77 245.05 L468.55 245.02 L469.34 244.98 L470.12 244.95 L470.91 244.92 L471.7 244.88 L472.48 244.85 L473.27 244.82 L474.05 244.79 L474.84 244.75 L475.62 244.72 L476.41 244.69 L477.19 244.66 L477.98 244.63 L478.76 244.6 L479.55 244.57 L480.34 244.54 L481.12 244.51 L481.91 244.48 L482.69 244.45 L483.48 244.42 L484.26 244.4 L485.05 244.37 L485.83 244.34 L486.62 244.31 L487.4 244.29 L488.19 244.26 L488.97 244.23 L489.76 244.21 L490.55 244.18 L491.33 244.15 L492.12 244.13 L492.9 244.1 L493.69 244.08 L494.47 244.05 L495.26 244.03 L496.04 244 L496.83 243.98 L497.61 243.95 L498.4 243.93"/>
<path clip-path="url(#ci1)" d="M387.3 398.87 L388.41 395.2 L389.52 391.71 L390.63 388.41 L391.75 385.27 L392.86 382.3 L393.97 379.49 L395.08 376.84 L396.19 374.33 L397.3 371.95 L398.41 369.7 L399.52 367.57 L400.64 365.54 L401.75 363.62 L402.86 361.79 L403.97 360.05 L405.08 358.38 L406.19 356.79 L407.3 355.26 L408.41 353.8 L409.53 352.39 L410.64 351.04 L411.75 349.73 L412.86 348.46 L413.97 347.24 L415.08 346.05 L416.19 344.9 L417.3 343.78 L418.42 342.69 L419.53 341.63 L420.64 340.6 L421.75 339.59 L422.86 338.6 L423.97 337.64 L425.08 336.69 L426.19 335.77 L427.31 334.86 L428.42 333.97 L429.53 333.1 L430.64 332.24 L431.75 331.4 L432.86 330.57 L433.97 329.76 L435.08 328.96 L436.2 328.17 L437.31 327.4 L438.42 326.64 L439.53 325.89 L440.64 325.16 L441.75 324.43 L442.86 323.72 L443.97 323.02 L445.09 322.33 L446.2 321.65 L447.31 320.98 L448.42 320.32 L449.53 319.68 L450.64 319.04 L451.75 318.41 L452.86 317.8 L453.98 317.19 L455.09 316.6 L456.2 316.01 L457.31 315.43 L458.42 314.87 L459.53 314.31 L460.64 313.76 L461.76 313.22 L462.87 312.69 L463.98 312.17 L465.09 311.66 L466.2 311.16 L467.31 310.66 L468.42 310.18 L469.53 309.7 L470.65 309.24 L471.76 308.78 L472.87 308.33 L473.98 307.88 L475.09 307.45 L476.2 307.02 L477.31 306.6 L478.42 306.19 L479.54 305.79 L480.65 305.4 L481.76 305.01 L482.87 304.63 L483.98 304.25 L485.09 303.89 L486.2 303.53"/>
</g>
<g fill="none" stroke="#0cb848" stroke-width="1.05">
<clipPath id="ci2"><rect x="612.5" y="287.5" width="108.7" height="120"/></clipPath>
<path clip-path="url(#cb2)" d="M541.23 217.94 L541.4 219.36 L541.57 220.74 L541.73 222.1 L541.9 223.42 L542.06 224.72 L542.23 225.98 L542.4 227.22 L542.56 228.43 L542.73 229.62 L542.89 230.78 L543.06 231.91 L543.23 233.02 L543.39 234.1 L543.56 235.17 L543.72 236.21 L543.89 237.23 L544.06 238.22 L544.22 239.2 L544.39 240.15 L544.55 241.09 L544.72 242 L544.89 242.9 L545.05 243.78 L545.22 244.63 L545.38 245.47 L545.55 246.29 L545.72 247.09 L545.88 247.88 L546.05 248.65 L546.21 249.4 L546.38 250.13 L546.54 250.84 L546.71 251.54 L546.88 252.23 L547.04 252.89 L547.21 253.54 L547.37 254.18 L547.54 254.8 L547.71 255.4 L547.87 255.99 L548.04 256.56 L548.2 257.12 L548.37 257.67 L548.54 258.2 L548.7 258.71 L548.87 259.21 L549.03 259.7 L549.2 260.17 L549.37 260.63 L549.53 261.08 L549.7 261.52 L549.86 261.94 L550.03 262.35 L550.2 262.74 L550.36 263.13 L550.53 263.5 L550.69 263.86 L550.86 264.21 L551.03 264.55 L551.19 264.88 L551.36 265.19 L551.52 265.5 L551.69 265.79 L551.86 266.08 L552.02 266.35 L552.19 266.62 L552.35 266.87 L552.52 267.12 L552.69 267.36 L552.85 267.59 L553.02 267.81 L553.18 268.02 L553.35 268.22 L553.52 268.42 L553.68 268.61 L553.85 268.79 L554.01 268.96 L554.18 269.12 L554.34 269.28 L554.51 269.44 L554.68 269.58 L554.84 269.72 L555.01 269.85 L555.17 269.98 L555.34 270.1 L555.51 270.21 L555.67 270.32 L555.84 270.43 L556 270.53 L556.17 270.62 L556.34 270.71 L556.5 270.79 L556.67 270.87 L556.83 270.95 L557 271.02 L557.17 271.09 L557.33 271.15 L557.5 271.21 L557.66 271.26 L557.83 271.31 L558 271.36 L558.16 271.4 L558.33 271.44 L558.49 271.48 L558.66 271.51 L558.83 271.54 L558.99 271.56 L559.16 271.59 L559.32 271.61 L559.49 271.63 L559.66 271.64 L559.82 271.65 L559.99 271.66 L560.15 271.67 L560.32 271.68 L560.49 271.68 L560.65 271.68 L560.82 271.67 L560.98 271.67 L561.15 271.66 L561.32 271.65 L561.48 271.64 L561.65 271.63 L561.81 271.62 L561.98 271.6 L562.14 271.58 L562.31 271.56 L562.48 271.54 L562.64 271.52 L562.81 271.49 L562.97 271.46 L563.14 271.44 L563.31 271.41 L563.47 271.38 L563.64 271.34 L563.8 271.31 L563.97 271.28 L564.14 271.24 L564.3 271.2 L564.47 271.17 L564.63 271.13 L564.8 271.09 L564.97 271.05 L565.13 271.01 L565.3 270.96 L565.46 270.92 L565.63 270.88 L565.8 270.83 L565.96 270.79 L566.13 270.74 L566.29 270.7 L566.46 270.65 L566.63 270.6 L566.79 270.55 L566.96 270.5 L567.12 270.46 L567.29 270.41 L567.46 270.36 L567.62 270.31 L567.79 270.26 L567.95 270.21 L568.12 270.16 L568.29 270.1 L568.45 270.05 L568.62 270 L568.78 269.95 L568.95 269.9 L569.11 269.84 L569.28 269.79 L569.45 269.74 L569.61 269.69 L569.78 269.63 L569.94 269.58 L570.11 269.53 L570.28 269.47 L570.44 269.42 L570.61 269.37 L570.77 269.31 L570.94 269.26 L571.11 269.2 L571.27 269.15 L571.44 269.09 L571.6 269.04 L571.77 268.98 L571.94 268.93 L572.1 268.87 L572.27 268.82 L572.43 268.76 L572.6 268.71 L573.39 268.44 L574.17 268.17 L574.96 267.89 L575.74 267.61 L576.53 267.32 L577.31 267.03 L578.1 266.74 L578.88 266.44 L579.67 266.14 L580.45 265.84 L581.24 265.55 L582.03 265.26 L582.81 264.97 L583.6 264.69 L584.38 264.42 L585.17 264.15 L585.95 263.88 L586.74 263.63 L587.52 263.38 L588.31 263.13 L589.09 262.89 L589.88 262.65 L590.66 262.42 L591.45 262.19 L592.24 261.97 L593.02 261.75 L593.81 261.53 L594.59 261.32 L595.38 261.12 L596.16 260.92 L596.95 260.72 L597.73 260.53 L598.52 260.34 L599.3 260.16 L600.09 259.97 L600.88 259.79 L601.66 259.62 L602.45 259.44 L603.23 259.26 L604.02 259.08 L604.8 258.91 L605.59 258.73 L606.37 258.56 L607.16 258.38 L607.94 258.2 L608.73 258.02 L609.52 257.85 L610.3 257.67 L611.09 257.49 L611.87 257.3 L612.66 257.12 L613.44 256.94 L614.23 256.76 L615.01 256.58 L615.8 256.39 L616.58 256.21 L617.37 256.03 L618.15 255.85 L618.94 255.67 L619.73 255.49 L620.51 255.32 L621.3 255.15 L622.08 254.98 L622.87 254.81 L623.65 254.65 L624.44 254.5 L625.22 254.35 L626.01 254.2 L626.79 254.05 L627.58 253.91 L628.37 253.78 L629.15 253.64 L629.94 253.51 L630.72 253.38 L631.51 253.25 L632.29 253.12 L633.08 253 L633.86 252.87 L634.65 252.74 L635.43 252.61 L636.22 252.48 L637.01 252.35 L637.79 252.22 L638.58 252.08 L639.36 251.95 L640.15 251.81 L640.93 251.67 L641.72 251.53 L642.5 251.38 L643.29 251.24 L644.07 251.1 L644.86 250.95 L645.64 250.81 L646.43 250.67 L647.22 250.53 L648 250.39 L648.79 250.25 L649.57 250.11 L650.36 249.98 L651.14 249.85 L651.93 249.72 L652.71 249.59 L653.5 249.47 L654.28 249.35 L655.07 249.23 L655.86 249.12 L656.64 249.01 L657.43 248.9 L658.21 248.79 L659 248.68 L659.78 248.58 L660.57 248.48 L661.35 248.38 L662.14 248.28 L662.92 248.19 L663.71 248.09 L664.49 248 L665.28 247.9 L666.07 247.81 L666.85 247.72 L667.64 247.63 L668.42 247.55 L669.21 247.46 L669.99 247.37 L670.78 247.29 L671.56 247.2 L672.35 247.12 L673.13 247.03 L673.92 246.95 L674.71 246.87 L675.49 246.79 L676.28 246.71 L677.06 246.64 L677.85 246.56 L678.63 246.48 L679.42 246.41 L680.2 246.33 L680.99 246.26 L681.77 246.19 L682.56 246.12 L683.35 246.05 L684.13 245.98 L684.92 245.91 L685.7 245.84 L686.49 245.78 L687.27 245.71 L688.06 245.65 L688.84 245.59 L689.63 245.53 L690.41 245.47 L691.2 245.41 L691.98 245.35 L692.77 245.29 L693.56 245.23 L694.34 245.18 L695.13 245.12 L695.91 245.07 L696.7 245.02 L697.48 244.96 L698.27 244.91 L699.05 244.86 L699.84 244.81 L700.62 244.77 L701.41 244.72 L702.2 244.67 L702.98 244.63 L703.77 244.58 L704.55 244.54 L705.34 244.5 L706.12 244.45 L706.91 244.41 L707.69 244.37 L708.48 244.33 L709.26 244.29 L710.05 244.25 L710.84 244.22 L711.62 244.18 L712.41 244.14 L713.19 244.11 L713.98 244.07 L714.76 244.04 L715.55 244.01 L716.33 243.98 L717.12 243.94 L717.9 243.91 L718.69 243.88 L719.47 243.85 L720.26 243.82 L721.05 243.79 L721.83 243.77 L722.62 243.74 L723.4 243.71 L724.19 243.69 L724.97 243.66 L725.76 243.63 L726.54 243.61 L727.33 243.59 L728.11 243.56 L728.9 243.54" stroke-dasharray="1 1.2"/>
<path clip-path="url(#ci2)" d="M617.3 410.6 L618.41 407.04 L619.52 403.62 L620.63 400.35 L621.75 397.21 L622.86 394.2 L623.97 391.31 L625.08 388.51 L626.19 385.8 L627.3 383.16 L628.41 380.58 L629.52 378.06 L630.64 375.6 L631.75 373.18 L632.86 370.81 L633.97 368.49 L635.08 366.22 L636.19 364 L637.3 361.82 L638.41 359.7 L639.53 357.62 L640.64 355.6 L641.75 353.64 L642.86 351.72 L643.97 349.86 L645.08 348.05 L646.19 346.29 L647.3 344.59 L648.42 342.94 L649.53 341.34 L650.64 339.79 L651.75 338.29 L652.86 336.83 L653.97 335.43 L655.08 334.07 L656.19 332.76 L657.31 331.5 L658.42 330.28 L659.53 329.1 L660.64 327.96 L661.75 326.87 L662.86 325.81 L663.97 324.79 L665.08 323.81 L666.2 322.87 L667.31 321.96 L668.42 321.08 L669.53 320.24 L670.64 319.43 L671.75 318.65 L672.86 317.9 L673.97 317.17 L675.09 316.48 L676.2 315.81 L677.31 315.17 L678.42 314.55 L679.53 313.96 L680.64 313.39 L681.75 312.84 L682.86 312.31 L683.98 311.81 L685.09 311.32 L686.2 310.85 L687.31 310.4 L688.42 309.97 L689.53 309.55 L690.64 309.15 L691.76 308.77 L692.87 308.4 L693.98 308.04 L695.09 307.7 L696.2 307.37 L697.31 307.05 L698.42 306.74 L699.53 306.45 L700.65 306.16 L701.76 305.89 L702.87 305.63 L703.98 305.37 L705.09 305.13 L706.2 304.89 L707.31 304.66 L708.42 304.44 L709.54 304.23 L710.65 304.02 L711.76 303.82 L712.87 303.63 L713.98 303.44 L715.09 303.26 L716.2 303.09" stroke-dasharray="1 1.2"/>
<path clip-path="url(#cb2)" d="M536.26 215.77 L536.42 218.46 L536.59 221.16 L536.75 223.86 L536.92 226.56 L537.09 229.25 L537.25 231.93 L537.42 234.59 L537.58 237.24 L537.75 239.87 L537.92 242.48 L538.08 245.06 L538.25 247.62 L538.41 250.15 L538.58 252.64 L538.75 255.11 L538.91 257.54 L539.08 259.93 L539.24 262.29 L539.41 264.61 L539.57 266.89 L539.74 269.13 L539.91 271.32 L540.07 273.48 L540.24 275.59 L540.4 277.67 L540.57 279.69 L540.74 281.68 L540.9 283.62 L541.07 285.51 L541.23 287.36 L541.4 289.17 L541.57 290.94 L541.73 292.66 L541.9 294.33 L542.06 295.97 L542.23 297.55 L542.4 299.1 L542.56 300.61 L542.73 302.07 L542.89 303.49 L543.06 304.87 L543.23 306.21 L543.39 307.51 L543.56 308.77 L543.72 310 L543.89 311.18 L544.06 312.33 L544.22 313.44 L544.39 314.52 L544.55 315.56 L544.72 316.57 L544.89 317.54 L545.05 318.48 L545.22 319.39 L545.38 320.27 L545.55 321.12 L545.72 321.94 L545.88 322.73 L546.05 323.49 L546.21 324.22 L546.38 324.93 L546.54 325.61 L546.71 326.26 L546.88 326.89 L547.04 327.5 L547.21 328.09 L547.37 328.65 L547.54 329.19 L547.71 329.7 L547.87 330.2 L548.04 330.68 L548.2 331.14 L548.37 331.58 L548.54 332 L548.7 332.4 L548.87 332.79 L549.03 333.16 L549.2 333.51 L549.37 333.85 L549.53 334.17 L549.7 334.48 L549.86 334.78 L550.03 335.06 L550.2 335.32 L550.36 335.58 L550.53 335.82 L550.69 336.04 L550.86 336.26 L551.03 336.46 L551.19 336.66 L551.36 336.84 L551.52 337.01 L551.69 337.17 L551.86 337.32 L552.02 337.46 L552.19 337.59 L552.35 337.7 L552.52 337.81 L552.69 337.92 L552.85 338.01 L553.02 338.09 L553.18 338.16 L553.35 338.23 L553.52 338.28 L553.68 338.33 L553.85 338.37 L554.01 338.4 L554.18 338.43 L554.34 338.44 L554.51 338.45 L554.68 338.45 L554.84 338.44 L555.01 338.43 L555.17 338.4 L555.34 338.37 L555.51 338.34 L555.67 338.29 L555.84 338.24 L556 338.18 L556.17 338.12 L556.34 338.04 L556.5 337.97 L556.67 337.88 L556.83 337.79 L557 337.69 L557.17 337.58 L557.33 337.47 L557.5 337.35 L557.66 337.22 L557.83 337.09 L558 336.95 L558.16 336.81 L558.33 336.66 L558.49 336.5 L558.66 336.34 L558.83 336.17 L558.99 336 L559.16 335.82 L559.32 335.64 L559.49 335.45 L559.66 335.25 L559.82 335.05 L559.99 334.84 L560.15 334.63 L560.32 334.41 L560.49 334.19 L560.65 333.96 L560.82 333.73 L560.98 333.49 L561.15 333.25 L561.32 333 L561.48 332.75 L561.65 332.49 L561.81 332.23 L561.98 331.97 L562.14 331.7 L562.31 331.43 L562.48 331.15 L562.64 330.87 L562.81 330.58 L562.97 330.29 L563.14 330 L563.31 329.7 L563.47 329.4 L563.64 329.1 L563.8 328.79 L563.97 328.48 L564.14 328.17 L564.3 327.85 L564.47 327.53 L564.63 327.21 L564.8 326.88 L564.97 326.55 L565.13 326.22 L565.3 325.89 L565.46 325.55 L565.63 325.21 L565.8 324.87 L565.96 324.53 L566.13 324.18 L566.29 323.83 L566.46 323.48 L566.63 323.13 L566.79 322.78 L566.96 322.42 L567.12 322.06 L567.29 321.7 L567.46 321.34 L567.62 320.98 L567.79 320.61 L567.95 320.25 L568.12 319.88 L568.29 319.51 L568.45 319.14 L568.62 318.77 L568.78 318.4 L568.95 318.03 L569.11 317.65 L569.28 317.28 L569.45 316.9 L569.61 316.52 L569.78 316.15 L569.94 315.77 L570.11 315.39 L570.28 315.01 L570.44 314.63 L570.61 314.25 L570.77 313.87 L570.94 313.49 L571.11 313.11 L571.27 312.73 L571.44 312.35 L571.6 311.97 L571.77 311.59 L571.94 311.21 L572.1 310.83 L572.27 310.45 L572.43 310.07 L572.6 309.69 L573.39 307.89 L574.17 306.11 L574.96 304.35 L575.74 302.6 L576.53 300.89 L577.31 299.2 L578.1 297.54 L578.88 295.91 L579.67 294.32 L580.45 292.77 L581.24 291.25 L582.03 289.77 L582.81 288.33 L583.6 286.93 L584.38 285.58 L585.17 284.26 L585.95 282.98 L586.74 281.74 L587.52 280.54 L588.31 279.38 L589.09 278.26 L589.88 277.18 L590.66 276.13 L591.45 275.13 L592.24 274.16 L593.02 273.23 L593.81 272.34 L594.59 271.48 L595.38 270.65 L596.16 269.86 L596.95 269.11 L597.73 268.38 L598.52 267.68 L599.3 267.02 L600.09 266.38 L600.88 265.77 L601.66 265.19 L602.45 264.63 L603.23 264.1 L604.02 263.58 L604.8 263.09 L605.59 262.62 L606.37 262.17 L607.16 261.74 L607.94 261.32 L608.73 260.92 L609.52 260.53 L610.3 260.16 L611.09 259.79 L611.87 259.44 L612.66 259.1 L613.44 258.77 L614.23 258.45 L615.01 258.14 L615.8 257.84 L616.58 257.55 L617.37 257.26 L618.15 256.99 L618.94 256.72 L619.73 256.46 L620.51 256.2 L621.3 255.96 L622.08 255.72 L622.87 255.49 L623.65 255.26 L624.44 255.04 L625.22 254.83 L626.01 254.63 L626.79 254.43 L627.58 254.24 L628.37 254.05 L629.15 253.88 L629.94 253.7 L630.72 253.53 L631.51 253.37 L632.29 253.21 L633.08 253.06 L633.86 252.91 L634.65 252.77 L635.43 252.63 L636.22 252.49 L637.01 252.36 L637.79 252.23 L638.58 252.1 L639.36 251.98 L640.15 251.86 L640.93 251.74 L641.72 251.62 L642.5 251.51 L643.29 251.4 L644.07 251.29 L644.86 251.18 L645.64 251.07 L646.43 250.96 L647.22 250.85 L648 250.75 L648.79 250.64 L649.57 250.53 L650.36 250.43 L651.14 250.32 L651.93 250.21 L652.71 250.1 L653.5 250 L654.28 249.89 L655.07 249.78 L655.86 249.67 L656.64 249.56 L657.43 249.46 L658.21 249.35 L659 249.24 L659.78 249.13 L660.57 249.03 L661.35 248.92 L662.14 248.81 L662.92 248.71 L663.71 248.61 L664.49 248.5 L665.28 248.4 L666.07 248.3 L666.85 248.2 L667.64 248.1 L668.42 248.01 L669.21 247.91 L669.99 247.82 L670.78 247.72 L671.56 247.63 L672.35 247.54 L673.13 247.45 L673.92 247.36 L674.71 247.27 L675.49 247.19 L676.28 247.1 L677.06 247.02 L677.85 246.94 L678.63 246.86 L679.42 246.78 L680.2 246.7 L680.99 246.62 L681.77 246.54 L682.56 246.47 L683.35 246.39 L684.13 246.32 L684.92 246.25 L685.7 246.18 L686.49 246.11 L687.27 246.04 L688.06 245.97 L688.84 245.91 L689.63 245.84 L690.41 245.78 L691.2 245.71 L691.98 245.65 L692.77 245.59 L693.56 245.53 L694.34 245.47 L695.13 245.41 L695.91 245.36 L696.7 245.3 L697.48 245.24 L698.27 245.19 L699.05 245.14 L699.84 245.08 L700.62 245.03 L701.41 244.98 L702.2 244.93 L702.98 244.88 L703.77 244.83 L704.55 244.79 L705.34 244.74 L706.12 244.69 L706.91 244.65 L707.69 244.6 L708.48 244.56 L709.26 244.52 L710.05 244.48 L710.84 244.43 L711.62 244.39 L712.41 244.35 L713.19 244.32 L713.98 244.28 L714.76 244.24 L715.55 244.2 L716.33 244.17 L717.12 244.13 L717.9 244.1 L718.69 244.06 L719.47 244.03 L720.26 244 L721.05 243.96 L721.83 243.93 L722.62 243.9 L723.4 243.87 L724.19 243.84 L724.97 243.81 L725.76 243.78 L726.54 243.75 L727.33 243.73 L728.11 243.7 L728.9 243.67" stroke-dasharray="3 1.3" stroke-width="1.15"/>
<path clip-path="url(#ci2)" d="M617.3 417.49 L618.41 414.52 L619.52 411.54 L620.63 408.55 L621.75 405.55 L622.86 402.55 L623.97 399.57 L625.08 396.62 L626.19 393.7 L627.3 390.82 L628.41 388 L629.52 385.23 L630.64 382.52 L631.75 379.87 L632.86 377.29 L633.97 374.77 L635.08 372.31 L636.19 369.92 L637.3 367.58 L638.41 365.32 L639.53 363.11 L640.64 360.96 L641.75 358.87 L642.86 356.84 L643.97 354.87 L645.08 352.96 L646.19 351.09 L647.3 349.29 L648.42 347.53 L649.53 345.83 L650.64 344.18 L651.75 342.58 L652.86 341.03 L653.97 339.52 L655.08 338.07 L656.19 336.66 L657.31 335.29 L658.42 333.97 L659.53 332.69 L660.64 331.45 L661.75 330.25 L662.86 329.09 L663.97 327.97 L665.08 326.89 L666.2 325.84 L667.31 324.83 L668.42 323.85 L669.53 322.91 L670.64 322 L671.75 321.12 L672.86 320.27 L673.97 319.45 L675.09 318.66 L676.2 317.9 L677.31 317.16 L678.42 316.45 L679.53 315.77 L680.64 315.11 L681.75 314.47 L682.86 313.86 L683.98 313.27 L685.09 312.7 L686.2 312.15 L687.31 311.62 L688.42 311.11 L689.53 310.62 L690.64 310.15 L691.76 309.69 L692.87 309.25 L693.98 308.83 L695.09 308.42 L696.2 308.03 L697.31 307.65 L698.42 307.29 L699.53 306.93 L700.65 306.6 L701.76 306.27 L702.87 305.95 L703.98 305.65 L705.09 305.36 L706.2 305.07 L707.31 304.8 L708.42 304.54 L709.54 304.28 L710.65 304.04 L711.76 303.8 L712.87 303.57 L713.98 303.35 L715.09 303.14 L716.2 302.93" stroke-dasharray="3 1.3" stroke-width="1.15"/>
<path clip-path="url(#cb2)" d="M539.74 215.3 L539.91 221.52 L540.07 227.61 L540.24 233.56 L540.4 239.38 L540.57 245.07 L540.74 250.62 L540.9 256.06 L541.07 261.36 L541.23 266.55 L541.4 271.62 L541.57 276.56 L541.73 281.4 L541.9 286.11 L542.06 290.72 L542.23 295.21 L542.4 299.6 L542.56 303.88 L542.73 308.05 L542.89 312.12 L543.06 316.08 L543.23 319.95 L543.39 323.71 L543.56 327.38 L543.72 330.95 L543.89 334.43 L544.06 337.81 L544.22 341.09 L544.39 344.29 L544.55 347.4 L544.72 350.42 L544.89 353.35 L545.05 356.19 L545.22 358.95 L545.38 361.62 L545.55 364.21 L545.72 366.72 L545.88 369.15 L546.05 371.51 L546.21 373.78 L546.38 375.97 L546.54 378.09 L546.71 380.14 L546.88 382.11 L547.04 384.01 L547.21 385.84 L547.37 387.59 L547.54 389.28 L547.71 390.9 L547.87 392.46 L548.04 393.94 L548.2 395.37 L548.37 396.73 L548.54 398.02 L548.7 399.26 L548.87 400.44 L549.03 401.55 L549.2 402.61 L549.37 403.61 L549.53 404.56 L549.7 405.45 L549.86 406.29 L550.03 407.07 L550.2 407.81 L550.36 408.49 L550.53 409.13 L550.69 409.71 L550.86 410.25 L551.03 410.75 L551.19 411.19 L551.36 411.6 L551.52 411.96 L551.69 412.29 L551.86 412.57 L552.02 412.81 L552.19 413.01 L552.35 413.18 L552.52 413.31 L552.69 413.4 L552.85 413.47 L553.02 413.49 L553.18 413.49 L553.35 413.46 L553.52 413.39 L553.68 413.3 L553.85 413.18 L554.01 413.03 L554.18 412.86 L554.34 412.66 L554.51 412.43 L554.68 412.19 L554.84 411.92 L555.01 411.63 L555.17 411.32 L555.34 410.99 L555.51 410.64 L555.67 410.27 L555.84 409.89 L556 409.49 L556.17 409.07 L556.34 408.64 L556.5 408.2 L556.67 407.74 L556.83 407.27 L557 406.79 L557.17 406.3 L557.33 405.8 L557.5 405.28 L557.66 404.76 L557.83 404.23 L558 403.7 L558.16 403.15 L558.33 402.6 L558.49 402.04 L558.66 401.48 L558.83 400.91 L558.99 400.33 L559.16 399.75 L559.32 399.17 L559.49 398.59 L559.66 398 L559.82 397.41 L559.99 396.81 L560.15 396.22 L560.32 395.62 L560.49 395.03 L560.65 394.43 L560.82 393.83 L560.98 393.23 L561.15 392.63 L561.32 392.03 L561.48 391.44 L561.65 390.84 L561.81 390.24 L561.98 389.65 L562.14 389.05 L562.31 388.46 L562.48 387.87 L562.64 387.28 L562.81 386.69 L562.97 386.11 L563.14 385.52 L563.31 384.94 L563.47 384.36 L563.64 383.78 L563.8 383.21 L563.97 382.63 L564.14 382.06 L564.3 381.5 L564.47 380.93 L564.63 380.37 L564.8 379.8 L564.97 379.24 L565.13 378.69 L565.3 378.13 L565.46 377.58 L565.63 377.03 L565.8 376.48 L565.96 375.93 L566.13 375.39 L566.29 374.85 L566.46 374.3 L566.63 373.76 L566.79 373.23 L566.96 372.69 L567.12 372.15 L567.29 371.62 L567.46 371.09 L567.62 370.56 L567.79 370.02 L567.95 369.49 L568.12 368.97 L568.29 368.44 L568.45 367.91 L568.62 367.38 L568.78 366.85 L568.95 366.33 L569.11 365.8 L569.28 365.27 L569.45 364.75 L569.61 364.22 L569.78 363.69 L569.94 363.16 L570.11 362.63 L570.28 362.1 L570.44 361.57 L570.61 361.04 L570.77 360.51 L570.94 359.98 L571.11 359.45 L571.27 358.91 L571.44 358.38 L571.6 357.84 L571.77 357.3 L571.94 356.76 L572.1 356.22 L572.27 355.68 L572.43 355.13 L572.6 354.59 L573.39 351.98 L574.17 349.33 L574.96 346.65 L575.74 343.93 L576.53 341.18 L577.31 338.4 L578.1 335.61 L578.88 332.81 L579.67 330.01 L580.45 327.23 L581.24 324.46 L582.03 321.73 L582.81 319.05 L583.6 316.41 L584.38 313.84 L585.17 311.33 L585.95 308.89 L586.74 306.52 L587.52 304.23 L588.31 302.01 L589.09 299.88 L589.88 297.82 L590.66 295.83 L591.45 293.92 L592.24 292.08 L593.02 290.31 L593.81 288.6 L594.59 286.96 L595.38 285.37 L596.16 283.83 L596.95 282.35 L597.73 280.92 L598.52 279.53 L599.3 278.19 L600.09 276.89 L600.88 275.63 L601.66 274.41 L602.45 273.23 L603.23 272.09 L604.02 270.98 L604.8 269.92 L605.59 268.89 L606.37 267.9 L607.16 266.96 L607.94 266.05 L608.73 265.19 L609.52 264.37 L610.3 263.6 L611.09 262.86 L611.87 262.17 L612.66 261.52 L613.44 260.91 L614.23 260.34 L615.01 259.81 L615.8 259.32 L616.58 258.85 L617.37 258.43 L618.15 258.03 L618.94 257.66 L619.73 257.31 L620.51 256.99 L621.3 256.69 L622.08 256.41 L622.87 256.15 L623.65 255.9 L624.44 255.66 L625.22 255.44 L626.01 255.23 L626.79 255.03 L627.58 254.84 L628.37 254.66 L629.15 254.48 L629.94 254.31 L630.72 254.15 L631.51 253.99 L632.29 253.84 L633.08 253.69 L633.86 253.55 L634.65 253.41 L635.43 253.28 L636.22 253.14 L637.01 253.02 L637.79 252.89 L638.58 252.77 L639.36 252.65 L640.15 252.53 L640.93 252.41 L641.72 252.29 L642.5 252.18 L643.29 252.07 L644.07 251.96 L644.86 251.85 L645.64 251.74 L646.43 251.62 L647.22 251.51 L648 251.4 L648.79 251.29 L649.57 251.18 L650.36 251.07 L651.14 250.95 L651.93 250.84 L652.71 250.72 L653.5 250.6 L654.28 250.49 L655.07 250.37 L655.86 250.25 L656.64 250.13 L657.43 250.01 L658.21 249.89 L659 249.77 L659.78 249.65 L660.57 249.53 L661.35 249.42 L662.14 249.3 L662.92 249.18 L663.71 249.07 L664.49 248.96 L665.28 248.84 L666.07 248.73 L666.85 248.62 L667.64 248.52 L668.42 248.41 L669.21 248.3 L669.99 248.2 L670.78 248.1 L671.56 248 L672.35 247.9 L673.13 247.8 L673.92 247.71 L674.71 247.62 L675.49 247.52 L676.28 247.43 L677.06 247.34 L677.85 247.26 L678.63 247.17 L679.42 247.08 L680.2 247 L680.99 246.92 L681.77 246.84 L682.56 246.76 L683.35 246.68 L684.13 246.6 L684.92 246.53 L685.7 246.45 L686.49 246.38 L687.27 246.31 L688.06 246.24 L688.84 246.17 L689.63 246.1 L690.41 246.03 L691.2 245.97 L691.98 245.9 L692.77 245.84 L693.56 245.78 L694.34 245.71 L695.13 245.65 L695.91 245.59 L696.7 245.54 L697.48 245.48 L698.27 245.42 L699.05 245.37 L699.84 245.31 L700.62 245.26 L701.41 245.2 L702.2 245.15 L702.98 245.1 L703.77 245.05 L704.55 245 L705.34 244.95 L706.12 244.9 L706.91 244.86 L707.69 244.81 L708.48 244.77 L709.26 244.72 L710.05 244.68 L710.84 244.63 L711.62 244.59 L712.41 244.55 L713.19 244.51 L713.98 244.47 L714.76 244.43 L715.55 244.39 L716.33 244.35 L717.12 244.31 L717.9 244.28 L718.69 244.24 L719.47 244.21 L720.26 244.17 L721.05 244.14 L721.83 244.1 L722.62 244.07 L723.4 244.04 L724.19 244 L724.97 243.97 L725.76 243.94 L726.54 243.91 L727.33 243.88 L728.11 243.85 L728.9 243.82"/>
<path clip-path="url(#ci2)" d="M617.3 427 L618.41 423.81 L619.52 420.58 L620.63 417.31 L621.75 414.01 L622.86 410.71 L623.97 407.41 L625.08 404.14 L626.19 400.91 L627.3 397.72 L628.41 394.61 L629.52 391.56 L630.64 388.59 L631.75 385.69 L632.86 382.88 L633.97 380.15 L635.08 377.5 L636.19 374.92 L637.3 372.43 L638.41 370.01 L639.53 367.66 L640.64 365.39 L641.75 363.18 L642.86 361.04 L643.97 358.97 L645.08 356.96 L646.19 355.02 L647.3 353.13 L648.42 351.3 L649.53 349.53 L650.64 347.81 L651.75 346.14 L652.86 344.53 L653.97 342.97 L655.08 341.45 L656.19 339.99 L657.31 338.56 L658.42 337.19 L659.53 335.85 L660.64 334.56 L661.75 333.3 L662.86 332.09 L663.97 330.91 L665.08 329.77 L666.2 328.67 L667.31 327.6 L668.42 326.56 L669.53 325.56 L670.64 324.59 L671.75 323.65 L672.86 322.73 L673.97 321.85 L675.09 320.99 L676.2 320.16 L677.31 319.36 L678.42 318.58 L679.53 317.82 L680.64 317.09 L681.75 316.38 L682.86 315.7 L683.98 315.03 L685.09 314.38 L686.2 313.76 L687.31 313.15 L688.42 312.56 L689.53 311.99 L690.64 311.44 L691.76 310.91 L692.87 310.39 L693.98 309.88 L695.09 309.39 L696.2 308.92 L697.31 308.46 L698.42 308.02 L699.53 307.58 L700.65 307.16 L701.76 306.76 L702.87 306.36 L703.98 305.98 L705.09 305.6 L706.2 305.24 L707.31 304.89 L708.42 304.55 L709.54 304.22 L710.65 303.9 L711.76 303.59 L712.87 303.28 L713.98 302.99 L715.09 302.7 L716.2 302.42"/>
</g>
<rect x="59.5" y="7.5" width="217.5" height="200" fill="none" stroke="#484848" stroke-width="0.75"/>
<rect x="59.5" y="223.5" width="217.5" height="200" fill="none" stroke="#484848" stroke-width="0.75"/>
<rect x="152.5" y="287.5" width="108.7" height="120" fill="none" stroke="#484848" stroke-width="0.75"/>
<rect x="290" y="7.5" width="217.4" height="200" fill="none" stroke="#484848" stroke-width="0.75"/>
<rect x="290" y="223.5" width="217.4" height="200" fill="none" stroke="#484848" stroke-width="0.75"/>
<rect x="382.5" y="287.5" width="108.7" height="120" fill="none" stroke="#484848" stroke-width="0.75"/>
<rect x="520.5" y="7.5" width="217" height="200" fill="none" stroke="#484848" stroke-width="0.75"/>
<rect x="520.5" y="223.5" width="217" height="200" fill="none" stroke="#484848" stroke-width="0.75"/>
<rect x="612.5" y="287.5" width="108.7" height="120" fill="none" stroke="#484848" stroke-width="0.75"/>
<path d="M59.5 207.5v-2.5 M59.5 7.5v2.5 M132 207.5v-2.5 M132 7.5v2.5 M204.5 207.5v-2.5 M204.5 7.5v2.5 M277 207.5v-2.5 M277 7.5v2.5 M77.62 207.5v-1.35 M77.62 7.5v1.35 M95.75 207.5v-1.35 M95.75 7.5v1.35 M113.88 207.5v-1.35 M113.88 7.5v1.35 M150.12 207.5v-1.35 M150.12 7.5v1.35 M168.25 207.5v-1.35 M168.25 7.5v1.35 M186.38 207.5v-1.35 M186.38 7.5v1.35 M222.62 207.5v-1.35 M222.62 7.5v1.35 M240.75 207.5v-1.35 M240.75 7.5v1.35 M258.88 207.5v-1.35 M258.88 7.5v1.35 M59.5 207.5h2.5 M277 207.5h-2.5 M59.5 140.83h2.5 M277 140.83h-2.5 M59.5 74.17h2.5 M277 74.17h-2.5 M59.5 7.5h2.5 M277 7.5h-2.5 M59.5 190.83h1.35 M277 190.83h-1.35 M59.5 174.17h1.35 M277 174.17h-1.35 M59.5 157.5h1.35 M277 157.5h-1.35 M59.5 124.17h1.35 M277 124.17h-1.35 M59.5 107.5h1.35 M277 107.5h-1.35 M59.5 90.83h1.35 M277 90.83h-1.35 M59.5 57.5h1.35 M277 57.5h-1.35 M59.5 40.83h1.35 M277 40.83h-1.35 M59.5 24.17h1.35 M277 24.17h-1.35 M59.5 423.5v-2.5 M59.5 223.5v2.5 M111.6 423.5v-2.5 M111.6 223.5v2.5 M163.7 423.5v-2.5 M163.7 223.5v2.5 M215.8 423.5v-2.5 M215.8 223.5v2.5 M267.9 423.5v-2.5 M267.9 223.5v2.5 M72.53 423.5v-1.35 M72.53 223.5v1.35 M85.55 423.5v-1.35 M85.55 223.5v1.35 M98.58 423.5v-1.35 M98.58 223.5v1.35 M124.62 423.5v-1.35 M124.62 223.5v1.35 M137.65 423.5v-1.35 M137.65 223.5v1.35 M150.68 423.5v-1.35 M150.68 223.5v1.35 M176.73 423.5v-1.35 M176.73 223.5v1.35 M189.75 423.5v-1.35 M189.75 223.5v1.35 M202.78 423.5v-1.35 M202.78 223.5v1.35 M228.83 423.5v-1.35 M228.83 223.5v1.35 M241.85 423.5v-1.35 M241.85 223.5v1.35 M254.88 423.5v-1.35 M254.88 223.5v1.35 M59.5 241.68h2.5 M277 241.68h-2.5 M59.5 278.05h2.5 M277 278.05h-2.5 M59.5 314.41h2.5 M277 314.41h-2.5 M59.5 350.77h2.5 M277 350.77h-2.5 M59.5 387.14h2.5 M277 387.14h-2.5 M59.5 423.5h2.5 M277 423.5h-2.5 M59.5 227.14h1.35 M277 227.14h-1.35 M59.5 234.41h1.35 M277 234.41h-1.35 M59.5 248.95h1.35 M277 248.95h-1.35 M59.5 256.23h1.35 M277 256.23h-1.35 M59.5 263.5h1.35 M277 263.5h-1.35 M59.5 270.77h1.35 M277 270.77h-1.35 M59.5 285.32h1.35 M277 285.32h-1.35 M59.5 292.59h1.35 M277 292.59h-1.35 M59.5 299.86h1.35 M277 299.86h-1.35 M59.5 307.14h1.35 M277 307.14h-1.35 M59.5 321.68h1.35 M277 321.68h-1.35 M59.5 328.95h1.35 M277 328.95h-1.35 M59.5 336.23h1.35 M277 336.23h-1.35 M59.5 343.5h1.35 M277 343.5h-1.35 M59.5 358.05h1.35 M277 358.05h-1.35 M59.5 365.32h1.35 M277 365.32h-1.35 M59.5 372.59h1.35 M277 372.59h-1.35 M59.5 379.86h1.35 M277 379.86h-1.35 M59.5 394.41h1.35 M277 394.41h-1.35 M59.5 401.68h1.35 M277 401.68h-1.35 M59.5 408.95h1.35 M277 408.95h-1.35 M59.5 416.23h1.35 M277 416.23h-1.35 M157.3 407.5v-2.5 M157.3 287.5v2.5 M207.05 407.5v-2.5 M207.05 287.5v2.5 M256.8 407.5v-2.5 M256.8 287.5v2.5 M167.25 407.5v-1.35 M167.25 287.5v1.35 M177.2 407.5v-1.35 M177.2 287.5v1.35 M187.15 407.5v-1.35 M187.15 287.5v1.35 M197.1 407.5v-1.35 M197.1 287.5v1.35 M217 407.5v-1.35 M217 287.5v1.35 M226.95 407.5v-1.35 M226.95 287.5v1.35 M236.9 407.5v-1.35 M236.9 287.5v1.35 M246.85 407.5v-1.35 M246.85 287.5v1.35 M152.5 287.6h2.5 M261.2 287.6h-2.5 M152.5 341.95h2.5 M261.2 341.95h-2.5 M152.5 396.3h2.5 M261.2 396.3h-2.5 M152.5 298.47h1.35 M261.2 298.47h-1.35 M152.5 309.34h1.35 M261.2 309.34h-1.35 M152.5 320.21h1.35 M261.2 320.21h-1.35 M152.5 331.08h1.35 M261.2 331.08h-1.35 M152.5 352.82h1.35 M261.2 352.82h-1.35 M152.5 363.69h1.35 M261.2 363.69h-1.35 M152.5 374.56h1.35 M261.2 374.56h-1.35 M152.5 385.43h1.35 M261.2 385.43h-1.35 M290 207.5v-2.5 M290 7.5v2.5 M362.47 207.5v-2.5 M362.47 7.5v2.5 M434.93 207.5v-2.5 M434.93 7.5v2.5 M507.4 207.5v-2.5 M507.4 7.5v2.5 M308.12 207.5v-1.35 M308.12 7.5v1.35 M326.23 207.5v-1.35 M326.23 7.5v1.35 M344.35 207.5v-1.35 M344.35 7.5v1.35 M380.58 207.5v-1.35 M380.58 7.5v1.35 M398.7 207.5v-1.35 M398.7 7.5v1.35 M416.82 207.5v-1.35 M416.82 7.5v1.35 M453.05 207.5v-1.35 M453.05 7.5v1.35 M471.17 207.5v-1.35 M471.17 7.5v1.35 M489.28 207.5v-1.35 M489.28 7.5v1.35 M290 207.5h2.5 M507.4 207.5h-2.5 M290 140.83h2.5 M507.4 140.83h-2.5 M290 74.17h2.5 M507.4 74.17h-2.5 M290 7.5h2.5 M507.4 7.5h-2.5 M290 190.83h1.35 M507.4 190.83h-1.35 M290 174.17h1.35 M507.4 174.17h-1.35 M290 157.5h1.35 M507.4 157.5h-1.35 M290 124.17h1.35 M507.4 124.17h-1.35 M290 107.5h1.35 M507.4 107.5h-1.35 M290 90.83h1.35 M507.4 90.83h-1.35 M290 57.5h1.35 M507.4 57.5h-1.35 M290 40.83h1.35 M507.4 40.83h-1.35 M290 24.17h1.35 M507.4 24.17h-1.35 M290 423.5v-2.5 M290 223.5v2.5 M342.1 423.5v-2.5 M342.1 223.5v2.5 M394.2 423.5v-2.5 M394.2 223.5v2.5 M446.3 423.5v-2.5 M446.3 223.5v2.5 M498.4 423.5v-2.5 M498.4 223.5v2.5 M303.02 423.5v-1.35 M303.02 223.5v1.35 M316.05 423.5v-1.35 M316.05 223.5v1.35 M329.07 423.5v-1.35 M329.07 223.5v1.35 M355.12 423.5v-1.35 M355.12 223.5v1.35 M368.15 423.5v-1.35 M368.15 223.5v1.35 M381.18 423.5v-1.35 M381.18 223.5v1.35 M407.23 423.5v-1.35 M407.23 223.5v1.35 M420.25 423.5v-1.35 M420.25 223.5v1.35 M433.27 423.5v-1.35 M433.27 223.5v1.35 M459.33 423.5v-1.35 M459.33 223.5v1.35 M472.35 423.5v-1.35 M472.35 223.5v1.35 M485.38 423.5v-1.35 M485.38 223.5v1.35 M290 241.68h2.5 M507.4 241.68h-2.5 M290 278.05h2.5 M507.4 278.05h-2.5 M290 314.41h2.5 M507.4 314.41h-2.5 M290 350.77h2.5 M507.4 350.77h-2.5 M290 387.14h2.5 M507.4 387.14h-2.5 M290 423.5h2.5 M507.4 423.5h-2.5 M290 227.14h1.35 M507.4 227.14h-1.35 M290 234.41h1.35 M507.4 234.41h-1.35 M290 248.95h1.35 M507.4 248.95h-1.35 M290 256.23h1.35 M507.4 256.23h-1.35 M290 263.5h1.35 M507.4 263.5h-1.35 M290 270.77h1.35 M507.4 270.77h-1.35 M290 285.32h1.35 M507.4 285.32h-1.35 M290 292.59h1.35 M507.4 292.59h-1.35 M290 299.86h1.35 M507.4 299.86h-1.35 M290 307.14h1.35 M507.4 307.14h-1.35 M290 321.68h1.35 M507.4 321.68h-1.35 M290 328.95h1.35 M507.4 328.95h-1.35 M290 336.23h1.35 M507.4 336.23h-1.35 M290 343.5h1.35 M507.4 343.5h-1.35 M290 358.05h1.35 M507.4 358.05h-1.35 M290 365.32h1.35 M507.4 365.32h-1.35 M290 372.59h1.35 M507.4 372.59h-1.35 M290 379.86h1.35 M507.4 379.86h-1.35 M290 394.41h1.35 M507.4 394.41h-1.35 M290 401.68h1.35 M507.4 401.68h-1.35 M290 408.95h1.35 M507.4 408.95h-1.35 M290 416.23h1.35 M507.4 416.23h-1.35 M387.3 407.5v-2.5 M387.3 287.5v2.5 M437.05 407.5v-2.5 M437.05 287.5v2.5 M486.8 407.5v-2.5 M486.8 287.5v2.5 M397.25 407.5v-1.35 M397.25 287.5v1.35 M407.2 407.5v-1.35 M407.2 287.5v1.35 M417.15 407.5v-1.35 M417.15 287.5v1.35 M427.1 407.5v-1.35 M427.1 287.5v1.35 M447 407.5v-1.35 M447 287.5v1.35 M456.95 407.5v-1.35 M456.95 287.5v1.35 M466.9 407.5v-1.35 M466.9 287.5v1.35 M476.85 407.5v-1.35 M476.85 287.5v1.35 M382.5 287.6h2.5 M491.2 287.6h-2.5 M382.5 341.95h2.5 M491.2 341.95h-2.5 M382.5 396.3h2.5 M491.2 396.3h-2.5 M382.5 298.47h1.35 M491.2 298.47h-1.35 M382.5 309.34h1.35 M491.2 309.34h-1.35 M382.5 320.21h1.35 M491.2 320.21h-1.35 M382.5 331.08h1.35 M491.2 331.08h-1.35 M382.5 352.82h1.35 M491.2 352.82h-1.35 M382.5 363.69h1.35 M491.2 363.69h-1.35 M382.5 374.56h1.35 M491.2 374.56h-1.35 M382.5 385.43h1.35 M491.2 385.43h-1.35 M520.5 207.5v-2.5 M520.5 7.5v2.5 M592.83 207.5v-2.5 M592.83 7.5v2.5 M665.17 207.5v-2.5 M665.17 7.5v2.5 M737.5 207.5v-2.5 M737.5 7.5v2.5 M538.58 207.5v-1.35 M538.58 7.5v1.35 M556.67 207.5v-1.35 M556.67 7.5v1.35 M574.75 207.5v-1.35 M574.75 7.5v1.35 M610.92 207.5v-1.35 M610.92 7.5v1.35 M629 207.5v-1.35 M629 7.5v1.35 M647.08 207.5v-1.35 M647.08 7.5v1.35 M683.25 207.5v-1.35 M683.25 7.5v1.35 M701.33 207.5v-1.35 M701.33 7.5v1.35 M719.42 207.5v-1.35 M719.42 7.5v1.35 M520.5 207.5h2.5 M737.5 207.5h-2.5 M520.5 140.83h2.5 M737.5 140.83h-2.5 M520.5 74.17h2.5 M737.5 74.17h-2.5 M520.5 7.5h2.5 M737.5 7.5h-2.5 M520.5 190.83h1.35 M737.5 190.83h-1.35 M520.5 174.17h1.35 M737.5 174.17h-1.35 M520.5 157.5h1.35 M737.5 157.5h-1.35 M520.5 124.17h1.35 M737.5 124.17h-1.35 M520.5 107.5h1.35 M737.5 107.5h-1.35 M520.5 90.83h1.35 M737.5 90.83h-1.35 M520.5 57.5h1.35 M737.5 57.5h-1.35 M520.5 40.83h1.35 M737.5 40.83h-1.35 M520.5 24.17h1.35 M737.5 24.17h-1.35 M520.5 423.5v-2.5 M520.5 223.5v2.5 M572.6 423.5v-2.5 M572.6 223.5v2.5 M624.7 423.5v-2.5 M624.7 223.5v2.5 M676.8 423.5v-2.5 M676.8 223.5v2.5 M728.9 423.5v-2.5 M728.9 223.5v2.5 M533.52 423.5v-1.35 M533.52 223.5v1.35 M546.55 423.5v-1.35 M546.55 223.5v1.35 M559.58 423.5v-1.35 M559.58 223.5v1.35 M585.62 423.5v-1.35 M585.62 223.5v1.35 M598.65 423.5v-1.35 M598.65 223.5v1.35 M611.67 423.5v-1.35 M611.67 223.5v1.35 M637.73 423.5v-1.35 M637.73 223.5v1.35 M650.75 423.5v-1.35 M650.75 223.5v1.35 M663.77 423.5v-1.35 M663.77 223.5v1.35 M689.83 423.5v-1.35 M689.83 223.5v1.35 M702.85 423.5v-1.35 M702.85 223.5v1.35 M715.88 423.5v-1.35 M715.88 223.5v1.35 M520.5 241.68h2.5 M737.5 241.68h-2.5 M520.5 278.05h2.5 M737.5 278.05h-2.5 M520.5 314.41h2.5 M737.5 314.41h-2.5 M520.5 350.77h2.5 M737.5 350.77h-2.5 M520.5 387.14h2.5 M737.5 387.14h-2.5 M520.5 423.5h2.5 M737.5 423.5h-2.5 M520.5 227.14h1.35 M737.5 227.14h-1.35 M520.5 234.41h1.35 M737.5 234.41h-1.35 M520.5 248.95h1.35 M737.5 248.95h-1.35 M520.5 256.23h1.35 M737.5 256.23h-1.35 M520.5 263.5h1.35 M737.5 263.5h-1.35 M520.5 270.77h1.35 M737.5 270.77h-1.35 M520.5 285.32h1.35 M737.5 285.32h-1.35 M520.5 292.59h1.35 M737.5 292.59h-1.35 M520.5 299.86h1.35 M737.5 299.86h-1.35 M520.5 307.14h1.35 M737.5 307.14h-1.35 M520.5 321.68h1.35 M737.5 321.68h-1.35 M520.5 328.95h1.35 M737.5 328.95h-1.35 M520.5 336.23h1.35 M737.5 336.23h-1.35 M520.5 343.5h1.35 M737.5 343.5h-1.35 M520.5 358.05h1.35 M737.5 358.05h-1.35 M520.5 365.32h1.35 M737.5 365.32h-1.35 M520.5 372.59h1.35 M737.5 372.59h-1.35 M520.5 379.86h1.35 M737.5 379.86h-1.35 M520.5 394.41h1.35 M737.5 394.41h-1.35 M520.5 401.68h1.35 M737.5 401.68h-1.35 M520.5 408.95h1.35 M737.5 408.95h-1.35 M520.5 416.23h1.35 M737.5 416.23h-1.35 M617.3 407.5v-2.5 M617.3 287.5v2.5 M667.05 407.5v-2.5 M667.05 287.5v2.5 M716.8 407.5v-2.5 M716.8 287.5v2.5 M627.25 407.5v-1.35 M627.25 287.5v1.35 M637.2 407.5v-1.35 M637.2 287.5v1.35 M647.15 407.5v-1.35 M647.15 287.5v1.35 M657.1 407.5v-1.35 M657.1 287.5v1.35 M677 407.5v-1.35 M677 287.5v1.35 M686.95 407.5v-1.35 M686.95 287.5v1.35 M696.9 407.5v-1.35 M696.9 287.5v1.35 M706.85 407.5v-1.35 M706.85 287.5v1.35 M612.5 287.6h2.5 M721.2 287.6h-2.5 M612.5 341.95h2.5 M721.2 341.95h-2.5 M612.5 396.3h2.5 M721.2 396.3h-2.5 M612.5 298.47h1.35 M721.2 298.47h-1.35 M612.5 309.34h1.35 M721.2 309.34h-1.35 M612.5 320.21h1.35 M721.2 320.21h-1.35 M612.5 331.08h1.35 M721.2 331.08h-1.35 M612.5 352.82h1.35 M721.2 352.82h-1.35 M612.5 363.69h1.35 M721.2 363.69h-1.35 M612.5 374.56h1.35 M721.2 374.56h-1.35 M612.5 385.43h1.35 M721.2 385.43h-1.35 " stroke="#484848" stroke-width="0.85" fill="none"/>
<g font-family="'Liberation Serif', 'DejaVu Serif', serif" font-size="14" letter-spacing="-0.35" fill="#222">
<text x="59.7" y="219.8" text-anchor="middle">4</text>
<text x="132.2" y="219.8" text-anchor="middle">6</text>
<text x="204.7" y="219.8" text-anchor="middle">8</text>
<text x="277.2" y="219.8" text-anchor="middle">10</text>
<text x="59.7" y="436.9" text-anchor="middle">2</text>
<text x="111.8" y="436.9" text-anchor="middle">4</text>
<text x="163.9" y="436.9" text-anchor="middle">6</text>
<text x="216" y="436.9" text-anchor="middle">8</text>
<text x="268.1" y="436.9" text-anchor="middle">10</text>
<text x="167.95" y="451.7" text-anchor="middle" font-size="14.5" word-spacing="1.5"><tspan font-style="italic">R</tspan> (<tspan font-style="italic">a</tspan><tspan font-size="10" dy="2.3">0</tspan><tspan dy="-2.3">)</tspan></text>
<text x="157.6" y="420.4" text-anchor="middle">7.0</text>
<text x="207.35" y="420.4" text-anchor="middle">9.5</text>
<text x="257.1" y="420.4" text-anchor="middle">12.0</text>
<text x="150.2" y="292.7" text-anchor="end">0</text>
<text x="150.2" y="347.05" text-anchor="end">−100</text>
<text x="150.2" y="401.4" text-anchor="end">−200</text>
<text x="290.2" y="219.8" text-anchor="middle">4</text>
<text x="362.67" y="219.8" text-anchor="middle">6</text>
<text x="435.13" y="219.8" text-anchor="middle">8</text>
<text x="507.6" y="219.8" text-anchor="middle">10</text>
<text x="290.2" y="436.9" text-anchor="middle">2</text>
<text x="342.3" y="436.9" text-anchor="middle">4</text>
<text x="394.4" y="436.9" text-anchor="middle">6</text>
<text x="446.5" y="436.9" text-anchor="middle">8</text>
<text x="498.6" y="436.9" text-anchor="middle">10</text>
<text x="398.4" y="451.7" text-anchor="middle" font-size="14.5" word-spacing="1.5"><tspan font-style="italic">R</tspan> (<tspan font-style="italic">a</tspan><tspan font-size="10" dy="2.3">0</tspan><tspan dy="-2.3">)</tspan></text>
<text x="387.6" y="420.4" text-anchor="middle">7.0</text>
<text x="437.35" y="420.4" text-anchor="middle">9.5</text>
<text x="487.1" y="420.4" text-anchor="middle">12.0</text>
<text x="380.2" y="292.7" text-anchor="end">0</text>
<text x="380.2" y="347.05" text-anchor="end">−100</text>
<text x="380.2" y="401.4" text-anchor="end">−200</text>
<text x="520.7" y="219.8" text-anchor="middle">4</text>
<text x="593.03" y="219.8" text-anchor="middle">6</text>
<text x="665.37" y="219.8" text-anchor="middle">8</text>
<text x="737.7" y="219.8" text-anchor="middle">10</text>
<text x="520.7" y="436.9" text-anchor="middle">2</text>
<text x="572.8" y="436.9" text-anchor="middle">4</text>
<text x="624.9" y="436.9" text-anchor="middle">6</text>
<text x="677" y="436.9" text-anchor="middle">8</text>
<text x="729.1" y="436.9" text-anchor="middle">10</text>
<text x="628.7" y="451.7" text-anchor="middle" font-size="14.5" word-spacing="1.5"><tspan font-style="italic">R</tspan> (<tspan font-style="italic">a</tspan><tspan font-size="10" dy="2.3">0</tspan><tspan dy="-2.3">)</tspan></text>
<text x="617.6" y="420.4" text-anchor="middle">7.0</text>
<text x="667.35" y="420.4" text-anchor="middle">9.5</text>
<text x="717.1" y="420.4" text-anchor="middle">12.0</text>
<text x="610.2" y="292.7" text-anchor="end">0</text>
<text x="610.2" y="347.05" text-anchor="end">−100</text>
<text x="610.2" y="401.4" text-anchor="end">−200</text>
<text x="56.9" y="212.6" text-anchor="end">0</text>
<text x="56.9" y="145.93" text-anchor="end">30</text>
<text x="56.9" y="79.27" text-anchor="end">60</text>
<text x="56.9" y="12.6" text-anchor="end">90</text>
<text x="56.9" y="246.78" text-anchor="end">0</text>
<text x="56.9" y="283.15" text-anchor="end">−1000</text>
<text x="56.9" y="319.51" text-anchor="end">−2000</text>
<text x="56.9" y="355.87" text-anchor="end">−3000</text>
<text x="56.9" y="392.24" text-anchor="end">−4000</text>
<text x="56.9" y="428.6" text-anchor="end">−5000</text>
<text transform="translate(38.3,107.5) rotate(-90)" text-anchor="middle" font-size="14.5"><tspan font-style="italic">θ</tspan> (°)</text>
<text transform="translate(14.8,323.3) rotate(-90)" text-anchor="middle" font-size="14.5"><tspan font-style="italic">V</tspan>(<tspan font-style="italic">R</tspan>, <tspan font-style="italic">r</tspan> = 2.0 <tspan font-style="italic">a</tspan><tspan font-size="10" dy="2.3">0</tspan><tspan dy="-2.3">, </tspan><tspan font-style="italic">θ</tspan>) (cm<tspan font-size="10" dy="-5">−1</tspan><tspan dy="5">)</tspan></text>
</g>
</svg>
</body></html>
